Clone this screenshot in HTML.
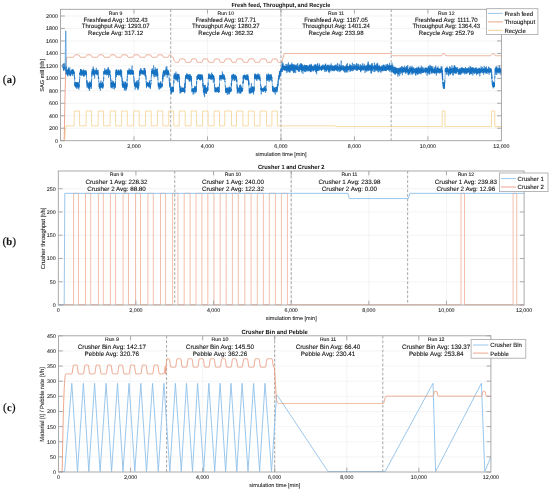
<!DOCTYPE html>
<html><head><meta charset="utf-8"><title>Simulation runs</title>
<style>
html,body{margin:0;padding:0;background:#fff;}
body{width:550px;height:491px;overflow:hidden;}
svg{display:block;filter:blur(0.3px);font-family:"Liberation Sans",Arial,sans-serif;text-rendering:geometricPrecision;}
</style></head>
<body>
<svg width="550" height="491" viewBox="0 0 550 491">
<rect x="0" y="0" width="550" height="491" fill="#ffffff"/>
<line x1="133.98" y1="9.3" x2="133.98" y2="140.7" stroke="#f1f1f1" stroke-width="0.8" />
<line x1="207.47" y1="9.3" x2="207.47" y2="140.7" stroke="#f1f1f1" stroke-width="0.8" />
<line x1="280.95" y1="9.3" x2="280.95" y2="140.7" stroke="#f1f1f1" stroke-width="0.8" />
<line x1="354.43" y1="9.3" x2="354.43" y2="140.7" stroke="#f1f1f1" stroke-width="0.8" />
<line x1="427.92" y1="9.3" x2="427.92" y2="140.7" stroke="#f1f1f1" stroke-width="0.8" />
<line x1="60.5" y1="128.23" x2="501.4" y2="128.23" stroke="#f1f1f1" stroke-width="0.8" />
<line x1="60.5" y1="115.76" x2="501.4" y2="115.76" stroke="#f1f1f1" stroke-width="0.8" />
<line x1="60.5" y1="103.29" x2="501.4" y2="103.29" stroke="#f1f1f1" stroke-width="0.8" />
<line x1="60.5" y1="90.82" x2="501.4" y2="90.82" stroke="#f1f1f1" stroke-width="0.8" />
<line x1="60.5" y1="78.35" x2="501.4" y2="78.35" stroke="#f1f1f1" stroke-width="0.8" />
<line x1="60.5" y1="65.88" x2="501.4" y2="65.88" stroke="#f1f1f1" stroke-width="0.8" />
<line x1="60.5" y1="53.41" x2="501.4" y2="53.41" stroke="#f1f1f1" stroke-width="0.8" />
<line x1="60.5" y1="40.94" x2="501.4" y2="40.94" stroke="#f1f1f1" stroke-width="0.8" />
<line x1="60.5" y1="28.47" x2="501.4" y2="28.47" stroke="#f1f1f1" stroke-width="0.8" />
<line x1="60.5" y1="16" x2="501.4" y2="16" stroke="#f1f1f1" stroke-width="0.8" />
<line x1="170.72" y1="9.3" x2="170.72" y2="140.7" stroke="#8a8a8a" stroke-width="0.75" stroke-dasharray="2.8,1.8"/>
<line x1="280.95" y1="9.3" x2="280.95" y2="140.7" stroke="#8a8a8a" stroke-width="0.75" stroke-dasharray="2.8,1.8"/>
<line x1="391.18" y1="9.3" x2="391.18" y2="140.7" stroke="#8a8a8a" stroke-width="0.75" stroke-dasharray="2.8,1.8"/>
<polyline points="60.5,140.4 64.6,140.4 65.9,125.9 74.2,125.9 74.2,111 79.6,111 79.6,125.9 86.2,125.9 86.2,111 91.6,111 91.6,125.9 98.2,125.9 98.2,111 103.6,111 103.6,125.9 110.2,125.9 110.2,111 115.6,111 115.6,125.9 121.6,125.9 121.6,111 127.3,111 127.3,125.9 133.6,125.9 133.6,111 139.2,111 139.2,125.9 145.6,125.9 145.6,111 151.2,111 151.2,125.9 157.4,125.9 157.4,111 162.8,111 162.8,125.9 168.8,125.9 168.8,111 173.7,111 173.7,125.9 179.2,125.9 179.2,111 185.2,111 185.2,125.9 191.2,125.9 191.2,111 196.6,111 196.6,125.9 202.6,125.9 202.6,111 208.1,111 208.1,125.9 214.1,125.9 214.1,111 219.5,111 219.5,125.9 224.8,125.9 224.8,111 231.5,111 231.5,125.9 236.5,125.9 236.5,111 242.9,111 242.9,125.9 248.3,125.9 248.3,111 254.4,111 254.4,125.9 260.1,125.9 260.1,111 266.5,111 266.5,125.9 271.9,125.9 271.9,111 277.3,111 277.3,125.9 336,125.9 336,126.6 442.2,126.6 442.2,111 445,111 445,126.6 491.5,126.6 491.5,111 494.8,111 494.8,126.6 501.4,126.6" fill="none" stroke="#f4cf8a" stroke-width="0.75" stroke-linejoin="round" />
<polyline points="60.5,140.5 60.75,140.5 61,140.5 61.25,140.5 61.5,140.5 61.75,140.5 62,140.5 62.25,140.5 62.5,140.5 62.75,140.5 63,140.5 63.25,140.5 63.5,140.5 63.75,140.5 64,140.5 64.25,137.27 64.5,122.14 64.75,108.73 65,96.99 65.25,86.88 65.5,78.38 65.75,71.41 66,65.94 66.25,61.89 66.5,59.18 66.75,57.71 67,57.3 67.25,57.3 67.5,57.3 67.75,57.3 68,57.3 68.25,57.3 68.5,57.3 68.75,57.3 69,57.3 69.25,57.3 69.5,57.3 69.75,57.3 70,57.3 70.25,57.3 70.5,57.3 70.75,57.3 71,57.3 71.25,57.3 71.5,57.3 71.75,57.3 72,57.3 72.25,57.3 72.5,57.3 72.75,57.3 73,57.3 73.25,57.3 73.5,57.22 73.75,56.93 74,56.48 74.25,55.94 74.5,55.42 74.75,55.03 75,54.82 75.25,54.8 75.5,54.8 75.75,54.8 76,54.8 76.25,54.8 76.5,54.8 76.75,54.8 77,54.8 77.25,54.8 77.5,54.8 77.75,54.8 78,54.8 78.25,54.8 78.5,54.8 78.75,54.8 79,54.97 79.25,55.33 79.5,55.83 79.75,56.37 80,56.85 80.25,57.18 80.5,57.3 80.75,57.3 81,57.3 81.25,57.3 81.5,57.3 81.75,57.3 82,57.3 82.25,57.3 82.5,57.3 82.75,57.3 83,57.3 83.25,57.3 83.5,57.3 83.75,57.3 84,57.3 84.25,57.3 84.5,57.3 84.75,57.3 85,57.3 85.25,57.3 85.5,57.22 85.75,56.93 86,56.48 86.25,55.94 86.5,55.42 86.75,55.03 87,54.82 87.25,54.8 87.5,54.8 87.75,54.8 88,54.8 88.25,54.8 88.5,54.8 88.75,54.8 89,54.8 89.25,54.8 89.5,54.8 89.75,54.8 90,54.8 90.25,54.8 90.5,54.8 90.75,54.8 91,54.97 91.25,55.33 91.5,55.83 91.75,56.37 92,56.85 92.25,57.18 92.5,57.3 92.75,57.3 93,57.3 93.25,57.3 93.5,57.3 93.75,57.3 94,57.3 94.25,57.3 94.5,57.3 94.75,57.3 95,57.3 95.25,57.3 95.5,57.3 95.75,57.3 96,57.3 96.25,57.3 96.5,57.3 96.75,57.3 97,57.3 97.25,57.3 97.5,57.22 97.75,56.93 98,56.48 98.25,55.94 98.5,55.42 98.75,55.03 99,54.82 99.25,54.8 99.5,54.8 99.75,54.8 100,54.8 100.25,54.8 100.5,54.8 100.75,54.8 101,54.8 101.25,54.8 101.5,54.8 101.75,54.8 102,54.8 102.25,54.8 102.5,54.8 102.75,54.8 103,54.97 103.25,55.33 103.5,55.83 103.75,56.37 104,56.85 104.25,57.18 104.5,57.3 104.75,57.3 105,57.3 105.25,57.3 105.5,57.3 105.75,57.3 106,57.3 106.25,57.3 106.5,57.3 106.75,57.3 107,57.3 107.25,57.3 107.5,57.3 107.75,57.3 108,57.3 108.25,57.3 108.5,57.3 108.75,57.3 109,57.3 109.25,57.3 109.5,57.22 109.75,56.93 110,56.48 110.25,55.94 110.5,55.42 110.75,55.03 111,54.82 111.25,54.8 111.5,54.8 111.75,54.8 112,54.8 112.25,54.8 112.5,54.8 112.75,54.8 113,54.8 113.25,54.8 113.5,54.8 113.75,54.8 114,54.8 114.25,54.8 114.5,54.8 114.75,54.8 115,54.97 115.25,55.33 115.5,55.83 115.75,56.37 116,56.85 116.25,57.18 116.5,57.3 116.75,57.3 117,57.3 117.25,57.3 117.5,57.3 117.75,57.3 118,57.3 118.25,57.3 118.5,57.3 118.75,57.3 119,57.3 119.25,57.3 119.5,57.3 119.75,57.3 120,57.3 120.25,57.3 120.5,57.3 120.75,57.3 121,57.13 121.25,56.77 121.5,56.27 121.75,55.73 122,55.25 122.25,54.92 122.5,54.8 122.75,54.8 123,54.8 123.25,54.8 123.5,54.8 123.75,54.8 124,54.8 124.25,54.8 124.5,54.8 124.75,54.8 125,54.8 125.25,54.8 125.5,54.8 125.75,54.8 126,54.8 126.25,54.8 126.5,54.82 126.75,55.03 127,55.43 127.25,55.94 127.5,56.48 127.75,56.93 128,57.22 128.25,57.3 128.5,57.3 128.75,57.3 129,57.3 129.25,57.3 129.5,57.3 129.75,57.3 130,57.3 130.25,57.3 130.5,57.3 130.75,57.3 131,57.3 131.25,57.3 131.5,57.3 131.75,57.3 132,57.3 132.25,57.3 132.5,57.3 132.75,57.3 133,57.13 133.25,56.77 133.5,56.27 133.75,55.73 134,55.25 134.25,54.92 134.5,54.8 134.75,54.8 135,54.8 135.25,54.8 135.5,54.8 135.75,54.8 136,54.8 136.25,54.8 136.5,54.8 136.75,54.8 137,54.8 137.25,54.8 137.5,54.8 137.75,54.8 138,54.8 138.25,54.8 138.5,54.88 138.75,55.17 139,55.62 139.25,56.16 139.5,56.68 139.75,57.07 140,57.28 140.25,57.3 140.5,57.3 140.75,57.3 141,57.3 141.25,57.3 141.5,57.3 141.75,57.3 142,57.3 142.25,57.3 142.5,57.3 142.75,57.3 143,57.3 143.25,57.3 143.5,57.3 143.75,57.3 144,57.3 144.25,57.3 144.5,57.3 144.75,57.3 145,57.13 145.25,56.77 145.5,56.27 145.75,55.73 146,55.25 146.25,54.92 146.5,54.8 146.75,54.8 147,54.8 147.25,54.8 147.5,54.8 147.75,54.8 148,54.8 148.25,54.8 148.5,54.8 148.75,54.8 149,54.8 149.25,54.8 149.5,54.8 149.75,54.8 150,54.8 150.25,54.8 150.5,54.88 150.75,55.17 151,55.62 151.25,56.16 151.5,56.68 151.75,57.07 152,57.28 152.25,57.3 152.5,57.3 152.75,57.3 153,57.3 153.25,57.3 153.5,57.3 153.75,57.3 154,57.3 154.25,57.3 154.5,57.3 154.75,57.3 155,57.3 155.25,57.3 155.5,57.3 155.75,57.3 156,57.3 156.25,57.3 156.5,57.3 156.75,57.18 157,56.85 157.25,56.37 157.5,55.83 157.75,55.33 158,54.97 158.25,54.8 158.5,54.8 158.75,54.8 159,54.8 159.25,54.8 159.5,54.8 159.75,54.8 160,54.8 160.25,54.8 160.5,54.8 160.75,54.8 161,54.8 161.25,54.8 161.5,54.8 161.75,54.8 162,54.82 162.25,55.03 162.5,55.42 162.75,55.94 163,56.48 163.25,56.93 163.5,57.22 163.75,57.3 164,57.3 164.25,57.3 164.5,57.3 164.75,57.3 165,57.3 165.25,57.3 165.5,57.3 165.75,57.3 166,57.3 166.25,57.3 166.5,57.3 166.75,57.3 167,57.3 167.25,57.3 167.5,57.3 167.75,57.3 168,57.28 168.25,57.07 168.5,56.68 168.75,56.16 169,55.62 169.25,55.17 169.5,54.88 169.75,54.8 170,54.8 170.25,54.8 170.5,55.09 170.75,55.32 171,55.55 171.25,55.77 171.5,56 171.75,56.23 172,56.46 172.25,56.68 172.5,56.91 172.75,57.14 173,57.44 173.25,57.93 173.5,58.58 173.75,59.3 174,60 174.25,60.6 174.5,61.02 174.75,61.26 175,61.49 175.25,61.72 175.5,61.94 175.75,62.17 176,62.4 176.25,62.4 176.5,62.4 176.75,62.4 177,62.4 177.25,62.4 177.5,62.4 177.75,62.4 178,62.4 178.25,62.4 178.5,62.29 178.75,61.89 179,61.25 179.25,60.5 179.5,59.77 179.75,59.22 180,58.93 180.25,58.9 180.5,58.9 180.75,58.9 181,58.9 181.25,58.9 181.5,58.9 181.75,58.9 182,58.9 182.25,58.9 182.5,58.9 182.75,58.9 183,58.9 183.25,58.9 183.5,58.9 183.75,58.9 184,58.9 184.25,58.9 184.5,59.01 184.75,59.41 185,60.05 185.25,60.8 185.5,61.53 185.75,62.08 186,62.37 186.25,62.4 186.5,62.4 186.75,62.4 187,62.4 187.25,62.4 187.5,62.4 187.75,62.4 188,62.4 188.25,62.4 188.5,62.4 188.75,62.4 189,62.4 189.25,62.4 189.5,62.4 189.75,62.4 190,62.4 190.25,62.4 190.5,62.29 190.75,61.89 191,61.25 191.25,60.5 191.5,59.77 191.75,59.22 192,58.93 192.25,58.9 192.5,58.9 192.75,58.9 193,58.9 193.25,58.9 193.5,58.9 193.75,58.9 194,58.9 194.25,58.9 194.5,58.9 194.75,58.9 195,58.9 195.25,58.9 195.5,58.9 195.75,58.91 196,59.13 196.25,59.65 196.5,60.35 196.75,61.1 197,61.77 197.25,62.24 197.5,62.4 197.75,62.4 198,62.4 198.25,62.4 198.5,62.4 198.75,62.4 199,62.4 199.25,62.4 199.5,62.4 199.75,62.4 200,62.4 200.25,62.4 200.5,62.4 200.75,62.4 201,62.4 201.25,62.4 201.5,62.4 201.75,62.39 202,62.17 202.25,61.65 202.5,60.95 202.75,60.2 203,59.53 203.25,59.06 203.5,58.9 203.75,58.9 204,58.9 204.25,58.9 204.5,58.9 204.75,58.9 205,58.9 205.25,58.9 205.5,58.9 205.75,58.9 206,58.9 206.25,58.9 206.5,58.9 206.75,58.9 207,58.9 207.25,58.91 207.5,59.13 207.75,59.65 208,60.35 208.25,61.1 208.5,61.77 208.75,62.24 209,62.4 209.25,62.4 209.5,62.4 209.75,62.4 210,62.4 210.25,62.4 210.5,62.4 210.75,62.4 211,62.4 211.25,62.4 211.5,62.4 211.75,62.4 212,62.4 212.25,62.4 212.5,62.4 212.75,62.4 213,62.4 213.25,62.39 213.5,62.17 213.75,61.65 214,60.95 214.25,60.2 214.5,59.53 214.75,59.06 215,58.9 215.25,58.9 215.5,58.9 215.75,58.9 216,58.9 216.25,58.9 216.5,58.9 216.75,58.9 217,58.9 217.25,58.9 217.5,58.9 217.75,58.9 218,58.9 218.25,58.9 218.5,58.9 218.75,58.96 219,59.31 219.25,59.91 219.5,60.65 219.75,61.39 220,61.99 220.25,62.34 220.5,62.4 220.75,62.4 221,62.4 221.25,62.4 221.5,62.4 221.75,62.4 222,62.4 222.25,62.4 222.5,62.4 222.75,62.4 223,62.4 223.25,62.4 223.5,62.4 223.75,62.4 224,62.37 224.25,62.08 224.5,61.53 224.75,60.8 225,60.05 225.25,59.41 225.5,59.01 225.75,58.9 226,58.9 226.25,58.9 226.5,58.9 226.75,58.9 227,58.9 227.25,58.9 227.5,58.9 227.75,58.9 228,58.9 228.25,58.9 228.5,58.9 228.75,58.9 229,58.9 229.25,58.9 229.5,58.9 229.75,58.9 230,58.9 230.25,58.9 230.5,58.9 230.75,58.96 231,59.31 231.25,59.91 231.5,60.65 231.75,61.39 232,61.99 232.25,62.34 232.5,62.4 232.75,62.4 233,62.4 233.25,62.4 233.5,62.4 233.75,62.4 234,62.4 234.25,62.4 234.5,62.4 234.75,62.4 235,62.4 235.25,62.4 235.5,62.4 235.75,62.34 236,61.99 236.25,61.39 236.5,60.65 236.75,59.91 237,59.31 237.25,58.96 237.5,58.9 237.75,58.9 238,58.9 238.25,58.9 238.5,58.9 238.75,58.9 239,58.9 239.25,58.9 239.5,58.9 239.75,58.9 240,58.9 240.25,58.9 240.5,58.9 240.75,58.9 241,58.9 241.25,58.9 241.5,58.9 241.75,58.9 242,58.9 242.25,59.06 242.5,59.53 242.75,60.2 243,60.95 243.25,61.65 243.5,62.17 243.75,62.39 244,62.4 244.25,62.4 244.5,62.4 244.75,62.4 245,62.4 245.25,62.4 245.5,62.4 245.75,62.4 246,62.4 246.25,62.4 246.5,62.4 246.75,62.4 247,62.4 247.25,62.4 247.5,62.37 247.75,62.08 248,61.53 248.25,60.8 248.5,60.05 248.75,59.41 249,59.01 249.25,58.9 249.5,58.9 249.75,58.9 250,58.9 250.25,58.9 250.5,58.9 250.75,58.9 251,58.9 251.25,58.9 251.5,58.9 251.75,58.9 252,58.9 252.25,58.9 252.5,58.9 252.75,58.9 253,58.9 253.25,58.9 253.5,58.9 253.75,59.06 254,59.53 254.25,60.2 254.5,60.95 254.75,61.65 255,62.17 255.25,62.39 255.5,62.4 255.75,62.4 256,62.4 256.25,62.4 256.5,62.4 256.75,62.4 257,62.4 257.25,62.4 257.5,62.4 257.75,62.4 258,62.4 258.25,62.4 258.5,62.4 258.75,62.4 259,62.4 259.25,62.39 259.5,62.17 259.75,61.65 260,60.95 260.25,60.2 260.5,59.53 260.75,59.06 261,58.9 261.25,58.9 261.5,58.9 261.75,58.9 262,58.9 262.25,58.9 262.5,58.9 262.75,58.9 263,58.9 263.25,58.9 263.5,58.9 263.75,58.9 264,58.9 264.25,58.9 264.5,58.9 264.75,58.9 265,58.9 265.25,58.9 265.5,58.9 265.75,58.96 266,59.31 266.25,59.91 266.5,60.65 266.75,61.39 267,61.99 267.25,62.34 267.5,62.4 267.75,62.4 268,62.4 268.25,62.4 268.5,62.4 268.75,62.4 269,62.4 269.25,62.4 269.5,62.4 269.75,62.4 270,62.4 270.25,62.4 270.5,62.4 270.75,62.4 271,62.4 271.25,62.24 271.5,61.77 271.75,61.1 272,60.35 272.25,59.65 272.5,59.13 272.75,58.91 273,58.9 273.25,58.9 273.5,58.9 273.75,58.9 274,58.9 274.25,58.9 274.5,58.9 274.75,58.9 275,58.9 275.25,58.9 275.5,58.9 275.75,58.9 276,58.9 276.25,58.9 276.5,58.93 276.75,59.22 277,59.78 277.25,60.5 277.5,61.25 277.75,61.89 278,62.29 278.25,62.4 278.5,62.4 278.75,62.43 279,62.48 279.25,62.53 279.5,62.59 279.75,62.64 280,62.69 280.25,62.74 280.5,62.79 280.75,62.84 281,62.9 281.25,62.95 281.5,63 281.75,62.13 282,61.26 282.25,60.39 282.5,59.52 282.75,58.65 283,57.77 283.25,56.9 283.5,56.03 283.75,55.16 284,54.29 284.25,53.5 284.5,53.5 284.75,53.5 285,53.5 285.25,53.5 285.5,53.5 285.75,53.5 286,53.5 286.25,53.5 286.5,53.5 286.75,53.5 287,53.5 287.25,53.5 287.5,53.5 287.75,53.5 288,53.5 288.25,53.5 288.5,53.5 288.75,53.5 289,53.5 289.25,53.5 289.5,53.5 289.75,53.5 290,53.5 290.25,53.5 290.5,53.5 290.75,53.5 291,53.5 291.25,53.5 291.5,53.5 291.75,53.5 292,53.5 292.25,53.5 292.5,53.5 292.75,53.5 293,53.5 293.25,53.5 293.5,53.5 293.75,53.5 294,53.5 294.25,53.5 294.5,53.5 294.75,53.5 295,53.5 295.25,53.5 295.5,53.5 295.75,53.5 296,53.5 296.25,53.5 296.5,53.5 296.75,53.5 297,53.5 297.25,53.5 297.5,53.5 297.75,53.5 298,53.5 298.25,53.5 298.5,53.5 298.75,53.5 299,53.5 299.25,53.5 299.5,53.5 299.75,53.5 300,53.5 300.25,53.5 300.5,53.5 300.75,53.5 301,53.5 301.25,53.5 301.5,53.5 301.75,53.5 302,53.5 302.25,53.5 302.5,53.5 302.75,53.5 303,53.5 303.25,53.5 303.5,53.5 303.75,53.5 304,53.5 304.25,53.5 304.5,53.5 304.75,53.5 305,53.5 305.25,53.5 305.5,53.5 305.75,53.5 306,53.5 306.25,53.5 306.5,53.5 306.75,53.5 307,53.5 307.25,53.5 307.5,53.5 307.75,53.5 308,53.5 308.25,53.5 308.5,53.5 308.75,53.5 309,53.5 309.25,53.5 309.5,53.5 309.75,53.5 310,53.5 310.25,53.5 310.5,53.5 310.75,53.5 311,53.5 311.25,53.5 311.5,53.5 311.75,53.5 312,53.5 312.25,53.5 312.5,53.5 312.75,53.5 313,53.5 313.25,53.5 313.5,53.5 313.75,53.5 314,53.5 314.25,53.5 314.5,53.5 314.75,53.5 315,53.5 315.25,53.5 315.5,53.5 315.75,53.5 316,53.5 316.25,53.5 316.5,53.5 316.75,53.5 317,53.5 317.25,53.5 317.5,53.5 317.75,53.5 318,53.5 318.25,53.5 318.5,53.5 318.75,53.5 319,53.5 319.25,53.5 319.5,53.5 319.75,53.5 320,53.5 320.25,53.5 320.5,53.5 320.75,53.5 321,53.5 321.25,53.5 321.5,53.5 321.75,53.5 322,53.5 322.25,53.5 322.5,53.5 322.75,53.5 323,53.5 323.25,53.5 323.5,53.5 323.75,53.5 324,53.5 324.25,53.5 324.5,53.5 324.75,53.5 325,53.5 325.25,53.5 325.5,53.5 325.75,53.5 326,53.5 326.25,53.5 326.5,53.5 326.75,53.5 327,53.5 327.25,53.5 327.5,53.5 327.75,53.5 328,53.5 328.25,53.5 328.5,53.5 328.75,53.5 329,53.5 329.25,53.5 329.5,53.5 329.75,53.5 330,53.5 330.25,53.5 330.5,53.5 330.75,53.5 331,53.5 331.25,53.5 331.5,53.5 331.75,53.5 332,53.5 332.25,53.5 332.5,53.5 332.75,53.5 333,53.5 333.25,53.5 333.5,53.5 333.75,53.5 334,53.5 334.25,53.5 334.5,53.5 334.75,53.5 335,53.5 335.25,53.5 335.5,53.5 335.75,53.5 336,53.5 336.25,53.5 336.5,53.5 336.75,53.5 337,53.5 337.25,53.5 337.5,53.5 337.75,53.5 338,53.5 338.25,53.5 338.5,53.5 338.75,53.5 339,53.5 339.25,53.5 339.5,53.5 339.75,53.5 340,53.5 340.25,53.5 340.5,53.5 340.75,53.5 341,53.5 341.25,53.5 341.5,53.5 341.75,53.5 342,53.5 342.25,53.5 342.5,53.5 342.75,53.5 343,53.5 343.25,53.5 343.5,53.5 343.75,53.5 344,53.5 344.25,53.5 344.5,53.5 344.75,53.5 345,53.5 345.25,53.5 345.5,53.5 345.75,53.5 346,53.5 346.25,53.5 346.5,53.5 346.75,53.5 347,53.5 347.25,53.5 347.5,53.5 347.75,53.5 348,53.5 348.25,53.5 348.5,53.5 348.75,53.5 349,53.5 349.25,53.5 349.5,53.5 349.75,53.5 350,53.5 350.25,53.5 350.5,53.5 350.75,53.5 351,53.5 351.25,53.5 351.5,53.5 351.75,53.5 352,53.5 352.25,53.5 352.5,53.5 352.75,53.5 353,53.5 353.25,53.5 353.5,53.5 353.75,53.5 354,53.5 354.25,53.5 354.5,53.5 354.75,53.5 355,53.5 355.25,53.5 355.5,53.5 355.75,53.5 356,53.5 356.25,53.5 356.5,53.5 356.75,53.5 357,53.5 357.25,53.5 357.5,53.5 357.75,53.5 358,53.5 358.25,53.5 358.5,53.5 358.75,53.5 359,53.5 359.25,53.5 359.5,53.5 359.75,53.5 360,53.5 360.25,53.5 360.5,53.5 360.75,53.5 361,53.5 361.25,53.5 361.5,53.5 361.75,53.5 362,53.5 362.25,53.5 362.5,53.5 362.75,53.5 363,53.5 363.25,53.5 363.5,53.5 363.75,53.5 364,53.5 364.25,53.5 364.5,53.5 364.75,53.5 365,53.5 365.25,53.5 365.5,53.5 365.75,53.5 366,53.5 366.25,53.5 366.5,53.5 366.75,53.5 367,53.5 367.25,53.5 367.5,53.5 367.75,53.5 368,53.5 368.25,53.5 368.5,53.5 368.75,53.5 369,53.5 369.25,53.5 369.5,53.5 369.75,53.5 370,53.5 370.25,53.5 370.5,53.5 370.75,53.5 371,53.5 371.25,53.5 371.5,53.5 371.75,53.5 372,53.5 372.25,53.5 372.5,53.5 372.75,53.5 373,53.5 373.25,53.5 373.5,53.5 373.75,53.5 374,53.5 374.25,53.5 374.5,53.5 374.75,53.5 375,53.5 375.25,53.5 375.5,53.5 375.75,53.5 376,53.5 376.25,53.5 376.5,53.5 376.75,53.5 377,53.5 377.25,53.5 377.5,53.5 377.75,53.5 378,53.5 378.25,53.5 378.5,53.5 378.75,53.5 379,53.5 379.25,53.5 379.5,53.5 379.75,53.5 380,53.5 380.25,53.5 380.5,53.5 380.75,53.5 381,53.5 381.25,53.5 381.5,53.5 381.75,53.5 382,53.5 382.25,53.5 382.5,53.5 382.75,53.5 383,53.5 383.25,53.5 383.5,53.5 383.75,53.5 384,53.5 384.25,53.5 384.5,53.5 384.75,53.5 385,53.5 385.25,53.5 385.5,53.5 385.75,53.5 386,53.5 386.25,53.5 386.5,53.5 386.75,53.5 387,53.5 387.25,53.5 387.5,53.5 387.75,53.5 388,53.5 388.25,53.5 388.5,53.5 388.75,53.5 389,53.5 389.25,53.5 389.5,53.5 389.75,53.5 390,53.5 390.25,53.5 390.5,53.58 390.75,53.8 391,54.01 391.25,54.22 391.5,54.43 391.75,54.64 392,54.85 392.25,55.07 392.5,55.28 392.75,55.49 393,55.7 393.25,55.7 393.5,55.7 393.75,55.7 394,55.7 394.25,55.7 394.5,55.7 394.75,55.7 395,55.7 395.25,55.7 395.5,55.7 395.75,55.7 396,55.7 396.25,55.7 396.5,55.7 396.75,55.7 397,55.7 397.25,55.7 397.5,55.7 397.75,55.7 398,55.7 398.25,55.7 398.5,55.7 398.75,55.7 399,55.7 399.25,55.7 399.5,55.7 399.75,55.7 400,55.7 400.25,55.7 400.5,55.7 400.75,55.7 401,55.7 401.25,55.7 401.5,55.7 401.75,55.7 402,55.7 402.25,55.7 402.5,55.7 402.75,55.7 403,55.7 403.25,55.7 403.5,55.7 403.75,55.7 404,55.7 404.25,55.7 404.5,55.7 404.75,55.7 405,55.7 405.25,55.7 405.5,55.7 405.75,55.7 406,55.7 406.25,55.7 406.5,55.7 406.75,55.7 407,55.7 407.25,55.7 407.5,55.7 407.75,55.7 408,55.7 408.25,55.7 408.5,55.7 408.75,55.7 409,55.7 409.25,55.7 409.5,55.7 409.75,55.7 410,55.7 410.25,55.7 410.5,55.7 410.75,55.7 411,55.7 411.25,55.7 411.5,55.7 411.75,55.7 412,55.7 412.25,55.7 412.5,55.7 412.75,55.7 413,55.7 413.25,55.7 413.5,55.7 413.75,55.7 414,55.7 414.25,55.7 414.5,55.7 414.75,55.7 415,55.7 415.25,55.7 415.5,55.7 415.75,55.7 416,55.7 416.25,55.7 416.5,55.7 416.75,55.7 417,55.7 417.25,55.7 417.5,55.7 417.75,55.7 418,55.7 418.25,55.7 418.5,55.7 418.75,55.7 419,55.7 419.25,55.7 419.5,55.7 419.75,55.7 420,55.7 420.25,55.7 420.5,55.7 420.75,55.7 421,55.7 421.25,55.7 421.5,55.7 421.75,55.7 422,55.7 422.25,55.7 422.5,55.7 422.75,55.7 423,55.7 423.25,55.7 423.5,55.7 423.75,55.7 424,55.7 424.25,55.7 424.5,55.7 424.75,55.7 425,55.7 425.25,55.7 425.5,55.7 425.75,55.7 426,55.7 426.25,55.7 426.5,55.7 426.75,55.7 427,55.7 427.25,55.7 427.5,55.7 427.75,55.7 428,55.7 428.25,55.7 428.5,55.7 428.75,55.7 429,55.7 429.25,55.7 429.5,55.7 429.75,55.7 430,55.7 430.25,55.7 430.5,55.7 430.75,55.7 431,55.7 431.25,55.7 431.5,55.7 431.75,55.7 432,55.7 432.25,55.7 432.5,55.7 432.75,55.7 433,55.7 433.25,55.7 433.5,55.7 433.75,55.7 434,55.7 434.25,55.7 434.5,55.7 434.75,55.7 435,55.7 435.25,55.7 435.5,55.7 435.75,55.7 436,55.7 436.25,55.7 436.5,55.7 436.75,55.7 437,55.7 437.25,55.7 437.5,55.7 437.75,55.7 438,55.7 438.25,55.7 438.5,55.7 438.75,55.7 439,55.7 439.25,55.7 439.5,55.7 439.75,55.7 440,55.7 440.25,55.7 440.5,55.7 440.75,55.7 441,55.7 441.25,55.7 441.5,55.64 441.75,55.39 442,55.01 442.25,54.56 442.5,54.13 442.75,53.79 443,53.62 443.25,53.6 443.5,53.6 443.75,53.6 444,53.6 444.25,53.64 444.5,53.85 444.75,54.21 445,54.65 445.25,55.09 445.5,55.45 445.75,55.66 446,55.7 446.25,55.7 446.5,55.7 446.75,55.7 447,55.7 447.25,55.7 447.5,55.7 447.75,55.7 448,55.7 448.25,55.7 448.5,55.7 448.75,55.7 449,55.7 449.25,55.7 449.5,55.7 449.75,55.7 450,55.7 450.25,55.7 450.5,55.7 450.75,55.7 451,55.7 451.25,55.7 451.5,55.7 451.75,55.7 452,55.7 452.25,55.7 452.5,55.7 452.75,55.7 453,55.7 453.25,55.7 453.5,55.7 453.75,55.7 454,55.7 454.25,55.7 454.5,55.7 454.75,55.7 455,55.7 455.25,55.7 455.5,55.7 455.75,55.7 456,55.7 456.25,55.7 456.5,55.7 456.75,55.7 457,55.7 457.25,55.7 457.5,55.7 457.75,55.7 458,55.7 458.25,55.7 458.5,55.7 458.75,55.7 459,55.7 459.25,55.7 459.5,55.7 459.75,55.7 460,55.7 460.25,55.7 460.5,55.7 460.75,55.7 461,55.7 461.25,55.7 461.5,55.7 461.75,55.7 462,55.7 462.25,55.7 462.5,55.7 462.75,55.7 463,55.7 463.25,55.7 463.5,55.7 463.75,55.7 464,55.7 464.25,55.7 464.5,55.7 464.75,55.7 465,55.7 465.25,55.7 465.5,55.7 465.75,55.7 466,55.7 466.25,55.7 466.5,55.7 466.75,55.7 467,55.7 467.25,55.7 467.5,55.7 467.75,55.7 468,55.7 468.25,55.7 468.5,55.7 468.75,55.7 469,55.7 469.25,55.7 469.5,55.7 469.75,55.7 470,55.7 470.25,55.7 470.5,55.7 470.75,55.7 471,55.7 471.25,55.7 471.5,55.7 471.75,55.7 472,55.7 472.25,55.7 472.5,55.7 472.75,55.7 473,55.7 473.25,55.7 473.5,55.7 473.75,55.7 474,55.7 474.25,55.7 474.5,55.7 474.75,55.7 475,55.7 475.25,55.7 475.5,55.7 475.75,55.7 476,55.7 476.25,55.7 476.5,55.7 476.75,55.7 477,55.7 477.25,55.7 477.5,55.7 477.75,55.7 478,55.7 478.25,55.7 478.5,55.7 478.75,55.7 479,55.7 479.25,55.7 479.5,55.7 479.75,55.7 480,55.7 480.25,55.7 480.5,55.7 480.75,55.7 481,55.7 481.25,55.7 481.5,55.7 481.75,55.7 482,55.7 482.25,55.7 482.5,55.7 482.75,55.7 483,55.7 483.25,55.7 483.5,55.7 483.75,55.7 484,55.7 484.25,55.7 484.5,55.7 484.75,55.7 485,55.7 485.25,55.7 485.5,55.7 485.75,55.7 486,55.7 486.25,55.7 486.5,55.7 486.75,55.7 487,55.7 487.25,55.7 487.5,55.7 487.75,55.7 488,55.7 488.25,55.7 488.5,55.7 488.75,55.7 489,55.7 489.25,55.7 489.5,55.7 489.75,55.7 490,55.7 490.25,55.7 490.5,55.7 490.75,55.66 491,55.45 491.25,55.09 491.5,54.65 491.75,54.21 492,53.85 492.25,53.64 492.5,53.6 492.75,53.6 493,53.6 493.25,53.6 493.5,53.6 493.75,53.6 494,53.62 494.25,53.79 494.5,54.13 494.75,54.56 495,55.01 495.25,55.39 495.5,55.64 495.75,55.7 496,55.7 496.25,55.7 496.5,55.7 496.75,55.7 497,55.7 497.25,55.7 497.5,55.7 497.75,55.7 498,55.7 498.25,55.7 498.5,55.7 498.75,55.7 499,55.7 499.25,55.7 499.5,55.7 499.75,55.7 500,55.7 500.25,55.7 500.5,55.7 500.75,55.7 501,55.7 501.25,55.7" fill="none" stroke="#ea9c80" stroke-width="0.9" stroke-linejoin="round" />
<polyline points="62.8,64.24 62.85,65.69 62.9,68.15 62.95,66.95 63,64.28 63.05,64.18 63.1,65.76 63.15,66.53 63.2,66.52 63.25,64.87 63.3,65.21 63.35,66.79 63.4,66.59 63.45,69.65 63.5,67.01 63.55,64.21 63.6,63.32 63.65,66.15 63.7,66.18 63.75,67.79 63.8,71.02 63.85,67.59 63.9,69.23 63.95,67.8 64,67.38 64.05,68.56 64.1,69.7 64.15,66.71 64.2,66.56 64.25,67.14 64.3,66.89 64.35,66.16 64.4,66.98 64.45,67.49 64.5,67.55 64.55,67.33 64.6,64.52 64.65,63.23 64.7,66.35 64.75,67.47 64.8,65.34 64.85,66.65 64.9,64.44 64.95,67.25 65,67.04 65.05,66.95 65.1,67.18 65.15,67 65.2,69.7 65.25,66.88 65.3,66.72 65.35,68.07 65.4,65.75 65.45,68.35 65.5,68.05 65.55,68.29 65.6,68.6 65.65,67.48 65.7,68.92 65.75,68.87 65.8,69.98 65.85,69.29 65.9,70.36 65.95,70.95 66,70.26 66.05,68.87 66.1,74.64 66.15,68.74 66.2,70.6 66.25,65.66 66.3,71.89 66.35,68.6 66.4,70.06 66.45,73.99 66.5,69.29 66.55,67.13 66.6,68.41 66.65,70.55 66.7,69.82 66.75,69 66.8,70.53 66.85,73.38 66.9,69.73 66.95,72.16 67,71.41 67.05,73.09 67.1,73.45 67.15,74.76 67.2,70.84 67.25,70.14 67.3,73.13 67.35,70.58 67.4,73.35 67.45,72.26 67.5,71.04 67.55,70.52 67.6,69.74 67.65,72.21 67.7,75.73 67.75,72.15 67.8,76.52 67.85,73.16 67.9,71.21 67.95,72.37 68,73.58 68.05,72.1 68.1,73.52 68.15,71.43 68.2,71.79 68.25,68.79 68.3,73.56 68.35,73.42 68.4,72.74 68.45,67.38 68.5,72.7 68.55,73.76 68.6,73.65 68.65,69.68 68.7,72.31 68.75,72.55 68.8,74.74 68.85,70.99 68.9,72.74 68.95,71.5 69,72.85 69.05,72.6 69.1,74.56 69.15,71.35 69.2,70.99 69.25,72.86 69.3,68.94 69.35,73.37 69.4,72.97 69.45,73.44 69.5,75.2 69.55,73.42 69.6,72.99 69.65,74.05 69.7,70.92 69.75,67.38 69.8,70.07 69.85,72.5 69.9,74.73 69.95,72.34 70,75.17 70.05,73.63 70.1,75.76 70.15,71.65 70.2,71.96 70.25,71.88 70.3,71.86 70.35,72.8 70.4,71.79 70.45,72.22 70.5,76.31 70.55,74.85 70.6,74.44 70.65,74.4 70.7,73.47 70.75,74.18 70.8,74.73 70.85,71.22 70.9,70.22 70.95,72.16 71,71.64 71.05,72.31 71.1,73.75 71.15,72.97 71.2,74 71.25,74.08 71.3,72.37 71.35,72.37 71.4,70.71 71.45,72.14 71.5,69.95 71.55,72.89 71.6,71.36 71.65,71.28 71.7,70.83 71.75,69.93 71.8,70.52 71.85,71.69 71.9,70.3 71.95,72.92 72,72.56 72.05,74.28 72.1,71.98 72.15,73.44 72.2,69.02 72.25,72.31 72.3,75.98 72.35,75.08 72.4,71.86 72.45,73.17 72.5,71.77 72.55,72.14 72.6,74.13 72.65,71.5 72.7,73.09 72.75,73.07 72.8,73.14 72.85,69.09 72.9,70.96 72.95,73.42 73,70.85 73.05,69.81 73.1,70.52 73.15,71.9 73.2,73.41 73.25,72.28 73.3,69.96 73.35,73.64 73.4,72.37 73.45,73.93 73.5,73.61 73.55,70.43 73.6,72.26 73.65,72.62 73.7,74.01 73.75,72.75 73.8,71.5 73.85,72.92 73.9,72.03 73.95,73.83 74,71.25 74.05,74.01 74.1,73.89 74.15,75.57 74.2,72.39 74.25,74.12 74.3,74.74 74.35,76.86 74.4,75.45 74.45,76.6 74.5,78.43 74.55,79.25 74.6,79.43 74.65,76.84 74.7,81.34 74.75,82.83 74.8,85.25 74.85,82.92 74.9,82.61 74.95,83.81 75,86 75.05,81.95 75.1,85.58 75.15,85.27 75.2,84.52 75.25,86.94 75.3,85.97 75.35,86.14 75.4,84.67 75.45,87.07 75.5,86.21 75.55,85.29 75.6,82.26 75.65,83.64 75.7,81.95 75.75,86.04 75.8,85.3 75.85,86.57 75.9,87.25 75.95,83.87 76,87.89 76.05,87.6 76.1,85.25 76.15,85.79 76.2,85.31 76.25,83.28 76.3,85.31 76.35,86.81 76.4,84.52 76.45,85.42 76.5,85.74 76.55,82.28 76.6,82.06 76.65,88.81 76.7,84.62 76.75,84.72 76.8,86.15 76.85,86.81 76.9,82.85 76.95,84.87 77,84.31 77.05,82.77 77.1,86.25 77.15,84.66 77.2,86.09 77.25,85.89 77.3,84.43 77.35,85.48 77.4,83.94 77.45,84.11 77.5,86.69 77.55,85.12 77.6,86.93 77.65,82.17 77.7,84.02 77.75,88.37 77.8,84.88 77.85,82.94 77.9,84.07 77.95,83.35 78,86.58 78.05,83.59 78.1,86.41 78.15,85.56 78.2,82.08 78.25,85.19 78.3,84.8 78.35,85.88 78.4,84.9 78.45,87.14 78.5,86.33 78.55,83.1 78.6,85.41 78.65,85.94 78.7,83.94 78.75,89.6 78.8,88.46 78.85,85.47 78.9,85.72 78.95,87.82 79,83.59 79.05,83.84 79.1,85.68 79.15,86.88 79.2,85.99 79.25,85.75 79.3,86.11 79.35,81.39 79.4,82.61 79.45,82.91 79.5,79.52 79.55,81.66 79.6,78.86 79.65,79.56 79.7,76.98 79.75,77.69 79.8,72.7 79.85,74.92 79.9,74.86 79.95,73 80,74.87 80.05,73.94 80.1,72.58 80.15,73.08 80.2,74.31 80.25,70.81 80.3,74.27 80.35,73.08 80.4,72.86 80.45,74.18 80.5,74.22 80.55,69.48 80.6,71.42 80.65,69.22 80.7,73.96 80.75,69.16 80.8,72.88 80.85,73.33 80.9,71.91 80.95,70.09 81,73.62 81.05,75.87 81.1,73.83 81.15,73.02 81.2,69.48 81.25,75.29 81.3,70.65 81.35,69.96 81.4,71 81.45,69.78 81.5,71.33 81.55,75.65 81.6,72.97 81.65,71.81 81.7,72.63 81.75,71.12 81.8,73.75 81.85,74.18 81.9,70.09 81.95,72.19 82,73.06 82.05,70.93 82.1,72.96 82.15,73.44 82.2,73.8 82.25,73.44 82.3,73 82.35,74.54 82.4,71.52 82.45,72.23 82.5,74.32 82.55,70.38 82.6,72.1 82.65,71.71 82.7,74.74 82.75,74.24 82.8,71.97 82.85,73.05 82.9,71.77 82.95,71.94 83,74.06 83.05,71.56 83.1,73.99 83.15,72.15 83.2,75.96 83.25,74.3 83.3,71.43 83.35,75.65 83.4,74.45 83.45,72.48 83.5,70.7 83.55,72.78 83.6,69.27 83.65,73.18 83.7,76.33 83.75,75.82 83.8,70.43 83.85,70.73 83.9,76.74 83.95,70.62 84,72.9 84.05,73.61 84.1,74.09 84.15,73.12 84.2,73.13 84.25,71.61 84.3,73.22 84.35,70.68 84.4,72.95 84.45,71.26 84.5,72.99 84.55,76.16 84.6,71.62 84.65,72.37 84.7,72.24 84.75,71.23 84.8,72.56 84.85,73.74 84.9,74.16 84.95,72.75 85,73.31 85.05,73.67 85.1,71.62 85.15,72.03 85.2,74.69 85.25,72.4 85.3,72.48 85.35,70.11 85.4,72.37 85.45,73.31 85.5,73.34 85.55,70.66 85.6,72.64 85.65,71.48 85.7,72.09 85.75,71.68 85.8,71.41 85.85,73.32 85.9,74.52 85.95,71.42 86,74.62 86.05,70.52 86.1,74.94 86.15,73.99 86.2,75.48 86.25,74.33 86.3,75.22 86.35,72.36 86.4,73.82 86.45,77.17 86.5,76.52 86.55,79.48 86.6,81.42 86.65,81.16 86.7,81.47 86.75,82.51 86.8,81.81 86.85,79.97 86.9,83.08 86.95,80.6 87,84.85 87.05,87.75 87.1,84.11 87.15,83.04 87.2,84.88 87.25,82.05 87.3,82.86 87.35,84.39 87.4,84.62 87.45,84.54 87.5,85.84 87.55,85.13 87.6,85.2 87.65,86.54 87.7,86.53 87.75,86.52 87.8,84.03 87.85,82.93 87.9,86.5 87.95,85.76 88,84.48 88.05,85.52 88.1,86.42 88.15,86.11 88.2,85.83 88.25,88.37 88.3,87.19 88.35,86.6 88.4,85.87 88.45,85.68 88.5,88.28 88.55,82.63 88.6,86.92 88.65,84.21 88.7,86.03 88.75,85.98 88.8,83.27 88.85,87.98 88.9,85.48 88.95,87.74 89,88.24 89.05,88.38 89.1,84.3 89.15,87.6 89.2,87.55 89.25,89.26 89.3,84.12 89.35,83.11 89.4,90.88 89.45,83.22 89.5,86.68 89.55,86.31 89.6,81.18 89.65,84.64 89.7,84.7 89.75,83.6 89.8,84.49 89.85,84.38 89.9,86.57 89.95,86.76 90,88.78 90.05,85.23 90.1,84.14 90.15,85.7 90.2,86.84 90.25,86.86 90.3,84.02 90.35,85.01 90.4,82.6 90.45,86.11 90.5,82.29 90.55,85.91 90.6,84.36 90.65,85.68 90.7,85.5 90.75,82.62 90.8,84.99 90.85,84.49 90.9,85.52 90.95,86.49 91,85.58 91.05,86.98 91.1,84.16 91.15,84.97 91.2,85.73 91.25,86.36 91.3,83.63 91.35,88.79 91.4,80.33 91.45,83.24 91.5,85.19 91.55,79.32 91.6,80 91.65,80.6 91.7,76.02 91.75,72.96 91.8,76.91 91.85,72.23 91.9,72.83 91.95,70.82 92,72.04 92.05,72.81 92.1,73.75 92.15,71.71 92.2,71.35 92.25,69.78 92.3,68.84 92.35,70.45 92.4,73.1 92.45,74.36 92.5,72.44 92.55,73.23 92.6,70.54 92.65,71.57 92.7,70.91 92.75,73.02 92.8,72.13 92.85,69.45 92.9,71.37 92.95,74.97 93,72 93.05,72.77 93.1,72.18 93.15,71.84 93.2,66.54 93.25,73.71 93.3,72.67 93.35,73.68 93.4,72.52 93.45,74.35 93.5,68.96 93.55,71.52 93.6,74.46 93.65,73.37 93.7,72.97 93.75,68.69 93.8,71.41 93.85,72.96 93.9,69.75 93.95,71.56 94,72.96 94.05,76.02 94.1,71.85 94.15,69.98 94.2,71.42 94.25,70.99 94.3,70.78 94.35,74.15 94.4,71.72 94.45,75.88 94.5,72.73 94.55,73.01 94.6,74 94.65,70.62 94.7,78.46 94.75,71.82 94.8,73.88 94.85,71.02 94.9,71.76 94.95,74.15 95,71.37 95.05,72.31 95.1,74.04 95.15,70.8 95.2,72.47 95.25,72.68 95.3,71.58 95.35,71.7 95.4,74.05 95.45,71.44 95.5,70.6 95.55,72.49 95.6,72.25 95.65,73.01 95.7,71.58 95.75,72.38 95.8,72.75 95.85,73.75 95.9,70.51 95.95,70.1 96,70.7 96.05,72.68 96.1,70.86 96.15,74.08 96.2,69.77 96.25,72.7 96.3,67.79 96.35,73.91 96.4,73.13 96.45,74.83 96.5,70.14 96.55,74.34 96.6,71.42 96.65,70.54 96.7,70.72 96.75,73.1 96.8,73.65 96.85,71.64 96.9,70.65 96.95,72.44 97,71.39 97.05,70.66 97.1,72.11 97.15,71.32 97.2,74.21 97.25,71.21 97.3,72.55 97.35,73.61 97.4,71.37 97.45,72.44 97.5,72.25 97.55,72.46 97.6,70.59 97.65,74.18 97.7,72.14 97.75,71.79 97.8,74.48 97.85,72.26 97.9,75.73 97.95,69.75 98,70 98.05,70.5 98.1,70.06 98.15,74.07 98.2,73.97 98.25,75.74 98.3,76.08 98.35,78.25 98.4,76.38 98.45,78.44 98.5,78.64 98.55,79.07 98.6,78.85 98.65,77.29 98.7,81.61 98.75,80.8 98.8,81.32 98.85,83.47 98.9,83.36 98.95,85.68 99,85.42 99.05,85.43 99.1,87.09 99.15,86.51 99.2,84.62 99.25,83.48 99.3,85.3 99.35,85.94 99.4,88.8 99.45,84 99.5,88.12 99.55,83.82 99.6,85.09 99.65,83.4 99.7,83.45 99.75,84.81 99.8,84.21 99.85,84.95 99.9,86.81 99.95,84.02 100,85.3 100.05,84.84 100.1,86.33 100.15,85.55 100.2,82.16 100.25,84.26 100.3,83.55 100.35,90.77 100.4,85.88 100.45,85.37 100.5,86.56 100.55,87.92 100.6,84.01 100.65,83.94 100.7,83.84 100.75,86.06 100.8,85.35 100.85,85.42 100.9,86.14 100.95,80.61 101,85.46 101.05,85.46 101.1,85.84 101.15,86.88 101.2,88.08 101.25,83.47 101.3,84.76 101.35,84.61 101.4,83.88 101.45,86.79 101.5,86.16 101.55,85.83 101.6,83.66 101.65,84.59 101.7,85.99 101.75,87.59 101.8,85.48 101.85,87 101.9,83.96 101.95,83.31 102,84.64 102.05,86.49 102.1,83.86 102.15,84.65 102.2,86.36 102.25,81.75 102.3,84 102.35,86.82 102.4,85.54 102.45,87.18 102.5,86.6 102.55,88.52 102.6,82.32 102.65,85.18 102.7,86.59 102.75,83.13 102.8,86.46 102.85,86.28 102.9,86.05 102.95,84.11 103,88.35 103.05,84.29 103.1,86.88 103.15,86.86 103.2,84 103.25,84.23 103.3,83.24 103.35,83.1 103.4,82.81 103.45,80.5 103.5,79.4 103.55,80.18 103.6,80.72 103.65,77.29 103.7,78.77 103.75,75.42 103.8,72 103.85,74.74 103.9,71.08 103.95,71.2 104,73.77 104.05,71.11 104.1,72.07 104.15,71.55 104.2,71.89 104.25,72.7 104.3,72.12 104.35,72.18 104.4,72.66 104.45,72.22 104.5,72.79 104.55,71.5 104.6,72.88 104.65,70.17 104.7,73.98 104.75,68.14 104.8,73.71 104.85,72.58 104.9,72.26 104.95,73.02 105,72.73 105.05,73.11 105.1,73.16 105.15,72.78 105.2,74.96 105.25,73.96 105.3,72.67 105.35,71.92 105.4,71.85 105.45,71.56 105.5,69.89 105.55,71.38 105.6,74.03 105.65,70.96 105.7,71.24 105.75,71.6 105.8,71.44 105.85,70.29 105.9,72.7 105.95,70.99 106,71.25 106.05,72.69 106.1,71.96 106.15,74.58 106.2,74.39 106.25,70.33 106.3,69.49 106.35,74.11 106.4,71.2 106.45,72.46 106.5,73.03 106.55,71.05 106.6,69.97 106.65,73.03 106.7,73.12 106.75,75.3 106.8,72.76 106.85,71.25 106.9,72.05 106.95,72.64 107,71.51 107.05,72.12 107.1,73.74 107.15,70.62 107.2,69.57 107.25,71.58 107.3,71.1 107.35,73.28 107.4,71.2 107.45,71.59 107.5,70.98 107.55,72.3 107.6,71.32 107.65,73.65 107.7,72.8 107.75,74.91 107.8,72.27 107.85,71.14 107.9,74.8 107.95,71.21 108,67.74 108.05,73.03 108.1,72.28 108.15,69.25 108.2,69.51 108.25,73.24 108.3,72.63 108.35,71.46 108.4,67.33 108.45,71.37 108.5,71.7 108.55,77.62 108.6,68.69 108.65,71.15 108.7,72.04 108.75,71.76 108.8,70.51 108.85,70.59 108.9,70.69 108.95,71.63 109,73.37 109.05,72.6 109.1,72.95 109.15,74.82 109.2,72.04 109.25,69.87 109.3,72.01 109.35,72.28 109.4,75.02 109.45,72.04 109.5,72.69 109.55,72.59 109.6,74.52 109.65,70.51 109.7,71.29 109.75,71.85 109.8,72.39 109.85,72.03 109.9,72.84 109.95,71.88 110,70.67 110.05,71.38 110.1,74.62 110.15,76.47 110.2,75.12 110.25,75.19 110.3,75.3 110.35,75.23 110.4,76.35 110.45,77.31 110.5,78.79 110.55,75.36 110.6,74.62 110.65,81.07 110.7,78.9 110.75,80.32 110.8,82.96 110.85,84.6 110.9,83.32 110.95,82.42 111,84.52 111.05,87.05 111.1,82.81 111.15,86.23 111.2,88.26 111.25,85.06 111.3,86.18 111.35,87.61 111.4,83.89 111.45,82.81 111.5,85.7 111.55,86.59 111.6,81.94 111.65,83.05 111.7,85.69 111.75,84.2 111.8,85.8 111.85,82.54 111.9,84.84 111.95,79.81 112,85.65 112.05,86.04 112.1,86.42 112.15,85.94 112.2,85.9 112.25,86.01 112.3,87.81 112.35,81.91 112.4,83.92 112.45,84.08 112.5,86.58 112.55,85.89 112.6,84.79 112.65,86.88 112.7,84.86 112.75,86.74 112.8,84.32 112.85,85.75 112.9,83.3 112.95,83.93 113,85.58 113.05,88.87 113.1,82.89 113.15,81.45 113.2,83.42 113.25,81.39 113.3,82.94 113.35,84.37 113.4,85.02 113.45,85.98 113.5,81.53 113.55,86.27 113.6,84.25 113.65,86.07 113.7,84.2 113.75,86.27 113.8,82.85 113.85,85.15 113.9,84.35 113.95,83.04 114,84.09 114.05,85.26 114.1,83.09 114.15,86.44 114.2,84.66 114.25,85.11 114.3,89.47 114.35,84.67 114.4,87.01 114.45,84.66 114.5,85.95 114.55,83.76 114.6,83.33 114.65,85.05 114.7,86.05 114.75,83.12 114.8,85.03 114.85,83.32 114.9,88.03 114.95,87.96 115,84.77 115.05,87.47 115.1,85.81 115.15,84.78 115.2,84.43 115.25,85.3 115.3,87.39 115.35,84.4 115.4,81.42 115.45,85.56 115.5,79.02 115.55,79.82 115.6,76.6 115.65,74.7 115.7,78.23 115.75,75.35 115.8,72.42 115.85,73.3 115.9,73.84 115.95,70.25 116,72.7 116.05,74.02 116.1,75.54 116.15,69.26 116.2,69.42 116.25,73.46 116.3,71.93 116.35,71.58 116.4,74.53 116.45,72.71 116.5,76.87 116.55,69.7 116.6,73.37 116.65,74.33 116.7,70.18 116.75,74.47 116.8,72.35 116.85,71.42 116.9,72.32 116.95,73.67 117,74.1 117.05,73.84 117.1,71.47 117.15,73.91 117.2,73.86 117.25,72.46 117.3,72.48 117.35,74.08 117.4,72.67 117.45,74.71 117.5,72.74 117.55,72.9 117.6,71.8 117.65,71.49 117.7,74.92 117.75,72.95 117.8,72.36 117.85,73.11 117.9,71.79 117.95,73.15 118,71.27 118.05,71.31 118.1,70.34 118.15,74.45 118.2,74.96 118.25,69.94 118.3,71.26 118.35,70.38 118.4,71.61 118.45,71.11 118.5,74.65 118.55,71.37 118.6,73.87 118.65,75.57 118.7,72.49 118.75,69.82 118.8,70.79 118.85,73.05 118.9,69.66 118.95,71.38 119,72.95 119.05,73.65 119.1,73.97 119.15,72.1 119.2,72.35 119.25,75.18 119.3,72.28 119.35,72.19 119.4,72.06 119.45,72.45 119.5,71.17 119.55,72.32 119.6,71.54 119.65,71.68 119.7,71.79 119.75,73.86 119.8,75.18 119.85,72.59 119.9,71.37 119.95,73.13 120,71.11 120.05,74.61 120.1,72.36 120.15,73.28 120.2,71.54 120.25,72.4 120.3,73.64 120.35,72.86 120.4,70.96 120.45,73.57 120.5,73.96 120.55,73.01 120.6,71.45 120.65,69.32 120.7,76.73 120.75,72.94 120.8,70.98 120.85,69.61 120.9,75.21 120.95,73.6 121,72.11 121.05,70.82 121.1,73.99 121.15,74.12 121.2,72.05 121.25,70.91 121.3,71.36 121.35,70.94 121.4,71.32 121.45,72.15 121.5,72.33 121.55,77.08 121.6,70.44 121.65,71.99 121.7,74.45 121.75,77.76 121.8,78.27 121.85,76.8 121.9,77.27 121.95,77.57 122,78.94 122.05,79.22 122.1,81.52 122.15,78.25 122.2,80.8 122.25,86 122.3,83.8 122.35,82.67 122.4,83.64 122.45,85.09 122.5,85.36 122.55,80.54 122.6,87.73 122.65,86.62 122.7,86.83 122.75,84.22 122.8,84.83 122.85,86.06 122.9,86.83 122.95,82.62 123,84.22 123.05,86.57 123.1,86.59 123.15,86.15 123.2,83.88 123.25,81.16 123.3,83.92 123.35,85.18 123.4,83.23 123.45,87.96 123.5,86.24 123.55,86.9 123.6,83.79 123.65,85.1 123.7,86.87 123.75,85.17 123.8,85.71 123.85,85.71 123.9,85.62 123.95,84.09 124,85.76 124.05,87.67 124.1,85.38 124.15,84.01 124.2,85.29 124.25,86 124.3,86.44 124.35,84.83 124.4,90.28 124.45,85.73 124.5,88.87 124.55,88.4 124.6,87.06 124.65,85.47 124.7,85.87 124.75,85.89 124.8,81.62 124.85,88.32 124.9,85.1 124.95,83.36 125,85 125.05,83.76 125.1,85.09 125.15,85.44 125.2,90.77 125.25,82.55 125.3,84.41 125.35,85.95 125.4,85.01 125.45,83.93 125.5,86.33 125.55,81.67 125.6,85.55 125.65,87.52 125.7,86.72 125.75,82.53 125.8,85.79 125.85,84.6 125.9,85.17 125.95,86.19 126,88.9 126.05,84.75 126.1,87.78 126.15,83.98 126.2,86.24 126.25,90.35 126.3,88.13 126.35,84.92 126.4,86.55 126.45,86.85 126.5,84.43 126.55,87.71 126.6,86.54 126.65,88.85 126.7,84.34 126.75,87.23 126.8,84.9 126.85,86.17 126.9,82.98 126.95,86.96 127,83.37 127.05,83.61 127.1,85.1 127.15,78.65 127.2,80.87 127.25,78.72 127.3,75.93 127.35,77.76 127.4,74.22 127.45,74.4 127.5,75.36 127.55,71.98 127.6,72.59 127.65,73.22 127.7,72.6 127.75,70.14 127.8,73.89 127.85,73.41 127.9,71.47 127.95,73.23 128,73.31 128.05,73.76 128.1,71.92 128.15,70.18 128.2,72.92 128.25,73.98 128.3,70.18 128.35,72.52 128.4,71.31 128.45,70.75 128.5,71.56 128.55,72.53 128.6,71.36 128.65,73.02 128.7,70.35 128.75,74.91 128.8,72.81 128.85,71.86 128.9,73.78 128.95,73.25 129,72.6 129.05,72.4 129.1,71.17 129.15,68.21 129.2,72.48 129.25,74.07 129.3,73.4 129.35,73.15 129.4,73.88 129.45,71.78 129.5,73.1 129.55,71.23 129.6,70.23 129.65,70.36 129.7,73.95 129.75,70.21 129.8,71.91 129.85,69.98 129.9,72.77 129.95,72.19 130,73.78 130.05,72.64 130.1,74.92 130.15,73.57 130.2,69.08 130.25,72.55 130.3,72.24 130.35,70.08 130.4,72.89 130.45,71.09 130.5,71.45 130.55,74.56 130.6,73.11 130.65,72.72 130.7,73.23 130.75,72.51 130.8,73.83 130.85,71.69 130.9,72.31 130.95,72.56 131,72.24 131.05,72.17 131.1,71.41 131.15,73.07 131.2,73.96 131.25,71.72 131.3,73.36 131.35,71.29 131.4,74.47 131.45,72.52 131.5,71.44 131.55,69.9 131.6,71.26 131.65,72.73 131.7,70.52 131.75,69.77 131.8,73.87 131.85,70.38 131.9,74.16 131.95,70.26 132,72.88 132.05,65.56 132.1,73.49 132.15,71.01 132.2,71.58 132.25,71.95 132.3,70.96 132.35,72.51 132.4,74.86 132.45,70.21 132.5,73.87 132.55,72.51 132.6,71.58 132.65,70.41 132.7,74.22 132.75,71.65 132.8,73.07 132.85,70.41 132.9,72.7 132.95,70.35 133,70.8 133.05,74.91 133.1,74.53 133.15,73.33 133.2,72.74 133.25,71.2 133.3,72.53 133.35,73.36 133.4,71.92 133.45,71.07 133.5,71.71 133.55,73.89 133.6,72.93 133.65,76.76 133.7,76.01 133.75,78.04 133.8,78.5 133.85,77.4 133.9,77.83 133.95,77.71 134,81.87 134.05,79.67 134.1,79.1 134.15,81.26 134.2,83.59 134.25,82.38 134.3,81.64 134.35,82.36 134.4,84.34 134.45,86.07 134.5,84.1 134.55,84.27 134.6,83.72 134.65,84.96 134.7,85.87 134.75,86.57 134.8,83.37 134.85,82.96 134.9,85.7 134.95,83.41 135,86.07 135.05,85.24 135.1,83.53 135.15,89.72 135.2,87.47 135.25,85.42 135.3,85.02 135.35,85.7 135.4,83.88 135.45,86.37 135.5,84.58 135.55,85.17 135.6,84.31 135.65,86.47 135.7,87.4 135.75,82.67 135.8,85.34 135.85,82.25 135.9,81.75 135.95,85.74 136,83.83 136.05,86.63 136.1,86.11 136.15,86.4 136.2,87.88 136.25,86.61 136.3,84.01 136.35,85.38 136.4,81.76 136.45,83.16 136.5,80.81 136.55,84.75 136.6,85.75 136.65,85.58 136.7,83.26 136.75,86.88 136.8,85.33 136.85,86.55 136.9,86.38 136.95,83.68 137,84.72 137.05,85.98 137.1,83.91 137.15,84.47 137.2,84.96 137.25,84.89 137.3,87.74 137.35,83.95 137.4,82.97 137.45,89.52 137.5,84.36 137.55,84.67 137.6,84.78 137.65,85.64 137.7,85.21 137.75,82.63 137.8,85.91 137.85,87.82 137.9,85.65 137.95,80.11 138,85.3 138.05,85.69 138.1,80.01 138.15,88.15 138.2,85.49 138.25,86.24 138.3,87.24 138.35,89.66 138.4,84.66 138.45,85.26 138.5,85.07 138.55,85.86 138.6,86.17 138.65,88.13 138.7,85.17 138.75,86.1 138.8,81.9 138.85,84.92 138.9,85.46 138.95,83.7 139,82.94 139.05,82.8 139.1,82.84 139.15,78.52 139.2,79.63 139.25,78.65 139.3,76.67 139.35,76.58 139.4,73.8 139.45,74.05 139.5,70.68 139.55,76.09 139.6,71.91 139.65,71.15 139.7,73.54 139.75,70.9 139.8,72.56 139.85,73.18 139.9,71.13 139.95,71.89 140,75.75 140.05,71.06 140.1,72.51 140.15,70.83 140.2,73.89 140.25,73.28 140.3,69.15 140.35,70.74 140.4,73.9 140.45,73.28 140.5,69.8 140.55,70.7 140.6,73.57 140.65,73.27 140.7,72.96 140.75,70.93 140.8,74.43 140.85,72.94 140.9,73 140.95,67.93 141,72.16 141.05,71.12 141.1,70.18 141.15,70.63 141.2,70.99 141.25,72.5 141.3,72.32 141.35,72.57 141.4,72.61 141.45,71.06 141.5,69.76 141.55,73.19 141.6,71.81 141.65,73.68 141.7,73.15 141.75,70.99 141.8,74.12 141.85,73.22 141.9,73.45 141.95,73.28 142,72.94 142.05,70.61 142.1,70.79 142.15,73.25 142.2,72.15 142.25,74.46 142.3,70.9 142.35,70.34 142.4,71.73 142.45,72.19 142.5,70.77 142.55,71.23 142.6,72.53 142.65,73.94 142.7,72.89 142.75,71.37 142.8,73.37 142.85,71.01 142.9,72.64 142.95,72.21 143,73.04 143.05,71.36 143.1,71.67 143.15,72.63 143.2,73.15 143.25,70.65 143.3,71.71 143.35,71.01 143.4,74.84 143.45,70.78 143.5,71.8 143.55,73.36 143.6,72.41 143.65,72.98 143.7,73.05 143.75,72.25 143.8,71.86 143.85,70.94 143.9,72.8 143.95,68.04 144,74.03 144.05,74.33 144.1,71.56 144.15,72.75 144.2,72.13 144.25,72.27 144.3,73.61 144.35,73.38 144.4,72.89 144.45,71.7 144.5,67.94 144.55,71.77 144.6,72.68 144.65,74.37 144.7,73.3 144.75,70.95 144.8,75.94 144.85,72.46 144.9,68.39 144.95,71.9 145,73.77 145.05,71.18 145.1,70.2 145.15,73.54 145.2,73.16 145.25,70.27 145.3,72.18 145.35,72.38 145.4,76.48 145.45,75.9 145.5,72.42 145.55,71.46 145.6,71.15 145.65,74.86 145.7,76.51 145.75,75.76 145.8,75.07 145.85,75.43 145.9,75.46 145.95,78.79 146,76.53 146.05,80.12 146.1,79.33 146.15,79.72 146.2,82.39 146.25,82.64 146.3,81.13 146.35,85.05 146.4,83.45 146.45,88.13 146.5,87.17 146.55,83.74 146.6,84.98 146.65,85.35 146.7,84.54 146.75,83.47 146.8,86.15 146.85,83.71 146.9,86.15 146.95,83.51 147,84.71 147.05,82.7 147.1,84.72 147.15,85.6 147.2,82.54 147.25,84.68 147.3,86.27 147.35,85.28 147.4,83.92 147.45,85.51 147.5,81.97 147.55,85.85 147.6,84.21 147.65,84.9 147.7,86.06 147.75,84.97 147.8,83.82 147.85,84.64 147.9,84.16 147.95,83.5 148,86.09 148.05,85.58 148.1,86.05 148.15,84.58 148.2,83.1 148.25,86.6 148.3,82.46 148.35,83.63 148.4,84.42 148.45,85.59 148.5,86.46 148.55,86.7 148.6,86.31 148.65,84.87 148.7,84.35 148.75,86 148.8,84.92 148.85,86.42 148.9,82.87 148.95,86.09 149,84.42 149.05,86.72 149.1,85.25 149.15,87.89 149.2,86.39 149.25,84.19 149.3,84.33 149.35,85.63 149.4,80.87 149.45,85.98 149.5,82.3 149.55,83.39 149.6,86.39 149.65,85.14 149.7,84.83 149.75,86.86 149.8,85.95 149.85,85.92 149.9,80.25 149.95,85.53 150,86.1 150.05,86.33 150.1,84.14 150.15,84.44 150.2,86.19 150.25,83.46 150.3,88.96 150.35,84.56 150.4,84.04 150.45,88.25 150.5,85.85 150.55,86.18 150.6,85.32 150.65,85.07 150.7,85.04 150.75,84.22 150.8,83.8 150.85,83.52 150.9,83.32 150.95,84.15 151,83.49 151.05,84.13 151.1,82.53 151.15,79.97 151.2,81.07 151.25,76.33 151.3,77.23 151.35,76.03 151.4,74.39 151.45,74.57 151.5,74.21 151.55,72.15 151.6,72.11 151.65,70.86 151.7,74.52 151.75,75.94 151.8,73.32 151.85,72.89 151.9,73.64 151.95,71.09 152,73.82 152.05,69.38 152.1,69.02 152.15,72.07 152.2,70.07 152.25,68.28 152.3,73.17 152.35,70.81 152.4,73.72 152.45,72.97 152.5,71.21 152.55,73.01 152.6,70.38 152.65,70.82 152.7,73.16 152.75,73.68 152.8,72.67 152.85,70.64 152.9,72.01 152.95,71.28 153,71.93 153.05,71.4 153.1,73.02 153.15,73.38 153.2,73.22 153.25,71.67 153.3,70.34 153.35,71.82 153.4,74.24 153.45,72.17 153.5,71.49 153.55,73.31 153.6,68.67 153.65,65.31 153.7,72.91 153.75,70.1 153.8,71.57 153.85,75.89 153.9,70.53 153.95,72.12 154,72.67 154.05,72.99 154.1,71.51 154.15,77.4 154.2,71.86 154.25,74.3 154.3,72.87 154.35,74.53 154.4,72.32 154.45,72.87 154.5,71.79 154.55,72.02 154.6,72.35 154.65,72.72 154.7,71.45 154.75,73.26 154.8,72.96 154.85,74.74 154.9,70.76 154.95,71.13 155,71.11 155.05,69.86 155.1,72.89 155.15,77.05 155.2,67.31 155.25,73.66 155.3,69.16 155.35,71.31 155.4,73.71 155.45,73.2 155.5,72 155.55,71.73 155.6,72.63 155.65,70.14 155.7,72.76 155.75,71.28 155.8,72.8 155.85,74.62 155.9,71.53 155.95,69.35 156,75.74 156.05,72.06 156.1,74.93 156.15,71.73 156.2,71.16 156.25,76.54 156.3,71.63 156.35,72.6 156.4,72.49 156.45,72.17 156.5,69.26 156.55,73.99 156.6,73.52 156.65,75.65 156.7,71.14 156.75,73.23 156.8,74.03 156.85,69.84 156.9,70.65 156.95,69.21 157,73.6 157.05,72.08 157.1,72.54 157.15,71.32 157.2,72.12 157.25,74.73 157.3,68.37 157.35,72.62 157.4,72.93 157.45,76.27 157.5,73.24 157.55,75.27 157.6,74.65 157.65,73.76 157.7,77.72 157.75,72.59 157.8,78.07 157.85,79.7 157.9,78.44 157.95,78.99 158,81.03 158.05,81.07 158.1,84.52 158.15,84.22 158.2,84.82 158.25,85.8 158.3,82.6 158.35,84.1 158.4,87.39 158.45,85.94 158.5,84.77 158.55,86.3 158.6,85.01 158.65,82.98 158.7,85.14 158.75,83.69 158.8,86.09 158.85,85.97 158.9,84.84 158.95,82.59 159,86.68 159.05,83.85 159.1,89.81 159.15,84.26 159.2,84.81 159.25,88.75 159.3,83.84 159.35,86.74 159.4,86.48 159.45,85.45 159.5,86.32 159.55,86.45 159.6,84.75 159.65,83.46 159.7,84.63 159.75,83.26 159.8,84.3 159.85,83.83 159.9,83.69 159.95,85.89 160,84.33 160.05,85.97 160.1,85.22 160.15,86.2 160.2,85.77 160.25,87.53 160.3,84.07 160.35,84.72 160.4,84.58 160.45,87.91 160.5,82.72 160.55,87.88 160.6,81.77 160.65,85.35 160.7,88.66 160.75,81.33 160.8,83.81 160.85,83.45 160.9,84.55 160.95,84.17 161,84.5 161.05,86.78 161.1,85.78 161.15,86.66 161.2,84.89 161.25,87.51 161.3,85.63 161.35,83.95 161.4,84.8 161.45,85.69 161.5,86.27 161.55,84.33 161.6,84.82 161.65,83.49 161.7,83.53 161.75,83.07 161.8,85.59 161.85,84.2 161.9,84.73 161.95,84.25 162,87.35 162.05,86.28 162.1,85.93 162.15,84.52 162.2,84.83 162.25,85.52 162.3,84.53 162.35,86.4 162.4,85.61 162.45,84.46 162.5,84.98 162.55,82.39 162.6,82.28 162.65,82.13 162.7,75.28 162.75,81.56 162.8,76.75 162.85,79.48 162.9,74.34 162.95,76.65 163,75.21 163.05,74.49 163.1,77.32 163.15,71.7 163.2,72.38 163.25,74.63 163.3,75.09 163.35,72.96 163.4,72.25 163.45,72.17 163.5,73.11 163.55,72.95 163.6,70.39 163.65,73.78 163.7,70.93 163.75,71.43 163.8,70.66 163.85,71 163.9,71.6 163.95,72.85 164,71.53 164.05,72.38 164.1,70.96 164.15,74.05 164.2,74.3 164.25,72.39 164.3,73.28 164.35,73.33 164.4,70.56 164.45,72.63 164.5,75.54 164.55,71.05 164.6,72.31 164.65,73.07 164.7,72.83 164.75,72.36 164.8,76.72 164.85,72.35 164.9,73.63 164.95,72.64 165,71.66 165.05,73.87 165.1,74.38 165.15,71.09 165.2,74.9 165.25,70.79 165.3,71.88 165.35,72.35 165.4,71.9 165.45,73.27 165.5,71.62 165.55,70.46 165.6,72.28 165.65,71.59 165.7,71.93 165.75,71.85 165.8,69.88 165.85,72.46 165.9,72 165.95,73.73 166,69.25 166.05,71.85 166.1,66.74 166.15,74.85 166.2,71.78 166.25,72.19 166.3,72.88 166.35,73.62 166.4,72.42 166.45,72.84 166.5,71.35 166.55,72.92 166.6,69.98 166.65,73.6 166.7,69.39 166.75,70.86 166.8,71.63 166.85,66.29 166.9,74.22 166.95,72.83 167,73.68 167.05,69.41 167.1,72.47 167.15,77.73 167.2,71.95 167.25,71.28 167.3,74.97 167.35,73.35 167.4,72.34 167.45,75.03 167.5,71.42 167.55,71.81 167.6,73.04 167.65,72.51 167.7,71.25 167.75,74.84 167.8,71.25 167.85,70.73 167.9,75.47 167.95,73.52 168,74.5 168.05,71.97 168.1,72.68 168.15,70.76 168.2,73.17 168.25,72.87 168.3,75.08 168.35,71.67 168.4,70.65 168.45,72.57 168.5,73.38 168.55,70.44 168.6,71.88 168.65,75.06 168.7,73.05 168.75,71.9 168.8,72.81 168.85,73.62 168.9,73.25 168.95,74.85 169,74.97 169.05,74.33 169.1,76.39 169.15,78.18 169.2,78.1 169.25,77.75 169.3,81.17 169.35,78.44 169.4,82.68 169.45,81.77 169.5,83.93 169.55,81.74 169.6,86.31 169.65,84.46 169.7,84.76 169.75,85.48 169.8,86.23 169.85,86.63 169.9,86.47 169.95,83.86 170,85.08 170.05,86.09 170.1,87.88 170.15,85.58 170.2,83.4 170.25,82.53 170.3,86.35 170.35,87.23 170.4,88.63 170.45,89.12 170.5,89.26 170.55,88.63 170.6,87.93 170.65,90.1 170.7,91.25 170.75,88.51 170.8,89.58 170.85,90.5 170.9,86.91 170.95,88.23 171,91.05 171.05,89.08 171.1,90.71 171.15,90.48 171.2,94.25 171.25,89.97 171.3,93.74 171.35,90.93 171.4,90.3 171.45,89.5 171.5,91.48 171.55,91.6 171.6,89.9 171.65,87.51 171.7,91.63 171.75,91.35 171.8,86.68 171.85,89.35 171.9,91.07 171.95,88.63 172,89.83 172.05,89.12 172.1,89.34 172.15,86.8 172.2,89.46 172.25,89.36 172.3,92.18 172.35,92.35 172.4,90 172.45,91.85 172.5,90.97 172.55,86.68 172.6,87.61 172.65,90.17 172.7,89.47 172.75,88.62 172.8,92.03 172.85,88.03 172.9,90.71 172.95,91.34 173,89.79 173.05,87.29 173.1,88.77 173.15,87.68 173.2,90.06 173.25,90.81 173.3,87.93 173.35,87.47 173.4,89.23 173.45,91.79 173.5,92.18 173.55,87.26 173.6,84.85 173.65,80.98 173.7,81.11 173.75,80.37 173.8,83.7 173.85,82.57 173.9,78.4 173.95,78.38 174,74.99 174.05,76.61 174.1,78.78 174.15,78.44 174.2,76.94 174.25,78.3 174.3,74.34 174.35,73.31 174.4,77.84 174.45,76.23 174.5,75.49 174.55,79.26 174.6,78.92 174.65,77.38 174.7,77.91 174.75,76.61 174.8,77.87 174.85,76.19 174.9,78.12 174.95,73.41 175,74.57 175.05,75.74 175.1,75.07 175.15,75.64 175.2,76.23 175.25,74.16 175.3,76.87 175.35,77.05 175.4,74.58 175.45,77.18 175.5,77.04 175.55,75.22 175.6,79.65 175.65,76.36 175.7,75.44 175.75,77.73 175.8,76.97 175.85,75.46 175.9,79.15 175.95,71.64 176,78.72 176.05,75.33 176.1,75.77 176.15,77.33 176.2,80.77 176.25,78.71 176.3,76.39 176.35,77.49 176.4,76.09 176.45,76.68 176.5,76.32 176.55,76.74 176.6,76.85 176.65,76.15 176.7,76.48 176.75,79.95 176.8,76.52 176.85,78.1 176.9,75.1 176.95,78.73 177,74.25 177.05,74.36 177.1,74.25 177.15,73.41 177.2,79.52 177.25,74.01 177.3,74.69 177.35,75.94 177.4,79.08 177.45,75.31 177.5,75.97 177.55,77.58 177.6,77.87 177.65,82.06 177.7,74.35 177.75,76.92 177.8,75.78 177.85,78.9 177.9,74.37 177.95,80.29 178,78.72 178.05,76.56 178.1,77.73 178.15,77.63 178.2,73.91 178.25,78.31 178.3,76.24 178.35,77.19 178.4,74.48 178.45,75.78 178.5,76.66 178.55,76.71 178.6,77.26 178.65,76.02 178.7,76.56 178.75,75.73 178.8,78.76 178.85,76.63 178.9,77.41 178.95,76.45 179,74.13 179.05,77.96 179.1,76.55 179.15,78.31 179.2,79.31 179.25,81.58 179.3,77.62 179.35,84.13 179.4,81.04 179.45,81.31 179.5,84.02 179.55,87.54 179.6,83.7 179.65,85.67 179.7,85.35 179.75,85.63 179.8,86.92 179.85,87.25 179.9,87.18 179.95,87.91 180,89.61 180.05,93.7 180.1,88.23 180.15,87.64 180.2,90.61 180.25,88.74 180.3,86.18 180.35,88.71 180.4,89.88 180.45,92.29 180.5,91.2 180.55,87.98 180.6,90.67 180.65,90.08 180.7,89.65 180.75,89.64 180.8,90.27 180.85,91.82 180.9,92.96 180.95,92.94 181,88.64 181.05,91.76 181.1,89.32 181.15,91.58 181.2,90.57 181.25,88.24 181.3,89.16 181.35,88.83 181.4,92.13 181.45,92.08 181.5,90.51 181.55,88.96 181.6,89.67 181.65,91.46 181.7,88.83 181.75,88.52 181.8,90.24 181.85,90.96 181.9,86.7 181.95,90.36 182,91.42 182.05,89.42 182.1,89.78 182.15,90.32 182.2,88.13 182.25,90.3 182.3,90.54 182.35,91.77 182.4,91.41 182.45,88.38 182.5,91.32 182.55,90.75 182.6,89.34 182.65,89.1 182.7,89.22 182.75,90.67 182.8,91.78 182.85,88.9 182.9,88.53 182.95,90.48 183,89.27 183.05,88.69 183.1,89.72 183.15,87.86 183.2,90.49 183.25,91.68 183.3,90.36 183.35,87.72 183.4,88.61 183.45,91.16 183.5,89.83 183.55,91.38 183.6,88.35 183.65,88.53 183.7,91.65 183.75,90.46 183.8,87.79 183.85,88.66 183.9,90.62 183.95,89.11 184,90.3 184.05,89.19 184.1,91.34 184.15,90.06 184.2,90.6 184.25,88.56 184.3,90.65 184.35,88.89 184.4,90.58 184.45,90.36 184.5,90.88 184.55,83.62 184.6,89.38 184.65,93.32 184.7,89.07 184.75,92.23 184.8,90.39 184.85,90.69 184.9,91.48 184.95,87.25 185,88.21 185.05,86.71 185.1,83.66 185.15,83.19 185.2,88 185.25,80.14 185.3,84.37 185.35,81.3 185.4,77.72 185.45,79.66 185.5,78.7 185.55,79.69 185.6,77.16 185.65,77.54 185.7,75.46 185.75,78.37 185.8,75.02 185.85,75.47 185.9,76.45 185.95,75.88 186,76.12 186.05,76.09 186.1,77.2 186.15,75.33 186.2,76.99 186.25,77.49 186.3,77.3 186.35,76.97 186.4,77.41 186.45,78.62 186.5,76.37 186.55,75.03 186.6,74.65 186.65,75.8 186.7,78.4 186.75,73.36 186.8,77.97 186.85,75.93 186.9,75.53 186.95,77.03 187,73.88 187.05,77.15 187.1,75.88 187.15,77.21 187.2,74.18 187.25,76.29 187.3,76.93 187.35,78.89 187.4,75.13 187.45,78.82 187.5,76.49 187.55,76.82 187.6,76.3 187.65,77.63 187.7,76.46 187.75,75.75 187.8,78.98 187.85,76.99 187.9,76.56 187.95,76.96 188,75.52 188.05,78.55 188.1,79.84 188.15,77.52 188.2,75.06 188.25,78.14 188.3,76.63 188.35,78.49 188.4,74.93 188.45,77.32 188.5,78.9 188.55,78.24 188.6,77.02 188.65,75.42 188.7,76.63 188.75,77.21 188.8,74 188.85,78.94 188.9,75.3 188.95,76.08 189,77.5 189.05,77.62 189.1,81.07 189.15,76.09 189.2,79.62 189.25,78.27 189.3,79.49 189.35,79.53 189.4,77.55 189.45,81.67 189.5,76.85 189.55,77.42 189.6,77.07 189.65,77.78 189.7,78.1 189.75,76.39 189.8,74.32 189.85,77.4 189.9,76.51 189.95,74.33 190,78.43 190.05,75.45 190.1,79.99 190.15,78.99 190.2,77.97 190.25,77.73 190.3,76.37 190.35,78.62 190.4,78 190.45,76.9 190.5,75.52 190.55,77.23 190.6,79.42 190.65,76.26 190.7,75.84 190.75,77.01 190.8,78.44 190.85,76.29 190.9,77.42 190.95,76.93 191,75.78 191.05,82.18 191.1,76.39 191.15,79.36 191.2,77.49 191.25,81.4 191.3,79.24 191.35,81.14 191.4,79.18 191.45,81.5 191.5,82.56 191.55,84.98 191.6,82.54 191.65,85.54 191.7,86 191.75,86.39 191.8,85.38 191.85,86.66 191.9,89.97 191.95,92.33 192,88.56 192.05,91.45 192.1,90.91 192.15,90.71 192.2,90.73 192.25,89.44 192.3,90.16 192.35,90.73 192.4,90.32 192.45,88.61 192.5,90.61 192.55,90.51 192.6,90.61 192.65,89.14 192.7,90.7 192.75,90.52 192.8,91.38 192.85,90.32 192.9,91.59 192.95,88.3 193,88.55 193.05,91.19 193.1,92.27 193.15,94.84 193.2,90.35 193.25,91.95 193.3,91.24 193.35,89 193.4,91.12 193.45,88.85 193.5,89.99 193.55,91.67 193.6,93.19 193.65,88.34 193.7,91.22 193.75,91.87 193.8,88.66 193.85,91.05 193.9,88.91 193.95,90.65 194,90.32 194.05,89.88 194.1,88.31 194.15,89.04 194.2,90.82 194.25,90.65 194.3,87.74 194.35,89.42 194.4,88.96 194.45,90.18 194.5,90.48 194.55,88.32 194.6,86 194.65,89.4 194.7,91.76 194.75,91.93 194.8,89.05 194.85,90.93 194.9,90.97 194.95,89.92 195,93.65 195.05,89.81 195.1,91.25 195.15,90.68 195.2,87.67 195.25,89.97 195.3,90.75 195.35,86.4 195.4,88.49 195.45,91.98 195.5,90.4 195.55,88.58 195.6,86.89 195.65,88.8 195.7,87.91 195.75,91.02 195.8,89.5 195.85,91.86 195.9,89.3 195.95,88.73 196,90.03 196.05,89.99 196.1,90.1 196.15,88.4 196.2,90.27 196.25,92.38 196.3,90.26 196.35,85.54 196.4,87.01 196.45,89.39 196.5,82.5 196.55,81.18 196.6,84.24 196.65,84.53 196.7,84.08 196.75,81.99 196.8,78.82 196.85,79.52 196.9,78.9 196.95,76.61 197,77.63 197.05,78.17 197.1,76.13 197.15,77.17 197.2,76.83 197.25,75.83 197.3,77.17 197.35,79.09 197.4,79.45 197.45,78.66 197.5,77.4 197.55,79.86 197.6,77.04 197.65,74.93 197.7,78.85 197.75,76.14 197.8,78.76 197.85,75.81 197.9,76.88 197.95,78.36 198,78.5 198.05,78.11 198.1,78.41 198.15,74.5 198.2,77.06 198.25,78.79 198.3,76.22 198.35,77.3 198.4,74.93 198.45,78.02 198.5,76.56 198.55,75.99 198.6,74.74 198.65,76.04 198.7,76.94 198.75,78.69 198.8,75.85 198.85,75.66 198.9,79.01 198.95,74.59 199,75.59 199.05,78.01 199.1,79.14 199.15,76.75 199.2,74.37 199.25,78.85 199.3,77.53 199.35,75.04 199.4,75.74 199.45,77.78 199.5,79.81 199.55,78.77 199.6,78.78 199.65,77.66 199.7,79.6 199.75,75.84 199.8,78.09 199.85,78.02 199.9,78.12 199.95,77.46 200,76.56 200.05,73.99 200.1,78.72 200.15,75.56 200.2,80.38 200.25,75.25 200.3,74.83 200.35,80.12 200.4,75.33 200.45,76.86 200.5,75.41 200.55,76.37 200.6,77.85 200.65,76.72 200.7,79.85 200.75,75.25 200.8,77.03 200.85,75.63 200.9,74.64 200.95,76.33 201,79.68 201.05,77.58 201.1,76.12 201.15,78.46 201.2,78.29 201.25,76.42 201.3,74.99 201.35,76.08 201.4,77.15 201.45,75.67 201.5,76.67 201.55,76.53 201.6,76.85 201.65,77.88 201.7,74.36 201.75,78.14 201.8,77.7 201.85,78.72 201.9,77.52 201.95,79.48 202,78.27 202.05,77.25 202.1,76.55 202.15,79.48 202.2,79.14 202.25,78.04 202.3,78.62 202.35,76.75 202.4,76.7 202.45,76.41 202.5,79.2 202.55,74.8 202.6,78.57 202.65,82.28 202.7,78.2 202.75,78.18 202.8,82.06 202.85,84.29 202.9,85.88 202.95,82.78 203,87.6 203.05,84.19 203.1,83.53 203.15,83.71 203.2,86.82 203.25,88.09 203.3,89.2 203.35,90.52 203.4,92.99 203.45,90.57 203.5,89.58 203.55,88.5 203.6,89.63 203.65,89.06 203.7,92.14 203.75,88.99 203.8,91.45 203.85,90.59 203.9,90.37 203.95,90.9 204,85.86 204.05,89.69 204.1,95.42 204.15,89.52 204.2,89.3 204.25,84.86 204.3,86.88 204.35,87.25 204.4,88.75 204.45,90.16 204.5,89.73 204.55,85.29 204.6,97.15 204.65,89.98 204.7,91.54 204.75,92.72 204.8,88.82 204.85,88.24 204.9,88.81 204.95,90.08 205,90.61 205.05,89.15 205.1,90.54 205.15,90.25 205.2,88.03 205.25,91.2 205.3,87.39 205.35,92.33 205.4,92.86 205.45,85.02 205.5,89.91 205.55,89.88 205.6,93.27 205.65,89.63 205.7,88.82 205.75,89.16 205.8,91.28 205.85,89.19 205.9,90.37 205.95,89.83 206,89.73 206.05,93.72 206.1,88.89 206.15,90.1 206.2,90.09 206.25,87.41 206.3,90.37 206.35,90.36 206.4,93.99 206.45,90.1 206.5,91.59 206.55,88.24 206.6,89.77 206.65,89.62 206.7,88.27 206.75,89.58 206.8,90.92 206.85,91.76 206.9,88.61 206.95,90.16 207,89.22 207.05,90.76 207.1,90.76 207.15,90.9 207.2,89.57 207.25,90.65 207.3,87.2 207.35,91.61 207.4,89.47 207.45,88.23 207.5,85.93 207.55,87.51 207.6,90.34 207.65,90.19 207.7,90.1 207.75,90.28 207.8,91.08 207.85,87.8 207.9,86.96 207.95,90.08 208,85.07 208.05,85.06 208.1,82.64 208.15,85.46 208.2,85.75 208.25,79.9 208.3,77.86 208.35,78.48 208.4,77.32 208.45,77.7 208.5,77.59 208.55,73.78 208.6,77.73 208.65,78.58 208.7,78.85 208.75,77.7 208.8,76.07 208.85,76.57 208.9,77.89 208.95,78.24 209,76.76 209.05,77.67 209.1,75.99 209.15,74.51 209.2,78.42 209.25,73.63 209.3,77.63 209.35,76.58 209.4,76.43 209.45,77.65 209.5,76.6 209.55,76.31 209.6,78.16 209.65,77.78 209.7,77.69 209.75,77.4 209.8,77.54 209.85,76.17 209.9,74.86 209.95,75.68 210,79.13 210.05,76.5 210.1,78.53 210.15,77.95 210.2,77.09 210.25,76.03 210.3,75.75 210.35,78.25 210.4,78.4 210.45,76.07 210.5,76.36 210.55,75.8 210.6,75.94 210.65,74.36 210.7,79.36 210.75,78.7 210.8,76.41 210.85,78.49 210.9,75.37 210.95,77.63 211,76.43 211.05,79.5 211.1,75.49 211.15,76.57 211.2,78.72 211.25,77.97 211.3,77.71 211.35,77.49 211.4,78.14 211.45,76.68 211.5,77.96 211.55,77.38 211.6,76.87 211.65,77.23 211.7,72.56 211.75,75.7 211.8,77.15 211.85,80.09 211.9,77.05 211.95,76.16 212,74.71 212.05,77.73 212.1,78.22 212.15,75.38 212.2,76.82 212.25,74.1 212.3,76.32 212.35,78.56 212.4,76.73 212.45,75.87 212.5,73.99 212.55,76.27 212.6,78.44 212.65,77.74 212.7,77.52 212.75,75.87 212.8,76.71 212.85,78.71 212.9,76.4 212.95,75.96 213,78.31 213.05,75.48 213.1,75.67 213.15,79.47 213.2,77.01 213.25,79.14 213.3,82.79 213.35,77.49 213.4,75.6 213.45,76.4 213.5,78.28 213.55,78.57 213.6,75.39 213.65,79.03 213.7,77.04 213.75,77.43 213.8,77.89 213.85,75.68 213.9,76.16 213.95,77.81 214,77.92 214.05,78.79 214.1,79.28 214.15,78.16 214.2,79.69 214.25,80.66 214.3,81.36 214.35,79.21 214.4,82.91 214.45,82.92 214.5,87.34 214.55,85.81 214.6,83.96 214.65,86.06 214.7,88.15 214.75,87.14 214.8,87.48 214.85,87.05 214.9,91.07 214.95,91.34 215,90.84 215.05,90.88 215.1,87.8 215.15,92.41 215.2,87.84 215.25,91.23 215.3,90.94 215.35,90.59 215.4,90.5 215.45,91.96 215.5,90.9 215.55,88.97 215.6,89.79 215.65,89.73 215.7,88.49 215.75,91.14 215.8,91.34 215.85,90.32 215.9,87.87 215.95,91.84 216,87.39 216.05,88.51 216.1,89.94 216.15,88.7 216.2,89.52 216.25,89.97 216.3,88.19 216.35,92.18 216.4,89.93 216.45,90.44 216.5,91.12 216.55,90.55 216.6,88.68 216.65,89.33 216.7,89.85 216.75,88.85 216.8,89.91 216.85,89.14 216.9,90.24 216.95,92.15 217,90.77 217.05,90.99 217.1,91.48 217.15,89.03 217.2,90.03 217.25,90.07 217.3,88.65 217.35,87.17 217.4,91.99 217.45,89.03 217.5,89.11 217.55,90.05 217.6,89.44 217.65,90.76 217.7,90.46 217.75,86.86 217.8,88.15 217.85,89.98 217.9,89.7 217.95,88.69 218,90.92 218.05,89.04 218.1,87.27 218.15,89.13 218.2,86.86 218.25,88.35 218.3,90.23 218.35,92.86 218.4,90.39 218.45,90.27 218.5,89.53 218.55,92.62 218.6,90.84 218.65,92.02 218.7,88.55 218.75,89.28 218.8,86.75 218.85,88.42 218.9,92.25 218.95,90.49 219,90.45 219.05,87.77 219.1,92.07 219.15,90.57 219.2,91.42 219.25,87.2 219.3,87.52 219.35,86.65 219.4,85.86 219.45,86.15 219.5,83.74 219.55,86.21 219.6,79.93 219.65,77.94 219.7,80.15 219.75,79.45 219.8,77.94 219.85,75.01 219.9,76.55 219.95,79.35 220,76.28 220.05,76.86 220.1,77.72 220.15,75.52 220.2,74.84 220.25,76.5 220.3,77.3 220.35,77.15 220.4,77.3 220.45,75.82 220.5,77.39 220.55,77.87 220.6,77.32 220.65,76.92 220.7,78.02 220.75,78.19 220.8,77.06 220.85,75.57 220.9,77.31 220.95,78.12 221,76.44 221.05,80.68 221.1,76.43 221.15,78.72 221.2,75.34 221.25,76.61 221.3,75.99 221.35,77.57 221.4,78.91 221.45,79.09 221.5,75.61 221.55,76.01 221.6,76.46 221.65,76.24 221.7,76.12 221.75,75.02 221.8,77.13 221.85,75.86 221.9,76.1 221.95,78.13 222,77.3 222.05,76.43 222.1,78.17 222.15,76.19 222.2,77.61 222.25,77.63 222.3,77.21 222.35,71.52 222.4,75.68 222.45,79.26 222.5,79.25 222.55,78.24 222.6,78.01 222.65,76.8 222.7,75.9 222.75,79.25 222.8,76.01 222.85,73.58 222.9,77.91 222.95,78.4 223,77.73 223.05,76.23 223.1,74.31 223.15,77.97 223.2,75.95 223.25,76.28 223.3,78.06 223.35,76.62 223.4,78.7 223.45,77.87 223.5,76.95 223.55,77.39 223.6,77.26 223.65,79.63 223.7,78.34 223.75,77.27 223.8,76 223.85,76.82 223.9,78.73 223.95,74.43 224,76.42 224.05,77.08 224.1,76.83 224.15,76.63 224.2,77.47 224.25,76.16 224.3,77.84 224.35,77.22 224.4,75.83 224.45,76.53 224.5,76.56 224.55,78.49 224.6,75.72 224.65,80.42 224.7,78.21 224.75,79.17 224.8,79.86 224.85,77.99 224.9,80.48 224.95,82.03 225,81.42 225.05,81.23 225.1,81.05 225.15,83.55 225.2,84.91 225.25,86.07 225.3,86.14 225.35,86.73 225.4,85.55 225.45,88.48 225.5,87.53 225.55,92.68 225.6,88.91 225.65,89.2 225.7,88.47 225.75,89.53 225.8,90.7 225.85,89.15 225.9,88.93 225.95,89.53 226,89.8 226.05,89.65 226.1,91.03 226.15,92.38 226.2,88.1 226.25,90.51 226.3,90.35 226.35,92.87 226.4,90.74 226.45,89.1 226.5,89.92 226.55,90.68 226.6,90.38 226.65,90.53 226.7,87.68 226.75,89.03 226.8,88.45 226.85,88.94 226.9,89.2 226.95,91.89 227,88.23 227.05,87.58 227.1,88.28 227.15,93.32 227.2,89.81 227.25,88.78 227.3,94.95 227.35,88.48 227.4,90.56 227.45,88.68 227.5,91.57 227.55,88.41 227.6,89 227.65,90.64 227.7,91.44 227.75,92.23 227.8,89.69 227.85,89.83 227.9,89.75 227.95,90.11 228,87.61 228.05,90.14 228.1,90.45 228.15,91.26 228.2,89.77 228.25,91.88 228.3,88.91 228.35,89.44 228.4,90.77 228.45,91.28 228.5,89.18 228.55,93.23 228.6,89.47 228.65,90.37 228.7,92.5 228.75,91.86 228.8,90.73 228.85,90.79 228.9,88.52 228.95,94.54 229,88.63 229.05,87.64 229.1,91.39 229.15,86.4 229.2,90.25 229.25,93.88 229.3,89.69 229.35,90.1 229.4,89.06 229.45,90.01 229.5,91.6 229.55,93.14 229.6,89.98 229.65,87.18 229.7,88.82 229.75,87.69 229.8,90.25 229.85,89.37 229.9,89.05 229.95,88.61 230,91.25 230.05,89.57 230.1,92.29 230.15,88.63 230.2,88.88 230.25,87.85 230.3,90.02 230.35,91.01 230.4,90.72 230.45,90.78 230.5,89.27 230.55,88.63 230.6,90.12 230.65,88.38 230.7,92 230.75,87.13 230.8,91.79 230.85,91.22 230.9,90.77 230.95,88.89 231,91.04 231.05,90.34 231.1,91 231.15,89.3 231.2,89.99 231.25,87.41 231.3,82.76 231.35,85.43 231.4,83.67 231.45,86.45 231.5,82.99 231.55,84.05 231.6,80.63 231.65,82.64 231.7,76.79 231.75,76.95 231.8,76.28 231.85,74.67 231.9,78.92 231.95,78.21 232,77.8 232.05,76.24 232.1,76.77 232.15,77.66 232.2,75.14 232.25,80.7 232.3,79.35 232.35,76.86 232.4,75.7 232.45,76.85 232.5,79.57 232.55,79.3 232.6,78.36 232.65,78.76 232.7,78.58 232.75,77.19 232.8,78.01 232.85,75.86 232.9,75.32 232.95,77.59 233,76.38 233.05,77.42 233.1,75.93 233.15,73.84 233.2,77.36 233.25,76.47 233.3,75.01 233.35,74.41 233.4,77.73 233.45,74.21 233.5,77.19 233.55,77.54 233.6,77.85 233.65,79.47 233.7,74.01 233.75,76.95 233.8,75.47 233.85,74.86 233.9,75.67 233.95,75.91 234,76.43 234.05,77.85 234.1,78.43 234.15,80.86 234.2,77.91 234.25,78.53 234.3,76.54 234.35,76.11 234.4,77.38 234.45,77.98 234.5,78.13 234.55,80.59 234.6,77.4 234.65,77.04 234.7,76.14 234.75,75.43 234.8,76.21 234.85,74.82 234.9,78.64 234.95,78.42 235,80.39 235.05,78.43 235.1,75.66 235.15,78.21 235.2,76.36 235.25,78.43 235.3,78.81 235.35,76.64 235.4,77.23 235.45,77.47 235.5,78.04 235.55,78.1 235.6,77.68 235.65,76.92 235.7,74.81 235.75,77.94 235.8,76.41 235.85,78.25 235.9,78.54 235.95,77.53 236,77.41 236.05,79.29 236.1,80.09 236.15,76.05 236.2,77.96 236.25,76.63 236.3,76.82 236.35,77.67 236.4,81.85 236.45,78.37 236.5,80.16 236.55,79.38 236.6,79.89 236.65,78.85 236.7,78.27 236.75,82.02 236.8,82.06 236.85,79.81 236.9,80.82 236.95,85.95 237,84.31 237.05,88.53 237.1,86.54 237.15,88.99 237.2,89.66 237.25,89.95 237.3,93.51 237.35,88.47 237.4,85.74 237.45,89.37 237.5,91.05 237.55,91.53 237.6,87.93 237.65,89.4 237.7,89.18 237.75,90.53 237.8,88.58 237.85,88.38 237.9,88.7 237.95,88.3 238,89.87 238.05,93.24 238.1,91.98 238.15,89.69 238.2,89.4 238.25,89.16 238.3,90.22 238.35,88.13 238.4,91.46 238.45,89.37 238.5,89.99 238.55,88.03 238.6,88.87 238.65,88.73 238.7,89.57 238.75,89.21 238.8,89.88 238.85,91.54 238.9,88.17 238.95,90.56 239,89.3 239.05,87.12 239.1,89.31 239.15,89.43 239.2,89.55 239.25,88.27 239.3,91.09 239.35,89.23 239.4,93.52 239.45,90.23 239.5,89.67 239.55,89.27 239.6,90.41 239.65,91.24 239.7,85.66 239.75,86.31 239.8,87.64 239.85,88.54 239.9,89.88 239.95,89.27 240,84.97 240.05,87.67 240.1,92.62 240.15,91.31 240.2,88.74 240.25,92.65 240.3,87.64 240.35,84.42 240.4,89.66 240.45,93.41 240.5,90.86 240.55,92.49 240.6,89.37 240.65,91.78 240.7,88.29 240.75,89.03 240.8,88.82 240.85,93.55 240.9,92.43 240.95,89.8 241,90.23 241.05,88.33 241.1,87.61 241.15,85.74 241.2,88.86 241.25,91.96 241.3,91.91 241.35,90.81 241.4,91.84 241.45,87.34 241.5,89.82 241.55,89.36 241.6,91.34 241.65,89.65 241.7,87.76 241.75,88.04 241.8,90.84 241.85,89.76 241.9,90.07 241.95,89.69 242,89.14 242.05,90.77 242.1,88.59 242.15,89.76 242.2,87.98 242.25,90.19 242.3,91.38 242.35,90.48 242.4,90.37 242.45,89.15 242.5,91.45 242.55,91.35 242.6,88.23 242.65,87.9 242.7,89.39 242.75,87.53 242.8,86.21 242.85,86.1 242.9,82.64 242.95,83.75 243,81.26 243.05,83.11 243.1,80.22 243.15,76.14 243.2,77.28 243.25,78.79 243.3,78.32 243.35,75.53 243.4,78.99 243.45,82.84 243.5,75.49 243.55,75.18 243.6,76.89 243.65,76.24 243.7,79.48 243.75,75.99 243.8,77.85 243.85,77.37 243.9,76.06 243.95,75.27 244,76.54 244.05,76.76 244.1,77.65 244.15,77.09 244.2,75.54 244.25,75.63 244.3,77.2 244.35,76.57 244.4,76.29 244.45,76.63 244.5,74.71 244.55,75.3 244.6,76.75 244.65,77.07 244.7,75.5 244.75,77.15 244.8,77.87 244.85,78.1 244.9,74.82 244.95,77.18 245,78.46 245.05,77.16 245.1,77.2 245.15,78.36 245.2,76.39 245.25,79.75 245.3,77.81 245.35,78.83 245.4,79.06 245.45,77.33 245.5,75.6 245.55,75.47 245.6,76.98 245.65,79.42 245.7,77.29 245.75,75.88 245.8,76.76 245.85,77.91 245.9,75.59 245.95,77.56 246,78.54 246.05,77.28 246.1,76.33 246.15,77.84 246.2,78.28 246.25,80.13 246.3,76.32 246.35,78.59 246.4,76.57 246.45,79.4 246.5,74.55 246.55,77.88 246.6,77.75 246.65,77.49 246.7,77.13 246.75,78.39 246.8,77.7 246.85,75.76 246.9,75.73 246.95,77.93 247,76.69 247.05,79.74 247.1,76.69 247.15,79.26 247.2,80.29 247.25,77.08 247.3,77.25 247.35,77.94 247.4,77.84 247.45,75 247.5,76.41 247.55,78.79 247.6,77.82 247.65,80.25 247.7,78.41 247.75,74.06 247.8,75.56 247.85,78.59 247.9,76.79 247.95,78.74 248,79.05 248.05,75.76 248.1,77.08 248.15,77.66 248.2,77.45 248.25,78.52 248.3,80.51 248.35,81 248.4,79.75 248.45,80.41 248.5,78.94 248.55,83.47 248.6,82.6 248.65,80.45 248.7,85.14 248.75,84.18 248.8,80.52 248.85,85.19 248.9,83.34 248.95,87.34 249,87.67 249.05,89.06 249.1,88.57 249.15,88.89 249.2,91.9 249.25,91.94 249.3,89.57 249.35,93.79 249.4,92.28 249.45,91.9 249.5,88.5 249.55,89.03 249.6,89.94 249.65,91.89 249.7,90.38 249.75,90.88 249.8,90.18 249.85,89.53 249.9,90.79 249.95,93.25 250,90.45 250.05,92.82 250.1,91.38 250.15,89.74 250.2,90.05 250.25,92.39 250.3,90.09 250.35,89.88 250.4,90.97 250.45,90.06 250.5,91.42 250.55,88.43 250.6,87.76 250.65,91.21 250.7,93.61 250.75,88.96 250.8,92.66 250.85,91.35 250.9,88.88 250.95,90.65 251,88.43 251.05,90.99 251.1,91.14 251.15,86.49 251.2,89.04 251.25,90.3 251.3,88.42 251.35,88.25 251.4,83.02 251.45,89.63 251.5,90.65 251.55,88.08 251.6,91.4 251.65,87.92 251.7,93.09 251.75,88.99 251.8,92.2 251.85,89.66 251.9,89.41 251.95,91.01 252,89.22 252.05,90.13 252.1,90.89 252.15,91.39 252.2,89.34 252.25,87.89 252.3,90.01 252.35,92.69 252.4,89.53 252.45,89.19 252.5,87.07 252.55,89.54 252.6,89.77 252.65,86.37 252.7,89.71 252.75,88.79 252.8,90.5 252.85,88.14 252.9,89.76 252.95,89.77 253,88.93 253.05,86.79 253.1,91.15 253.15,87.09 253.2,88.18 253.25,92.46 253.3,88.95 253.35,90.13 253.4,91.45 253.45,88.68 253.5,90.19 253.55,94.5 253.6,88.98 253.65,90.01 253.7,92.16 253.75,88.06 253.8,88.55 253.85,89.91 253.9,90.71 253.95,91.01 254,86.6 254.05,91.26 254.1,90.96 254.15,86.9 254.2,89.48 254.25,87.7 254.3,85.6 254.35,82.13 254.4,81.59 254.45,80.75 254.5,78.9 254.55,73.98 254.6,76.44 254.65,76.16 254.7,78.47 254.75,76.52 254.8,77.8 254.85,76.9 254.9,78.01 254.95,78.1 255,74.33 255.05,77.62 255.1,79.37 255.15,77.19 255.2,73.48 255.25,77.45 255.3,76.6 255.35,76.69 255.4,77.53 255.45,78.39 255.5,78.68 255.55,76.43 255.6,77.62 255.65,77.73 255.7,74.17 255.75,76.1 255.8,76.45 255.85,77.41 255.9,78.82 255.95,78.7 256,77.45 256.05,75.19 256.1,76.24 256.15,77.32 256.2,79.17 256.25,75.89 256.3,74.29 256.35,78.18 256.4,76.93 256.45,79.85 256.5,75.68 256.55,75.84 256.6,75.04 256.65,78.05 256.7,78.21 256.75,77.25 256.8,78.32 256.85,81.04 256.9,75.87 256.95,75.36 257,77.09 257.05,76.14 257.1,77.37 257.15,75.02 257.2,76.39 257.25,75.53 257.3,78.63 257.35,75.28 257.4,76.28 257.45,76.76 257.5,74.73 257.55,79.15 257.6,75.66 257.65,78.03 257.7,76.83 257.75,78.5 257.8,76.85 257.85,76.6 257.9,77.1 257.95,76.99 258,73.28 258.05,76.18 258.1,78.33 258.15,74.46 258.2,77.13 258.25,78.17 258.3,79.02 258.35,77.7 258.4,79.33 258.45,74.43 258.5,77.58 258.55,74.99 258.6,75.69 258.65,77.64 258.7,76.24 258.75,75.99 258.8,77.4 258.85,78.11 258.9,77.62 258.95,78.28 259,76.27 259.05,76.72 259.1,75.8 259.15,75.74 259.2,77.19 259.25,76.31 259.3,79.92 259.35,76.2 259.4,76.42 259.45,78.62 259.5,79.17 259.55,76.04 259.6,77.02 259.65,79.01 259.7,74.65 259.75,74.19 259.8,79.02 259.85,78.8 259.9,78.84 259.95,77.25 260,77.27 260.05,78.65 260.1,80.02 260.15,81.07 260.2,78.96 260.25,80.61 260.3,80.45 260.35,81.34 260.4,83.38 260.45,83.43 260.5,86.1 260.55,85.32 260.6,85.24 260.65,84.84 260.7,84.09 260.75,87.12 260.8,90.02 260.85,87.76 260.9,89.63 260.95,88.6 261,88.4 261.05,88.4 261.1,87.83 261.15,90.23 261.2,90.59 261.25,94.37 261.3,86.17 261.35,89.48 261.4,91.05 261.45,90.01 261.5,88.51 261.55,90.45 261.6,89.54 261.65,87.98 261.7,90.13 261.75,89.09 261.8,90.74 261.85,91.53 261.9,89.55 261.95,90.32 262,90.82 262.05,89.93 262.1,88.47 262.15,91.1 262.2,90.1 262.25,88.55 262.3,88.8 262.35,88.69 262.4,88.71 262.45,89.73 262.5,89.98 262.55,89.78 262.6,89.68 262.65,90.78 262.7,91.38 262.75,89.19 262.8,89.12 262.85,91.02 262.9,88.89 262.95,89.83 263,88.58 263.05,90.67 263.1,90.31 263.15,89.92 263.2,91.01 263.25,91.14 263.3,87.96 263.35,91.65 263.4,90.12 263.45,87.55 263.5,89.66 263.55,91.65 263.6,91.56 263.65,89.18 263.7,89.77 263.75,88.74 263.8,88.71 263.85,91.06 263.9,89.89 263.95,91.31 264,89.41 264.05,89.48 264.1,87.99 264.15,89.18 264.2,88.84 264.25,88.49 264.3,87.72 264.35,90.31 264.4,90.18 264.45,89.62 264.5,87.15 264.55,89.14 264.6,88.68 264.65,90.63 264.7,89.2 264.75,90.34 264.8,91.1 264.85,90.04 264.9,89.65 264.95,85.83 265,88.78 265.05,88.87 265.1,88.07 265.15,89.07 265.2,90.34 265.25,89.49 265.3,90.37 265.35,85.75 265.4,90.32 265.45,89 265.5,90.42 265.55,89.96 265.6,92.86 265.65,90.5 265.7,89.09 265.75,90.82 265.8,89.14 265.85,89.12 265.9,88.82 265.95,90.38 266,88.53 266.05,89.67 266.1,91.14 266.15,90.5 266.2,89.02 266.25,88.99 266.3,88.27 266.35,86.74 266.4,84.44 266.45,84.2 266.5,81.53 266.55,81.46 266.6,81.34 266.65,80.32 266.7,73.93 266.75,79.62 266.8,80.63 266.85,78.09 266.9,76.93 266.95,77.45 267,78.12 267.05,76.57 267.1,78.65 267.15,80.22 267.2,75.1 267.25,76.74 267.3,77.56 267.35,75.09 267.4,77.39 267.45,77.21 267.5,78.7 267.55,75.59 267.6,76.26 267.65,80.12 267.7,77.38 267.75,76.12 267.8,77.64 267.85,78.12 267.9,78.02 267.95,81.02 268,76.84 268.05,77.54 268.1,80.01 268.15,78.59 268.2,73.3 268.25,76.11 268.3,75.16 268.35,76.72 268.4,75.62 268.45,74.65 268.5,76.93 268.55,78.59 268.6,76.71 268.65,78.12 268.7,74.58 268.75,77.51 268.8,74.84 268.85,77.39 268.9,77.12 268.95,78.02 269,75.13 269.05,77.77 269.1,79.04 269.15,82.04 269.2,75.97 269.25,75.48 269.3,77.28 269.35,80.36 269.4,76.68 269.45,78.55 269.5,74.74 269.55,76.14 269.6,79.25 269.65,79.79 269.7,77.28 269.75,79.29 269.8,76.28 269.85,78.26 269.9,76.58 269.95,78.33 270,76.62 270.05,76.08 270.1,79.25 270.15,78.17 270.2,74.03 270.25,76.3 270.3,76.54 270.35,78.59 270.4,75.75 270.45,76.89 270.5,76.73 270.55,75.74 270.6,76.57 270.65,77.79 270.7,78.92 270.75,80.42 270.8,78.4 270.85,79.02 270.9,80.51 270.95,77.67 271,75.6 271.05,74.45 271.1,79.71 271.15,78.56 271.2,78.22 271.25,76.96 271.3,74.56 271.35,76.92 271.4,78.33 271.45,77.97 271.5,76.84 271.55,76.91 271.6,76.16 271.65,77.65 271.7,77.01 271.75,78.78 271.8,78.66 271.85,78.28 271.9,76.94 271.95,81.42 272,79.56 272.05,80.35 272.1,80.49 272.15,80.63 272.2,83.45 272.25,84.45 272.3,84.21 272.35,84.91 272.4,88.19 272.45,86.15 272.5,87.64 272.55,86.46 272.6,86.34 272.65,90.11 272.7,89.11 272.75,87.76 272.8,91.77 272.85,88.91 272.9,86.54 272.95,91.28 273,90.61 273.05,89.98 273.1,86.12 273.15,87.8 273.2,90.08 273.25,90.03 273.3,90.82 273.35,88.77 273.4,89.74 273.45,90.69 273.5,90.1 273.55,90 273.6,92.02 273.65,90.99 273.7,89.22 273.75,90.18 273.8,88.49 273.85,89.76 273.9,89.76 273.95,88.78 274,88.53 274.05,92.68 274.1,89.54 274.15,87.92 274.2,89.6 274.25,89.91 274.3,89.3 274.35,89 274.4,88.84 274.45,91.56 274.5,91.8 274.55,88.22 274.6,87.55 274.65,89.63 274.7,91.61 274.75,90.64 274.8,90.28 274.85,87.5 274.9,90.25 274.95,89.29 275,90.52 275.05,89.18 275.1,89.9 275.15,91.68 275.2,94.68 275.25,90.25 275.3,90.68 275.35,89.23 275.4,91.62 275.45,89.58 275.5,91.02 275.55,89.3 275.6,89.47 275.65,91.2 275.7,91.01 275.75,91.74 275.8,90.6 275.85,91.36 275.9,90.37 275.95,89.13 276,86.87 276.05,90.62 276.1,87.92 276.15,86.96 276.2,88.2 276.25,89.83 276.3,87.65 276.35,90.12 276.4,88.48 276.45,91.1 276.5,87.79 276.55,87.4 276.6,89.54 276.65,87.58 276.7,91.27 276.75,92.56 276.8,90.2 276.85,90.68 276.9,87.66 276.95,91.85 277,88.71 277.05,89.16 277.1,88.59 277.15,90.54 277.2,85.92 277.25,89.31 277.3,87.27 277.35,88.25 277.4,84.01 277.45,84.23 277.5,85.05 277.55,85.19 277.6,86.31 277.65,84.62 277.7,86.58 277.75,86.2 277.8,85.7 277.85,85.79 277.9,85.51 277.95,85.5 278,81.81 278.05,80.76 278.1,85.57 278.15,82.75 278.2,82.22 278.25,82.54 278.3,79.12 278.35,80.63 278.4,80.53 278.45,79.76 278.5,80.22 278.55,80.32 278.6,76.51 278.65,78.17 278.7,79.28 278.75,80.04 278.8,75.28 278.85,77.03 278.9,79.1 278.95,78.44 279,78.26 279.05,78.1 279.1,78.85 279.15,76.24 279.2,76.89 279.25,75.63 279.3,77.23 279.35,73.81 279.4,74.53 279.45,71.31 279.5,77.15 279.55,73.21 279.6,76.54 279.65,73.31 279.7,75.83 279.75,77.53 279.8,70.79 279.85,74.2 279.9,73.62 279.95,76.08 280,74.24 280.05,74.28 280.1,74.18 280.15,72.16 280.2,73.98 280.25,75.73 280.3,73.15 280.35,72.83 280.4,71.1 280.45,71.51 280.5,71.89 280.55,69.89 280.6,70.68 280.65,71.22 280.7,71.81 280.75,71.09 280.8,71.06 280.85,68.93 280.9,70.53 280.95,74.15 281,71.07 281.05,71.39 281.1,68.14 281.15,71.16 281.2,70.49 281.25,68.76 281.3,68.62 281.35,68.59 281.4,69.63 281.45,70.89 281.5,71.09 281.55,69.18 281.6,68.84 281.65,69.31 281.7,68.91 281.75,67.82 281.8,69.65 281.85,66.91 281.9,67.7 281.95,69.01 282,71.75 282.05,70.32 282.1,72.04 282.15,61.56 282.2,67.66 282.25,67.12 282.3,64.41 282.35,68.04 282.4,67.21 282.45,66.94 282.5,67.29 282.55,68.45 282.6,70.81 282.65,70.2 282.7,68.89 282.75,70.02 282.8,68.34 282.85,65.38 282.9,64.58 282.95,67.96 283,66.41 283.05,67.14 283.1,63.06 283.15,63.89 283.2,64.21 283.25,67.54 283.3,69.63 283.35,66.84 283.4,67.38 283.45,67.85 283.5,66.68 283.55,70.03 283.6,66.95 283.65,68.99 283.7,69.6 283.75,67.57 283.8,68.58 283.85,69.02 283.9,66.24 283.95,66.98 284,68.07 284.05,66.13 284.1,67.6 284.15,65.42 284.2,68.14 284.25,69.77 284.3,69.03 284.35,66.16 284.4,66.25 284.45,68.63 284.5,67.43 284.55,66.29 284.6,70.5 284.65,67.37 284.7,66.21 284.75,68.43 284.8,69.94 284.85,67.21 284.9,67.91 284.95,67.86 285,68.67 285.05,67.97 285.1,67.38 285.15,70.57 285.2,66.74 285.25,67.59 285.3,70.6 285.35,67.78 285.4,66 285.45,67.93 285.5,69.69 285.55,67.37 285.6,70.13 285.65,67.27 285.7,68.86 285.75,67.72 285.8,66.95 285.85,68.1 285.9,66.2 285.95,64.01 286,68.13 286.05,70.12 286.1,66.89 286.15,68 286.2,67.56 286.25,68.43 286.3,68.31 286.35,67.49 286.4,65.93 286.45,67.6 286.5,66.84 286.55,70.63 286.6,67.63 286.65,67.22 286.7,68.77 286.75,67.42 286.8,73.04 286.85,67 286.9,68.98 286.95,64.86 287,66.17 287.05,68.33 287.1,71.56 287.15,63.85 287.2,67.07 287.25,68.56 287.3,69.13 287.35,67.29 287.4,69 287.45,67.07 287.5,68.42 287.55,68.81 287.6,68.61 287.65,68.33 287.7,70.59 287.75,67.47 287.8,69.13 287.85,68.94 287.9,66.21 287.95,66.85 288,65.11 288.05,68.33 288.1,66.52 288.15,72.11 288.2,67.11 288.25,66.89 288.3,67.77 288.35,70.17 288.4,69.76 288.45,62.31 288.5,67.66 288.55,67.99 288.6,69.15 288.65,71.2 288.7,66.38 288.75,65.05 288.8,65.79 288.85,68.12 288.9,69.92 288.95,67.08 289,67.4 289.05,71.35 289.1,66.97 289.15,68.61 289.2,67.68 289.25,64.43 289.3,65.73 289.35,67.51 289.4,66.58 289.45,70.86 289.5,68.04 289.55,67.74 289.6,71.52 289.65,69.84 289.7,67.66 289.75,65.92 289.8,72.7 289.85,65.93 289.9,67.06 289.95,65.63 290,66.75 290.05,72.39 290.1,65.28 290.15,68.45 290.2,69.38 290.25,68.03 290.3,70.1 290.35,66.72 290.4,68 290.45,67.77 290.5,64.44 290.55,67.23 290.6,68.43 290.65,67.56 290.7,68.49 290.75,68.87 290.8,68.49 290.85,67.59 290.9,65.54 290.95,71.09 291,66.76 291.05,69.73 291.1,68.69 291.15,69.24 291.2,66.96 291.25,67.77 291.3,68.23 291.35,64.69 291.4,66.92 291.45,66.37 291.5,68.87 291.55,68.54 291.6,67.13 291.65,69.95 291.7,66.74 291.75,69.08 291.8,62.64 291.85,66.31 291.9,70.69 291.95,69.81 292,64.67 292.05,67.61 292.1,68.33 292.15,67.38 292.2,66.19 292.25,66.37 292.3,68.47 292.35,64.06 292.4,71.24 292.45,67.57 292.5,68.63 292.55,67.44 292.6,67.08 292.65,68.42 292.7,67.29 292.75,66.93 292.8,64.62 292.85,70.41 292.9,69.37 292.95,67.63 293,67.8 293.05,64.42 293.1,66.91 293.15,66.84 293.2,67.78 293.25,68.23 293.3,67.95 293.35,69.68 293.4,65.33 293.45,72.49 293.5,70.55 293.55,64.78 293.6,70.46 293.65,70.88 293.7,67.36 293.75,73.08 293.8,67.3 293.85,66.3 293.9,68.1 293.95,66.65 294,68.9 294.05,65.68 294.1,71.3 294.15,67.12 294.2,64.41 294.25,66.1 294.3,68.48 294.35,71.65 294.4,67.57 294.45,67.59 294.5,68.65 294.55,68.42 294.6,68.2 294.65,65.71 294.7,72.62 294.75,68.85 294.8,67.66 294.85,66.24 294.9,67.55 294.95,68.73 295,67.6 295.05,64.68 295.1,67.88 295.15,67.16 295.2,68.08 295.25,67.77 295.3,67.81 295.35,66.73 295.4,67.06 295.45,67.97 295.5,67.59 295.55,69.15 295.6,65.05 295.65,73.05 295.7,67.65 295.75,68.46 295.8,66.29 295.85,69.64 295.9,66.6 295.95,68.48 296,67.94 296.05,69.51 296.1,66.4 296.15,67.76 296.2,67.41 296.25,66.41 296.3,67.76 296.35,67.14 296.4,68.45 296.45,64.56 296.5,68.29 296.55,68.92 296.6,68.4 296.65,68.93 296.7,70.16 296.75,68.5 296.8,69.42 296.85,70 296.9,67.36 296.95,67.72 297,69.75 297.05,69.7 297.1,66.57 297.15,68.01 297.2,68.76 297.25,70.01 297.3,67.35 297.35,69.78 297.4,66.53 297.45,64.58 297.5,67.33 297.55,67.63 297.6,66.78 297.65,69.44 297.7,66.98 297.75,63.15 297.8,67.68 297.85,67.88 297.9,66.97 297.95,68.67 298,68.4 298.05,67.64 298.1,69.06 298.15,69.77 298.2,71.56 298.25,68.4 298.3,68.12 298.35,68.73 298.4,67.12 298.45,67.53 298.5,69.64 298.55,71.6 298.6,68.08 298.65,66.76 298.7,66.46 298.75,65.7 298.8,65.75 298.85,66.08 298.9,66.93 298.95,69.68 299,70.52 299.05,68.3 299.1,67.97 299.15,68.55 299.2,69.25 299.25,66.84 299.3,70.59 299.35,68.16 299.4,65.85 299.45,66.54 299.5,64.69 299.55,66.66 299.6,68.05 299.65,71.91 299.7,69.68 299.75,69.73 299.8,68.23 299.85,66.22 299.9,66.62 299.95,68.55 300,68.45 300.05,68.81 300.1,67.56 300.15,68.48 300.2,64.32 300.25,65.93 300.3,69.29 300.35,68.93 300.4,68.66 300.45,68.96 300.5,69.85 300.55,66 300.6,64.62 300.65,66.49 300.7,67.8 300.75,63.01 300.8,69.42 300.85,67.27 300.9,69.38 300.95,68.37 301,64.92 301.05,70.25 301.1,69.67 301.15,68.15 301.2,68.9 301.25,68.01 301.3,67.68 301.35,65.79 301.4,66 301.45,68.8 301.5,66.25 301.55,72.46 301.6,64.49 301.65,66.73 301.7,63.59 301.75,69.56 301.8,64.3 301.85,68.29 301.9,69.95 301.95,68.4 302,68.46 302.05,68 302.1,66.95 302.15,70.99 302.2,68.4 302.25,66.44 302.3,68.13 302.35,68.08 302.4,68.55 302.45,70.91 302.5,64.87 302.55,66.8 302.6,70.09 302.65,69.8 302.7,64.89 302.75,65.1 302.8,70.39 302.85,69.51 302.9,68.96 302.95,73.87 303,67.66 303.05,68.22 303.1,68.11 303.15,67.06 303.2,66.14 303.25,68.07 303.3,67.97 303.35,68.89 303.4,70.39 303.45,67.35 303.5,68.45 303.55,66.75 303.6,69.21 303.65,69.47 303.7,68.86 303.75,70.84 303.8,67.68 303.85,66.03 303.9,68.23 303.95,66.73 304,65.42 304.05,69.08 304.1,69.5 304.15,66.7 304.2,66.2 304.25,67.67 304.3,65.48 304.35,72.13 304.4,69.2 304.45,69.12 304.5,65.94 304.55,67.68 304.6,64.78 304.65,65.51 304.7,71.09 304.75,65.81 304.8,69.37 304.85,67.88 304.9,68.55 304.95,69.12 305,68.98 305.05,66.63 305.1,66.43 305.15,68.99 305.2,65.75 305.25,66.87 305.3,69.53 305.35,68.74 305.4,66.77 305.45,67.55 305.5,68.75 305.55,70.91 305.6,72.07 305.65,65.04 305.7,71.43 305.75,67.97 305.8,66.25 305.85,68.5 305.9,69.52 305.95,68.39 306,69.89 306.05,67.95 306.1,69.18 306.15,69.64 306.2,69.22 306.25,65.24 306.3,66.87 306.35,66.75 306.4,70.94 306.45,68.15 306.5,65.02 306.55,66.19 306.6,69.94 306.65,67.76 306.7,66.75 306.75,70.69 306.8,67.56 306.85,69.39 306.9,67.51 306.95,66.02 307,65.31 307.05,67.46 307.1,67.71 307.15,71.54 307.2,70.64 307.25,70.82 307.3,68.6 307.35,67.98 307.4,68.72 307.45,69.57 307.5,68.06 307.55,65.59 307.6,69.3 307.65,68.93 307.7,67.62 307.75,69.25 307.8,65.87 307.85,65.74 307.9,69.29 307.95,67.29 308,67.66 308.05,67.63 308.1,67.95 308.15,68.33 308.2,70.1 308.25,68.11 308.3,70.88 308.35,67.28 308.4,68.99 308.45,67.05 308.5,66.17 308.55,69.3 308.6,69.38 308.65,69.36 308.7,68.03 308.75,69.32 308.8,68.54 308.85,71.45 308.9,67.68 308.95,67.77 309,65.68 309.05,70.7 309.1,68.63 309.15,68.71 309.2,69.96 309.25,68.76 309.3,69.94 309.35,65.75 309.4,66.7 309.45,66.41 309.5,70.56 309.55,68.7 309.6,70.74 309.65,66.36 309.7,64.29 309.75,68.23 309.8,68 309.85,68.53 309.9,68.04 309.95,67.15 310,64.94 310.05,70.14 310.1,66.7 310.15,69.49 310.2,70.41 310.25,65.63 310.3,69.25 310.35,71.55 310.4,68.17 310.45,67.82 310.5,72.24 310.55,66.11 310.6,71.44 310.65,64.7 310.7,66.24 310.75,68.94 310.8,65.59 310.85,71.47 310.9,66.27 310.95,67.49 311,67.69 311.05,70.25 311.1,68.17 311.15,68.91 311.2,68.37 311.25,67.74 311.3,67.41 311.35,69.73 311.4,63.87 311.45,67.8 311.5,65.28 311.55,68.19 311.6,67.02 311.65,67.86 311.7,71.78 311.75,69.11 311.8,70.62 311.85,67.87 311.9,66.76 311.95,67.16 312,68.7 312.05,69.48 312.1,68.76 312.15,67.84 312.2,66.91 312.25,67.16 312.3,67.39 312.35,66.86 312.4,67.44 312.45,66.6 312.5,70.36 312.55,65.81 312.6,68.37 312.65,67.77 312.7,67.85 312.75,70.27 312.8,68.19 312.85,66.77 312.9,66.56 312.95,67.65 313,66.69 313.05,69.66 313.1,66.87 313.15,67.51 313.2,67.69 313.25,69.67 313.3,70.98 313.35,69.94 313.4,68.07 313.45,71.41 313.5,68.45 313.55,68.94 313.6,68.05 313.65,68.19 313.7,69.73 313.75,68.66 313.8,66.68 313.85,69.95 313.9,68.67 313.95,68.97 314,69.43 314.05,64.74 314.1,69.44 314.15,66.95 314.2,67.84 314.25,66.84 314.3,65.84 314.35,70.5 314.4,66.77 314.45,66.04 314.5,69.78 314.55,68.71 314.6,65.52 314.65,69.03 314.7,70.03 314.75,69.95 314.8,67.16 314.85,68.33 314.9,66.88 314.95,64.63 315,65.84 315.05,68.13 315.1,66.56 315.15,67.4 315.2,64.73 315.25,67.62 315.3,66.77 315.35,68.5 315.4,68.99 315.45,71.6 315.5,68.16 315.55,66.17 315.6,68.6 315.65,69.07 315.7,64.14 315.75,66.86 315.8,69.81 315.85,67.73 315.9,68.82 315.95,69.65 316,72.01 316.05,66.73 316.1,68 316.15,68.1 316.2,72.61 316.25,67.56 316.3,67.61 316.35,71.27 316.4,71.52 316.45,68.03 316.5,68.54 316.55,68.39 316.6,65.73 316.65,74.28 316.7,69.32 316.75,67.71 316.8,68.6 316.85,65.91 316.9,69.22 316.95,70.31 317,67.21 317.05,68.38 317.1,64.29 317.15,66.32 317.2,67.39 317.25,65.2 317.3,68.68 317.35,66.21 317.4,69.21 317.45,68.41 317.5,70.82 317.55,63.22 317.6,69.27 317.65,65.94 317.7,67.23 317.75,70.85 317.8,66.63 317.85,66.16 317.9,67.32 317.95,67.14 318,67.14 318.05,69.45 318.1,69.61 318.15,68.31 318.2,69.94 318.25,70.33 318.3,67.86 318.35,68.19 318.4,68.38 318.45,68.8 318.5,67.24 318.55,69.78 318.6,67.2 318.65,70.44 318.7,66.73 318.75,65.68 318.8,70.99 318.85,66.51 318.9,66.46 318.95,66.75 319,70.34 319.05,69.01 319.1,65.93 319.15,66.79 319.2,63.45 319.25,68.28 319.3,68.85 319.35,68.75 319.4,69.19 319.45,68.89 319.5,65.62 319.55,67.05 319.6,69.17 319.65,65.48 319.7,64.79 319.75,68.88 319.8,67.66 319.85,68.09 319.9,67.89 319.95,68.65 320,66.34 320.05,66.73 320.1,66.86 320.15,69.52 320.2,69.94 320.25,67.66 320.3,67.67 320.35,66.99 320.4,69.15 320.45,69.29 320.5,68.01 320.55,67.11 320.6,67.37 320.65,68.94 320.7,68.24 320.75,69.65 320.8,69.64 320.85,67.63 320.9,67.96 320.95,69.26 321,68.83 321.05,69.35 321.1,66.77 321.15,68.48 321.2,67.47 321.25,66.01 321.3,67.21 321.35,67.82 321.4,70.89 321.45,69.29 321.5,70.53 321.55,65.96 321.6,70.23 321.65,68.28 321.7,66.28 321.75,68.02 321.8,69.64 321.85,66.91 321.9,68.53 321.95,65.46 322,66.17 322.05,66.83 322.1,68.03 322.15,68.96 322.2,69.28 322.25,69.06 322.3,69.51 322.35,68.76 322.4,69.8 322.45,66.38 322.5,66.98 322.55,68.05 322.6,68.94 322.65,66.32 322.7,68.02 322.75,68.48 322.8,66.19 322.85,68.21 322.9,64.61 322.95,68.98 323,68.41 323.05,64.81 323.1,68.47 323.15,67.82 323.2,65.63 323.25,68.19 323.3,67.08 323.35,68.55 323.4,65.85 323.45,68.18 323.5,65.84 323.55,66.2 323.6,68.05 323.65,66.91 323.7,66.73 323.75,69.01 323.8,66.76 323.85,69.36 323.9,69.82 323.95,68.26 324,68.42 324.05,66.2 324.1,68.34 324.15,67.6 324.2,66.68 324.25,69.58 324.3,70.29 324.35,67.03 324.4,65.2 324.45,67.7 324.5,67.91 324.55,67.24 324.6,67.14 324.65,69.98 324.7,70.01 324.75,69.8 324.8,71.19 324.85,72.11 324.9,67.5 324.95,67.5 325,70.11 325.05,67.15 325.1,65.33 325.15,68.56 325.2,69.1 325.25,68.11 325.3,67.66 325.35,63.78 325.4,68.62 325.45,66.93 325.5,63.96 325.55,69.69 325.6,67.22 325.65,65.68 325.7,63.78 325.75,65.45 325.8,71.59 325.85,66.05 325.9,65.14 325.95,67.42 326,67.58 326.05,65.94 326.1,66.71 326.15,68.3 326.2,67.66 326.25,66.73 326.3,67.94 326.35,67.42 326.4,69.42 326.45,68.92 326.5,67.54 326.55,71.46 326.6,67.14 326.65,70.9 326.7,68.74 326.75,66.7 326.8,68.72 326.85,69.71 326.9,65.8 326.95,69.49 327,67.98 327.05,66.19 327.1,66.86 327.15,68.64 327.2,67.65 327.25,67.03 327.3,69.56 327.35,67.92 327.4,65.47 327.45,66.03 327.5,68.66 327.55,69.76 327.6,68.53 327.65,65.22 327.7,68.7 327.75,68.04 327.8,66.47 327.85,69.17 327.9,65.86 327.95,64.58 328,67.32 328.05,66.03 328.1,67.74 328.15,65.94 328.2,66.16 328.25,71.22 328.3,65.28 328.35,65.55 328.4,68.98 328.45,71.38 328.5,68.75 328.55,67.25 328.6,69.28 328.65,72.36 328.7,70.86 328.75,68.64 328.8,68.73 328.85,66.54 328.9,68.44 328.95,70.65 329,65.26 329.05,66.97 329.1,67.53 329.15,68.37 329.2,67.36 329.25,66.15 329.3,68.11 329.35,66.98 329.4,67.34 329.45,68.36 329.5,71.21 329.55,72.64 329.6,67.46 329.65,66.63 329.7,71.19 329.75,70.49 329.8,67.64 329.85,68.4 329.9,68.44 329.95,64.65 330,66.71 330.05,70.22 330.1,68.21 330.15,70.15 330.2,68.48 330.25,69.01 330.3,66.78 330.35,67.68 330.4,68.81 330.45,66.02 330.5,68.04 330.55,68.23 330.6,65.04 330.65,68.93 330.7,68.4 330.75,68.27 330.8,68.98 330.85,68.51 330.9,71.42 330.95,67.82 331,68.05 331.05,66.93 331.1,68.24 331.15,67.07 331.2,63.43 331.25,69.25 331.3,69.2 331.35,66.49 331.4,66.63 331.45,68.25 331.5,68.71 331.55,67.92 331.6,67.19 331.65,68.55 331.7,69.09 331.75,69.86 331.8,65.66 331.85,68.23 331.9,66.44 331.95,70.24 332,66.87 332.05,69.44 332.1,70.14 332.15,70.57 332.2,69.94 332.25,67.67 332.3,70.45 332.35,65.89 332.4,67.4 332.45,69.59 332.5,66.68 332.55,68.94 332.6,67.34 332.65,65.41 332.7,67.57 332.75,68.7 332.8,69.87 332.85,66.31 332.9,69.01 332.95,67.38 333,70.85 333.05,67.31 333.1,67.34 333.15,65.73 333.2,69.56 333.25,69.17 333.3,68.61 333.35,70.84 333.4,68.67 333.45,69.16 333.5,69.01 333.55,68.38 333.6,68.62 333.65,70.07 333.7,66.54 333.75,69.37 333.8,66.43 333.85,70.99 333.9,67.61 333.95,68.07 334,67.25 334.05,67.71 334.1,67.28 334.15,68.17 334.2,71.34 334.25,65.65 334.3,68.77 334.35,66.26 334.4,67.48 334.45,67.8 334.5,66.92 334.55,68.87 334.6,67.38 334.65,69.82 334.7,68.9 334.75,66.4 334.8,70.36 334.85,64.96 334.9,67.84 334.95,65.95 335,67.26 335.05,67.69 335.1,67.84 335.15,69.09 335.2,66.35 335.25,69.08 335.3,67.08 335.35,66.63 335.4,67.55 335.45,69.69 335.5,68.02 335.55,69.39 335.6,65.58 335.65,67.28 335.7,67.77 335.75,69.48 335.8,66.25 335.85,68.4 335.9,64.69 335.95,67.05 336,67.63 336.05,68.39 336.1,70.07 336.15,64.58 336.2,70.41 336.25,69.39 336.3,70.34 336.35,68.12 336.4,69.62 336.45,68.63 336.5,68.71 336.55,67.09 336.6,66.28 336.65,66.88 336.7,68.75 336.75,69.08 336.8,66.61 336.85,70.82 336.9,66.54 336.95,68 337,67.09 337.05,68.08 337.1,69.08 337.15,66.53 337.2,66 337.25,66.19 337.3,67.53 337.35,66.9 337.4,66.65 337.45,67.82 337.5,66.65 337.55,62.98 337.6,68.67 337.65,71.23 337.7,69 337.75,68.08 337.8,68.04 337.85,68.14 337.9,68.3 337.95,70.45 338,71.66 338.05,68.65 338.1,69.81 338.15,68.4 338.2,69.08 338.25,67.3 338.3,68.76 338.35,68.79 338.4,67.62 338.45,67.6 338.5,67 338.55,67.01 338.6,68.25 338.65,69.84 338.7,68.42 338.75,67.44 338.8,66.82 338.85,69.36 338.9,70.38 338.95,69.34 339,67.59 339.05,68.33 339.1,67.62 339.15,63.8 339.2,69.1 339.25,65.07 339.3,68.85 339.35,66.89 339.4,68.14 339.45,67.86 339.5,69.87 339.55,67.26 339.6,70.13 339.65,68.84 339.7,71.14 339.75,72.17 339.8,67.66 339.85,68.2 339.9,66.48 339.95,68.14 340,68.81 340.05,64.99 340.1,68.53 340.15,68.37 340.2,71.26 340.25,68.29 340.3,69.52 340.35,69.32 340.4,66.88 340.45,66.73 340.5,70.81 340.55,68.31 340.6,66.85 340.65,69.49 340.7,66.71 340.75,66.85 340.8,70.6 340.85,65.99 340.9,69.13 340.95,68.89 341,68.65 341.05,68.7 341.1,67.71 341.15,67.7 341.2,60.49 341.25,67.71 341.3,67.85 341.35,67.43 341.4,66.91 341.45,69.44 341.5,66.82 341.55,70.38 341.6,67.98 341.65,68.1 341.7,66.99 341.75,66.04 341.8,68.98 341.85,68.24 341.9,67.92 341.95,69.64 342,67.56 342.05,69.89 342.1,68.7 342.15,68.42 342.2,65.19 342.25,65.86 342.3,67.73 342.35,70.18 342.4,67.75 342.45,68.29 342.5,66.88 342.55,69.32 342.6,67.88 342.65,67.69 342.7,67.51 342.75,66.9 342.8,67.06 342.85,68.49 342.9,67.37 342.95,67.77 343,69.07 343.05,67.02 343.1,69.13 343.15,70.21 343.2,67.64 343.25,66.65 343.3,65.07 343.35,68.85 343.4,66.11 343.45,69.3 343.5,70.61 343.55,69.96 343.6,68.2 343.65,71.38 343.7,70.56 343.75,68.14 343.8,68.79 343.85,66.84 343.9,68.28 343.95,70.19 344,70.67 344.05,69.47 344.1,68.34 344.15,69.93 344.2,68.64 344.25,68.8 344.3,66.42 344.35,66.52 344.4,67.42 344.45,67.8 344.5,72.42 344.55,67.44 344.6,66.47 344.65,68.34 344.7,66.97 344.75,68.07 344.8,68.08 344.85,68.01 344.9,70.54 344.95,69.59 345,68.57 345.05,66.89 345.1,68.2 345.15,69.15 345.2,67.69 345.25,67.14 345.3,68.28 345.35,72.45 345.4,68.01 345.45,67.19 345.5,69.51 345.55,65.84 345.6,69.56 345.65,69.64 345.7,69.69 345.75,68.74 345.8,68.36 345.85,67.07 345.9,68.62 345.95,68.41 346,71.89 346.05,67.29 346.1,66.86 346.15,67.79 346.2,68.94 346.25,68.93 346.3,67.07 346.35,70.55 346.4,65.03 346.45,72.6 346.5,67.61 346.55,65.57 346.6,64.29 346.65,67.18 346.7,67.07 346.75,67.44 346.8,69.76 346.85,66.57 346.9,70.01 346.95,68.68 347,69.53 347.05,66.05 347.1,69.71 347.15,66.93 347.2,68.51 347.25,69.31 347.3,65.73 347.35,63.11 347.4,70.54 347.45,68.61 347.5,66.94 347.55,67.48 347.6,66.75 347.65,70.11 347.7,69.31 347.75,68.71 347.8,70.62 347.85,72.36 347.9,65.97 347.95,67.6 348,68.39 348.05,70.61 348.1,67.76 348.15,68.99 348.2,68.71 348.25,68.83 348.3,66.86 348.35,70.05 348.4,69.26 348.45,67.03 348.5,68.66 348.55,65.97 348.6,68.29 348.65,68.68 348.7,68.94 348.75,67.75 348.8,67.55 348.85,67.03 348.9,69.32 348.95,68.91 349,67.4 349.05,67.23 349.1,68.08 349.15,69.06 349.2,69.21 349.25,69.5 349.3,69.76 349.35,67.11 349.4,67.62 349.45,68.95 349.5,69.26 349.55,65.49 349.6,67.17 349.65,68.42 349.7,65.73 349.75,66.19 349.8,67.66 349.85,63.82 349.9,65.84 349.95,68.58 350,71.22 350.05,71.75 350.1,67.64 350.15,68.96 350.2,68.62 350.25,65.69 350.3,65.71 350.35,66.04 350.4,71.33 350.45,70.07 350.5,66.57 350.55,64.95 350.6,68.34 350.65,69.08 350.7,67.71 350.75,67.75 350.8,69.99 350.85,68.74 350.9,66.37 350.95,67.95 351,67.38 351.05,65.66 351.1,68.15 351.15,70.41 351.2,65.51 351.25,67.41 351.3,66.44 351.35,67.14 351.4,70.73 351.45,69.71 351.5,68.04 351.55,67.71 351.6,65.86 351.65,66.1 351.7,67.75 351.75,66.45 351.8,65.85 351.85,67.88 351.9,67.61 351.95,68.22 352,68.07 352.05,67.57 352.1,70.47 352.15,69.66 352.2,68.09 352.25,67.83 352.3,71.23 352.35,62.63 352.4,66.68 352.45,68.37 352.5,66.7 352.55,68.63 352.6,68.99 352.65,68.99 352.7,68.3 352.75,67.08 352.8,68.07 352.85,68.09 352.9,69.24 352.95,68.79 353,66.31 353.05,68.86 353.1,66.91 353.15,66.47 353.2,69.23 353.25,68.8 353.3,69.27 353.35,70.65 353.4,64.13 353.45,67.81 353.5,70.06 353.55,67.58 353.6,68.04 353.65,68.42 353.7,69.95 353.75,67.96 353.8,69.54 353.85,68.76 353.9,67.57 353.95,68.54 354,68.71 354.05,68.47 354.1,69.68 354.15,68.82 354.2,69.12 354.25,67.48 354.3,66.43 354.35,66.75 354.4,67.12 354.45,64.25 354.5,69.17 354.55,66.61 354.6,68.3 354.65,68.65 354.7,67.05 354.75,67.92 354.8,68.57 354.85,66.72 354.9,65.24 354.95,68.33 355,66.49 355.05,68.31 355.1,67.44 355.15,67.6 355.2,66.61 355.25,67.38 355.3,67.66 355.35,69.55 355.4,66.01 355.45,68.35 355.5,67.09 355.55,65.77 355.6,65.78 355.65,66.56 355.7,67.91 355.75,67.03 355.8,67.87 355.85,66.5 355.9,70.18 355.95,66.28 356,68.14 356.05,64.3 356.1,66 356.15,66.03 356.2,67.79 356.25,66.74 356.3,68.95 356.35,70.85 356.4,68.31 356.45,63.04 356.5,68.05 356.55,65.71 356.6,67.09 356.65,67.68 356.7,66.93 356.75,68.12 356.8,66.41 356.85,69.46 356.9,65.99 356.95,66.95 357,67.88 357.05,69.56 357.1,68.93 357.15,66.2 357.2,69.9 357.25,66.83 357.3,63.88 357.35,68.99 357.4,70.96 357.45,69.07 357.5,66.85 357.55,66.96 357.6,67.23 357.65,66.36 357.7,67.76 357.75,66.88 357.8,67.55 357.85,70.02 357.9,68.12 357.95,67.77 358,68.23 358.05,69.04 358.1,68.02 358.15,68.56 358.2,67.3 358.25,68.6 358.3,68.58 358.35,66.58 358.4,67.33 358.45,68.45 358.5,63.73 358.55,69.13 358.6,69.74 358.65,67.32 358.7,68.28 358.75,68.81 358.8,67.52 358.85,67.81 358.9,69.19 358.95,67.69 359,65.83 359.05,64.92 359.1,68.24 359.15,67.13 359.2,66.52 359.25,68.8 359.3,67.79 359.35,68.27 359.4,70.02 359.45,67.43 359.5,69.49 359.55,67.65 359.6,68.72 359.65,68.35 359.7,67.57 359.75,67.47 359.8,68.88 359.85,67.72 359.9,66.97 359.95,68.86 360,69.89 360.05,68.51 360.1,67.92 360.15,67.92 360.2,67.76 360.25,68.26 360.3,69.42 360.35,64.14 360.4,67.26 360.45,71.55 360.5,66.88 360.55,65.76 360.6,70.41 360.65,65.95 360.7,72.18 360.75,67.54 360.8,67.8 360.85,69.03 360.9,66.21 360.95,70.35 361,67.58 361.05,69.07 361.1,67.86 361.15,67.82 361.2,70.37 361.25,66.05 361.3,69.75 361.35,69.91 361.4,65.34 361.45,67.5 361.5,69.02 361.55,69.35 361.6,67.83 361.65,66.41 361.7,69.52 361.75,67.03 361.8,69.2 361.85,67.53 361.9,70.57 361.95,66.29 362,67.77 362.05,68.57 362.1,68.16 362.15,69.41 362.2,67.35 362.25,68.85 362.3,66.66 362.35,66.39 362.4,63.34 362.45,67.04 362.5,67.24 362.55,68.34 362.6,66.16 362.65,69.16 362.7,66.61 362.75,69.53 362.8,67.4 362.85,67.46 362.9,68.56 362.95,65.53 363,66.34 363.05,67.8 363.1,70.8 363.15,67.37 363.2,68.28 363.25,66.52 363.3,67.73 363.35,67.77 363.4,67.79 363.45,66.27 363.5,67.98 363.55,69.68 363.6,67.44 363.65,66.98 363.7,69.73 363.75,68.19 363.8,67.98 363.85,65.89 363.9,68.4 363.95,68.16 364,66.54 364.05,63.69 364.1,68.31 364.15,66.67 364.2,67.96 364.25,66.91 364.3,68.8 364.35,67.33 364.4,69.63 364.45,69.96 364.5,68.18 364.55,68.35 364.6,67.95 364.65,66.57 364.7,67.62 364.75,68.05 364.8,68.53 364.85,67.99 364.9,67.11 364.95,64.83 365,72.96 365.05,69.89 365.1,66.29 365.15,66 365.2,70.29 365.25,69.36 365.3,67.47 365.35,67.78 365.4,66.83 365.45,67.48 365.5,67.41 365.55,69.23 365.6,66.77 365.65,66.56 365.7,69.47 365.75,67.13 365.8,70.87 365.85,69.93 365.9,67.02 365.95,68.72 366,69.47 366.05,69.36 366.1,66.5 366.15,67.65 366.2,71.79 366.25,69.27 366.3,70.56 366.35,69.15 366.4,66.85 366.45,66.13 366.5,66.69 366.55,65.22 366.6,68.99 366.65,66.61 366.7,66.63 366.75,68.82 366.8,68.19 366.85,67.77 366.9,68.19 366.95,70.08 367,67.45 367.05,68.94 367.1,68.73 367.15,67.29 367.2,69.89 367.25,66.22 367.3,69.62 367.35,64.52 367.4,67.4 367.45,67.03 367.5,68.98 367.55,67.13 367.6,67.5 367.65,65.72 367.7,65.91 367.75,71.36 367.8,68.69 367.85,69.13 367.9,64.85 367.95,65.99 368,62.69 368.05,67.89 368.1,70.52 368.15,67.97 368.2,67.13 368.25,61.46 368.3,70.7 368.35,64.77 368.4,64.44 368.45,66.31 368.5,65.01 368.55,68.34 368.6,69.16 368.65,65.93 368.7,67.37 368.75,67.49 368.8,66.88 368.85,66.84 368.9,67.99 368.95,64.38 369,70.28 369.05,67.73 369.1,68.65 369.15,66.77 369.2,68.23 369.25,66.73 369.3,66.61 369.35,69.91 369.4,70.72 369.45,69.44 369.5,66.33 369.55,68.62 369.6,69.84 369.65,68.97 369.7,67.84 369.75,66.15 369.8,65.6 369.85,68.73 369.9,65.14 369.95,68.39 370,67.86 370.05,66.92 370.1,69.25 370.15,64.87 370.2,64.69 370.25,65.08 370.3,69.72 370.35,68.68 370.4,66.32 370.45,68.37 370.5,67.3 370.55,65.96 370.6,67.18 370.65,68.29 370.7,67.57 370.75,70.63 370.8,69.48 370.85,65.54 370.9,73.35 370.95,66.55 371,66.56 371.05,68.14 371.1,68.58 371.15,67.63 371.2,67.69 371.25,64.87 371.3,66.46 371.35,67.97 371.4,73.42 371.45,67.42 371.5,67.57 371.55,67.24 371.6,69.81 371.65,63.43 371.7,69.3 371.75,65.48 371.8,70.2 371.85,67.7 371.9,69.98 371.95,71 372,68.76 372.05,67.6 372.1,70.51 372.15,66.47 372.2,71.36 372.25,67.13 372.3,66.9 372.35,63.19 372.4,69.19 372.45,68.79 372.5,66.54 372.55,66.75 372.6,66.81 372.65,68.06 372.7,67.67 372.75,67.17 372.8,67.85 372.85,69.01 372.9,68.83 372.95,65.96 373,66.23 373.05,66.37 373.1,67.17 373.15,67.72 373.2,65.88 373.25,67.24 373.3,68.2 373.35,69.23 373.4,66.93 373.45,68.47 373.5,68.52 373.55,67.47 373.6,66.81 373.65,67.35 373.7,67.91 373.75,68.9 373.8,68.2 373.85,67.7 373.9,72.11 373.95,69.55 374,66.64 374.05,69.47 374.1,66.76 374.15,68.58 374.2,68.91 374.25,65.24 374.3,69.08 374.35,65.83 374.4,62.5 374.45,68.09 374.5,68.34 374.55,67.03 374.6,65.69 374.65,69.41 374.7,71.4 374.75,70.1 374.8,67.66 374.85,65.9 374.9,67.29 374.95,68.45 375,71.71 375.05,68.61 375.1,65.63 375.15,65.39 375.2,68.11 375.25,70.07 375.3,65.59 375.35,64.9 375.4,68.15 375.45,68.86 375.5,66.99 375.55,66.36 375.6,68.84 375.65,66.67 375.7,68.01 375.75,67.88 375.8,68.73 375.85,67.57 375.9,69.35 375.95,69.23 376,69.61 376.05,66.6 376.1,67.21 376.15,66.22 376.2,70.67 376.25,66.71 376.3,69.03 376.35,63.5 376.4,68.48 376.45,66.1 376.5,67.09 376.55,69.18 376.6,67.89 376.65,66.91 376.7,70.45 376.75,66.77 376.8,69.11 376.85,67.73 376.9,67.71 376.95,67.52 377,68.27 377.05,68.46 377.1,66.9 377.15,70.16 377.2,67.37 377.25,63.94 377.3,67.42 377.35,64.99 377.4,64.46 377.45,70.81 377.5,67.57 377.55,65.74 377.6,66.64 377.65,62.82 377.7,65.17 377.75,66.27 377.8,68.49 377.85,65.57 377.9,67.56 377.95,67.33 378,66.36 378.05,69.7 378.1,66.52 378.15,71.93 378.2,70.54 378.25,72.49 378.3,67.64 378.35,67.77 378.4,65.9 378.45,68.4 378.5,68.18 378.55,68.82 378.6,67.94 378.65,68.26 378.7,67.85 378.75,67.56 378.8,69.76 378.85,68.03 378.9,67.68 378.95,70.58 379,67.53 379.05,68.77 379.1,68.61 379.15,66.95 379.2,66.78 379.25,66.18 379.3,67.96 379.35,64.88 379.4,67.8 379.45,67.76 379.5,69.17 379.55,70.49 379.6,66.64 379.65,69.4 379.7,68.17 379.75,67.54 379.8,66.83 379.85,71.74 379.9,70.46 379.95,66.37 380,67.84 380.05,67.79 380.1,68.82 380.15,70.08 380.2,68.12 380.25,67.4 380.3,70.16 380.35,67.52 380.4,69.63 380.45,69.56 380.5,66.72 380.55,68.09 380.6,69.85 380.65,68.7 380.7,68.6 380.75,68.89 380.8,68.26 380.85,67.54 380.9,68.8 380.95,72.75 381,67.18 381.05,67.15 381.1,69.69 381.15,71.4 381.2,67.43 381.25,67.87 381.3,69.54 381.35,68.26 381.4,67.45 381.45,67.57 381.5,66.98 381.55,66.2 381.6,65.55 381.65,66.54 381.7,68.09 381.75,67.41 381.8,69.23 381.85,70.69 381.9,66.98 381.95,68.25 382,70.75 382.05,66.3 382.1,67.94 382.15,67.42 382.2,68.44 382.25,69.61 382.3,68.42 382.35,66.57 382.4,68.97 382.45,66.21 382.5,70.55 382.55,68.34 382.6,68.95 382.65,68.23 382.7,71.33 382.75,69.46 382.8,66.82 382.85,68.01 382.9,69.2 382.95,65.96 383,64.75 383.05,65.45 383.1,65.99 383.15,71 383.2,66.03 383.25,67.14 383.3,68.07 383.35,67.42 383.4,65.02 383.45,67.05 383.5,68.25 383.55,67.5 383.6,67.38 383.65,67.92 383.7,66.87 383.75,68.95 383.8,69.57 383.85,70.75 383.9,64.55 383.95,68.74 384,68.8 384.05,68.33 384.1,68.42 384.15,66.53 384.2,70.51 384.25,67.92 384.3,68.11 384.35,69.21 384.4,69.97 384.45,65.61 384.5,70.65 384.55,68.59 384.6,68.74 384.65,68.17 384.7,66.37 384.75,66.43 384.8,68.64 384.85,68.65 384.9,67.25 384.95,68.73 385,68.12 385.05,67.94 385.1,68.03 385.15,69.14 385.2,70.82 385.25,70.39 385.3,65.77 385.35,68.31 385.4,67.71 385.45,68.49 385.5,70.92 385.55,68.67 385.6,67.75 385.65,68.3 385.7,66.27 385.75,66.89 385.8,69.77 385.85,69.26 385.9,70.65 385.95,64.4 386,68.8 386.05,69.16 386.1,68.39 386.15,68.16 386.2,69.28 386.25,71.17 386.3,67.23 386.35,70.5 386.4,67 386.45,68.97 386.5,68.61 386.55,68.21 386.6,68.34 386.65,66.72 386.7,69.09 386.75,66.61 386.8,67.52 386.85,68.79 386.9,67.42 386.95,64.49 387,68.29 387.05,69.94 387.1,67.68 387.15,68.9 387.2,68.44 387.25,65.79 387.3,67.67 387.35,69.47 387.4,66.12 387.45,63.85 387.5,66.13 387.55,67.79 387.6,69.48 387.65,69.93 387.7,67.95 387.75,67.62 387.8,64.58 387.85,66.4 387.9,67.17 387.95,68.72 388,66.7 388.05,67.14 388.1,68.14 388.15,68.79 388.2,69.6 388.25,65 388.3,66.31 388.35,67.94 388.4,70.34 388.45,66.83 388.5,67.88 388.55,67.94 388.6,66.52 388.65,67.06 388.7,68.87 388.75,66.26 388.8,69.25 388.85,70.25 388.9,66.64 388.95,67.01 389,65.85 389.05,67.44 389.1,70.8 389.15,69.06 389.2,67.73 389.25,67.04 389.3,64.81 389.35,69.3 389.4,67.47 389.45,65.46 389.5,69.18 389.55,69.51 389.6,62.83 389.65,68.97 389.7,66.82 389.75,65.62 389.8,67.45 389.85,68.73 389.9,72.23 389.95,66.4 390,69.1 390.05,68.03 390.1,67.68 390.15,69.81 390.2,65.67 390.25,67.75 390.3,69.27 390.35,68.05 390.4,69.25 390.45,68.01 390.5,69.36 390.55,67.54 390.6,68.41 390.65,66.63 390.7,67.87 390.75,69.53 390.8,65.3 390.85,66.64 390.9,66.7 390.95,66.73 391,66.17 391.05,70.26 391.1,65.53 391.15,66.71 391.2,69.6 391.25,67.83 391.3,70.17 391.35,71.49 391.4,67.01 391.45,67.84 391.5,66.9 391.55,67.12 391.6,67.74 391.65,65.97 391.7,72.74 391.75,69.05 391.8,67.06 391.85,68.89 391.9,68.95 391.95,62.74 392,66.51 392.05,67.06 392.1,66.73 392.15,65.84 392.2,68.19 392.25,67.05 392.3,68.49 392.35,67.03 392.4,68.76 392.45,67.52 392.5,67.46 392.55,69.74 392.6,72.06 392.65,64.65 392.7,67.23 392.75,72.39 392.8,69.01 392.85,69.31 392.9,69.83 392.95,68.68 393,69.38 393.05,67.98 393.1,66.82 393.15,67.77 393.2,68.85 393.25,67.67 393.3,69.89 393.35,69.47 393.4,72.7 393.45,71.12 393.5,67.55 393.55,69.67 393.6,69.16 393.65,69.51 393.7,69.89 393.75,67.72 393.8,70.57 393.85,72.62 393.9,69.12 393.95,73.37 394,70.3 394.05,66.23 394.1,71.92 394.15,70.79 394.2,70.86 394.25,74.41 394.3,71.97 394.35,70.38 394.4,72.68 394.45,69.76 394.5,71.72 394.55,73 394.6,67.43 394.65,70.31 394.7,69.7 394.75,72.19 394.8,68.22 394.85,71.4 394.9,67.62 394.95,73.39 395,69.86 395.05,68.89 395.1,67.9 395.15,70.69 395.2,70.51 395.25,70.08 395.3,73.89 395.35,70.54 395.4,67.41 395.45,74.7 395.5,72.29 395.55,71.82 395.6,70.69 395.65,71.09 395.7,71.22 395.75,68.92 395.8,73.12 395.85,66.97 395.9,69.35 395.95,72.02 396,70.65 396.05,70.12 396.1,73.06 396.15,68.27 396.2,70.78 396.25,70.6 396.3,70.27 396.35,68.81 396.4,72.93 396.45,72.86 396.5,68.51 396.55,70.57 396.6,68.52 396.65,71.23 396.7,70.8 396.75,73.28 396.8,70.09 396.85,69.6 396.9,72.26 396.95,70.61 397,68.73 397.05,71.57 397.1,68.45 397.15,72.79 397.2,73.45 397.25,69.39 397.3,71.15 397.35,72.58 397.4,71.91 397.45,74.29 397.5,69.38 397.55,72.17 397.6,70.07 397.65,68.22 397.7,70.21 397.75,72.28 397.8,69.32 397.85,68.91 397.9,71.95 397.95,76.76 398,68.96 398.05,68.03 398.1,71.22 398.15,71.49 398.2,69.52 398.25,71.21 398.3,69.51 398.35,69.84 398.4,71.01 398.45,70.18 398.5,74.08 398.55,69.91 398.6,71.94 398.65,70.95 398.7,74.4 398.75,71.46 398.8,70.85 398.85,67.86 398.9,69.11 398.95,69.93 399,72.13 399.05,71.93 399.1,71.53 399.15,67.73 399.2,67.88 399.25,72.49 399.3,71.71 399.35,70.38 399.4,69.4 399.45,68.73 399.5,70.38 399.55,69.54 399.6,71.35 399.65,75.94 399.7,72.32 399.75,70.01 399.8,68.42 399.85,70.07 399.9,70.14 399.95,69.83 400,71.44 400.05,69.07 400.1,70.82 400.15,71.49 400.2,71.64 400.25,74.06 400.3,71.19 400.35,67.38 400.4,68.79 400.45,71.53 400.5,71.56 400.55,67.67 400.6,69.94 400.65,71.46 400.7,71.07 400.75,68.69 400.8,70.41 400.85,70.11 400.9,71.14 400.95,68.81 401,71.5 401.05,71.33 401.1,70.15 401.15,69.48 401.2,71.3 401.25,73.11 401.3,69.23 401.35,69.78 401.4,71.37 401.45,68.65 401.5,70.87 401.55,70.78 401.6,66.79 401.65,71.32 401.7,70.97 401.75,72.77 401.8,69.39 401.85,65.99 401.9,70.24 401.95,71 402,70.36 402.05,69.1 402.1,70.12 402.15,69.72 402.2,70.62 402.25,72.42 402.3,72.4 402.35,75.17 402.4,72.29 402.45,72.11 402.5,69.95 402.55,71.15 402.6,69.64 402.65,72.45 402.7,67.01 402.75,70.96 402.8,71.74 402.85,70.01 402.9,69.7 402.95,67.66 403,70.08 403.05,66.92 403.1,71.05 403.15,71.94 403.2,67.71 403.25,71.69 403.3,70.4 403.35,70.3 403.4,70.31 403.45,71.51 403.5,69.1 403.55,68.43 403.6,71.27 403.65,72.09 403.7,69.52 403.75,71.85 403.8,72.49 403.85,68.12 403.9,69.54 403.95,70.76 404,70.85 404.05,70.18 404.1,71.12 404.15,72.34 404.2,69.57 404.25,67.85 404.3,69.56 404.35,68.27 404.4,68.17 404.45,70.83 404.5,70.74 404.55,71.08 404.6,65.74 404.65,70.38 404.7,69.94 404.75,70.58 404.8,72.22 404.85,69.5 404.9,71.53 404.95,70.53 405,70.39 405.05,70.59 405.1,69.13 405.15,67.98 405.2,71.72 405.25,71.23 405.3,70.51 405.35,72.17 405.4,69.92 405.45,69.27 405.5,70.6 405.55,71.13 405.6,70.62 405.65,67.32 405.7,71.81 405.75,73.08 405.8,70.04 405.85,74.07 405.9,71.83 405.95,67.71 406,69.76 406.05,69.57 406.1,70.17 406.15,68.83 406.2,72.06 406.25,67.19 406.3,69.46 406.35,71.11 406.4,71.74 406.45,69.95 406.5,68.89 406.55,71.01 406.6,70.8 406.65,72.24 406.7,65.9 406.75,69.53 406.8,70.76 406.85,66.28 406.9,67.99 406.95,69.26 407,71.18 407.05,70.96 407.1,70.04 407.15,70.41 407.2,71.59 407.25,69.22 407.3,70.46 407.35,68.8 407.4,72.55 407.45,69.62 407.5,70.14 407.55,71.86 407.6,71.18 407.65,67.36 407.7,68.8 407.75,64.97 407.8,71.1 407.85,72.81 407.9,72.66 407.95,71.43 408,68.77 408.05,69.44 408.1,74.4 408.15,68.97 408.2,70.99 408.25,71.57 408.3,69.82 408.35,75.2 408.4,70.94 408.45,70.23 408.5,71.37 408.55,69.46 408.6,71.85 408.65,72.14 408.7,73.81 408.75,70.49 408.8,69.16 408.85,70.13 408.9,72.5 408.95,70.75 409,71.98 409.05,71.07 409.1,70.3 409.15,70.83 409.2,72.31 409.25,70.13 409.3,72.06 409.35,73.78 409.4,68.48 409.45,70.61 409.5,73.1 409.55,70.95 409.6,71.07 409.65,71.65 409.7,67.56 409.75,70.51 409.8,67.41 409.85,71.48 409.9,70.64 409.95,74.76 410,67.96 410.05,68.63 410.1,70.92 410.15,69.73 410.2,66.12 410.25,72.07 410.3,71.21 410.35,69.87 410.4,71.46 410.45,68.93 410.5,70.31 410.55,69.51 410.6,69.17 410.65,69.71 410.7,72.26 410.75,71.55 410.8,71.04 410.85,68.96 410.9,70.71 410.95,68.53 411,71.2 411.05,68.24 411.1,70.37 411.15,70.22 411.2,70.77 411.25,70.79 411.3,70.31 411.35,70.93 411.4,72.67 411.45,71.71 411.5,67.31 411.55,68.77 411.6,70.51 411.65,68.23 411.7,73.23 411.75,67.79 411.8,71.77 411.85,69.16 411.9,67.94 411.95,72.23 412,65.81 412.05,74.99 412.1,71.17 412.15,70.14 412.2,67.4 412.25,71.17 412.3,69.64 412.35,68.42 412.4,70.77 412.45,71.39 412.5,73.91 412.55,69.97 412.6,71.6 412.65,68.98 412.7,71.53 412.75,72.32 412.8,68.08 412.85,70.4 412.9,69.84 412.95,68.39 413,70.28 413.05,69.24 413.1,72.59 413.15,68.05 413.2,73.2 413.25,71.14 413.3,71.34 413.35,70.89 413.4,69.68 413.45,71.08 413.5,70.57 413.55,67.58 413.6,71.02 413.65,69.15 413.7,70.86 413.75,72.61 413.8,73.86 413.85,72.47 413.9,71.37 413.95,67.51 414,71.51 414.05,69.53 414.1,69.09 414.15,68.85 414.2,70.71 414.25,72.73 414.3,71.26 414.35,71.41 414.4,72.07 414.45,71.96 414.5,71.36 414.55,70 414.6,72.43 414.65,72.22 414.7,70.11 414.75,70.26 414.8,71.21 414.85,71.63 414.9,69.01 414.95,69.5 415,71.37 415.05,70.16 415.1,70.15 415.15,71.45 415.2,69.03 415.25,68.67 415.3,70.59 415.35,71.99 415.4,70.4 415.45,74.8 415.5,69.68 415.55,69.43 415.6,69.38 415.65,71.04 415.7,71.38 415.75,68.08 415.8,75.78 415.85,68.4 415.9,72.92 415.95,69.49 416,71.5 416.05,70.42 416.1,69.79 416.15,70.85 416.2,71.72 416.25,68.51 416.3,72.65 416.35,72.02 416.4,70.75 416.45,71.56 416.5,69.03 416.55,67.64 416.6,71.48 416.65,72.04 416.7,68.73 416.75,72.1 416.8,73.89 416.85,71.21 416.9,67.69 416.95,73.32 417,68.41 417.05,72.72 417.1,69.95 417.15,69.87 417.2,71.27 417.25,70.37 417.3,70.26 417.35,74.41 417.4,70.59 417.45,70.61 417.5,69.17 417.55,73.04 417.6,70.64 417.65,69.81 417.7,67.83 417.75,71.26 417.8,74.5 417.85,70.27 417.9,69.05 417.95,71.33 418,73 418.05,69.5 418.1,74.39 418.15,70.14 418.2,71.14 418.25,69.62 418.3,66.48 418.35,72.46 418.4,68.88 418.45,68.94 418.5,72.02 418.55,71.16 418.6,72.24 418.65,72.45 418.7,67.74 418.75,72.68 418.8,68.02 418.85,67.35 418.9,70.86 418.95,71.14 419,71.2 419.05,72.87 419.1,68.36 419.15,68.51 419.2,70.13 419.25,69.92 419.3,69.07 419.35,73.44 419.4,69.48 419.45,69.83 419.5,72.28 419.55,70.22 419.6,68.89 419.65,69.89 419.7,73.37 419.75,71.16 419.8,68.93 419.85,72.82 419.9,72.44 419.95,69.49 420,72.08 420.05,70.13 420.1,73.57 420.15,67.34 420.2,72.22 420.25,69.46 420.3,68.13 420.35,70.85 420.4,70.65 420.45,68.42 420.5,70.79 420.55,69.1 420.6,69 420.65,70.44 420.7,69.28 420.75,68.68 420.8,70.66 420.85,69.33 420.9,73.35 420.95,72.49 421,74.23 421.05,70.35 421.1,70.44 421.15,70.01 421.2,69.14 421.25,70.71 421.3,70.52 421.35,65.72 421.4,72.64 421.45,71.26 421.5,70.81 421.55,69.33 421.6,72.36 421.65,71.22 421.7,68.63 421.75,71.06 421.8,70.44 421.85,71.31 421.9,71.66 421.95,70.85 422,70.17 422.05,68.88 422.1,70.99 422.15,71.64 422.2,71.93 422.25,71.37 422.3,68.31 422.35,72.77 422.4,66.89 422.45,70.51 422.5,70.69 422.55,72.45 422.6,69 422.65,71.46 422.7,71.26 422.75,71.98 422.8,69.21 422.85,72.98 422.9,70.08 422.95,70.43 423,69.36 423.05,72.36 423.1,68.64 423.15,71.21 423.2,67.44 423.25,71.21 423.3,70.96 423.35,69.89 423.4,71.39 423.45,72.54 423.5,72 423.55,70.74 423.6,71.4 423.65,70.49 423.7,70.56 423.75,72.41 423.8,71.39 423.85,71.93 423.9,72.24 423.95,72.36 424,70.67 424.05,71.83 424.1,71.01 424.15,71.28 424.2,70.39 424.25,70.3 424.3,71.11 424.35,69.57 424.4,69.25 424.45,71.19 424.5,70.58 424.55,71.2 424.6,71.43 424.65,71.56 424.7,69.99 424.75,70.71 424.8,67.79 424.85,69.9 424.9,70.79 424.95,70.96 425,70.05 425.05,70.03 425.1,70.03 425.15,68.76 425.2,72.2 425.25,71.19 425.3,69.82 425.35,72.54 425.4,73.4 425.45,67.38 425.5,71.55 425.55,71.31 425.6,70.99 425.65,71.18 425.7,69.49 425.75,71.47 425.8,68.28 425.85,71.98 425.9,68.82 425.95,72.06 426,69.25 426.05,71.71 426.1,68.29 426.15,72.25 426.2,71.84 426.25,69.95 426.3,69.39 426.35,67.99 426.4,71.22 426.45,71.25 426.5,71.01 426.55,70.9 426.6,72.15 426.65,70.95 426.7,69.8 426.75,68.11 426.8,70.77 426.85,70.89 426.9,67.43 426.95,68.42 427,71.05 427.05,75.82 427.1,69.74 427.15,69.79 427.2,70.24 427.25,71.16 427.3,72.87 427.35,72.07 427.4,69.95 427.45,70.28 427.5,68.95 427.55,72.93 427.6,72.97 427.65,72.61 427.7,69.37 427.75,67.83 427.8,70.09 427.85,69.71 427.9,69.8 427.95,72.11 428,71.05 428.05,71.77 428.1,72.95 428.15,67.88 428.2,74.37 428.25,70.77 428.3,69.29 428.35,72.24 428.4,65.86 428.45,71.34 428.5,70.82 428.55,70.47 428.6,70.18 428.65,70.85 428.7,71.44 428.75,66.3 428.8,71.51 428.85,70.49 428.9,68.57 428.95,72.79 429,71.67 429.05,71.68 429.1,71.3 429.15,70.32 429.2,69.73 429.25,71.14 429.3,68.37 429.35,70.64 429.4,68.39 429.45,71.62 429.5,67.33 429.55,74.61 429.6,70.6 429.65,71.52 429.7,68.41 429.75,69.6 429.8,69.43 429.85,64.88 429.9,71.44 429.95,73.87 430,69.71 430.05,69.64 430.1,68.08 430.15,71.27 430.2,71.2 430.25,69.08 430.3,70.05 430.35,70.31 430.4,70 430.45,65.66 430.5,70.84 430.55,68.64 430.6,70.97 430.65,69.15 430.7,69.5 430.75,69.86 430.8,71.09 430.85,71.14 430.9,70.34 430.95,70.53 431,69.36 431.05,68.83 431.1,69.48 431.15,70.34 431.2,71.17 431.25,71.04 431.3,70.5 431.35,73.31 431.4,68.47 431.45,69.12 431.5,71.99 431.55,66.03 431.6,71.18 431.65,71.34 431.7,69.64 431.75,66.03 431.8,72.15 431.85,70.58 431.9,71.01 431.95,73.91 432,69.06 432.05,70.46 432.1,69.18 432.15,70.67 432.2,70.8 432.25,70.94 432.3,70.67 432.35,68.01 432.4,71.81 432.45,70.06 432.5,71.77 432.55,67.82 432.6,69.46 432.65,72.9 432.7,71.47 432.75,68.6 432.8,69.47 432.85,71.15 432.9,70.14 432.95,66.42 433,69.96 433.05,71.1 433.1,70.67 433.15,69.05 433.2,71.48 433.25,71.83 433.3,72.61 433.35,70.46 433.4,70.75 433.45,72.61 433.5,69.14 433.55,68.97 433.6,70.16 433.65,70.53 433.7,71.22 433.75,71.43 433.8,70.35 433.85,69.63 433.9,70.93 433.95,71.25 434,69.03 434.05,72.64 434.1,69.13 434.15,72.58 434.2,71.54 434.25,73.66 434.3,69.81 434.35,71.02 434.4,73.42 434.45,70.8 434.5,68.82 434.55,72.6 434.6,69.45 434.65,67.23 434.7,68.54 434.75,70.34 434.8,69.27 434.85,71.65 434.9,68.86 434.95,70.25 435,70.24 435.05,71.26 435.1,72.83 435.15,71.34 435.2,73.19 435.25,71.79 435.3,73.13 435.35,72.35 435.4,66.97 435.45,69.66 435.5,70.65 435.55,71.65 435.6,70.25 435.65,72.39 435.7,65.64 435.75,69 435.8,69.79 435.85,69.64 435.9,69.81 435.95,69.62 436,71.07 436.05,70.99 436.1,70.37 436.15,70.08 436.2,70.86 436.25,73.51 436.3,69.87 436.35,75.56 436.4,69.49 436.45,71.08 436.5,71.73 436.55,70.95 436.6,70.63 436.65,71.12 436.7,72.05 436.75,70.77 436.8,71.96 436.85,70.05 436.9,67.96 436.95,71.17 437,70.07 437.05,69.08 437.1,67.58 437.15,71.17 437.2,73.38 437.25,69.34 437.3,68.23 437.35,69.47 437.4,69.51 437.45,68.62 437.5,68.01 437.55,71.52 437.6,68.39 437.65,71.59 437.7,69.57 437.75,72.84 437.8,67.88 437.85,71.38 437.9,69.82 437.95,66.44 438,70.11 438.05,70.13 438.1,71.43 438.15,72.09 438.2,70.43 438.25,70.25 438.3,72.55 438.35,72.13 438.4,69.68 438.45,70.32 438.5,69.93 438.55,68.75 438.6,72.52 438.65,71.43 438.7,70.25 438.75,70.88 438.8,68.17 438.85,71.38 438.9,71.15 438.95,69.18 439,69.8 439.05,71.59 439.1,71.22 439.15,69.97 439.2,69.6 439.25,69.1 439.3,73.63 439.35,69.43 439.4,72.1 439.45,69.22 439.5,69.45 439.55,70.59 439.6,72.19 439.65,71.49 439.7,69.84 439.75,71.33 439.8,68.27 439.85,69.82 439.9,69.58 439.95,72.88 440,71.64 440.05,71.48 440.1,69.28 440.15,69.74 440.2,70.78 440.25,70.59 440.3,72.99 440.35,71.98 440.4,71.2 440.45,69.6 440.5,70.68 440.55,70.52 440.6,70.59 440.65,70.77 440.7,70.93 440.75,70.02 440.8,73.17 440.85,68.31 440.9,71.62 440.95,69.44 441,71.51 441.05,68.81 441.1,69.56 441.15,66.16 441.2,71.79 441.25,72.44 441.3,71.42 441.35,70.71 441.4,71.67 441.45,69.16 441.5,67.63 441.55,71.75 441.6,72.18 441.65,70.58 441.7,71.88 441.75,70.72 441.8,71.62 441.85,71.08 441.9,70.36 441.95,70.97 442,66.69 442.05,69.58 442.1,72.12 442.15,69.69 442.2,74.7 442.25,70.62 442.3,77.61 442.35,73.81 442.4,74.46 442.45,79.05 442.5,74.59 442.55,80.27 442.6,72.51 442.65,78.25 442.7,80.11 442.75,79.01 442.8,83.76 442.85,82.5 442.9,82.31 442.95,82.12 443,83.48 443.05,85.08 443.1,85.73 443.15,87.83 443.2,85.13 443.25,82.18 443.3,85.53 443.35,83.35 443.4,82.98 443.45,83.89 443.5,82.69 443.55,85.72 443.6,82.22 443.65,85.46 443.7,82.64 443.75,88.94 443.8,82.81 443.85,84.67 443.9,85.58 443.95,88.87 444,83.23 444.05,85.37 444.1,83.56 444.15,84.33 444.2,83.53 444.25,86.73 444.3,85.51 444.35,83.26 444.4,86.37 444.45,84.9 444.5,84.95 444.55,88.61 444.6,83.15 444.65,80.16 444.7,83.49 444.75,82.27 444.8,82.13 444.85,81.94 444.9,80.96 444.95,78.11 445,77.44 445.05,77.13 445.1,76.08 445.15,75.38 445.2,74.36 445.25,69.55 445.3,71.7 445.35,68.65 445.4,72 445.45,67.99 445.5,69.31 445.55,71.92 445.6,71.44 445.65,68.82 445.7,67.94 445.75,70.59 445.8,72.13 445.85,71.7 445.9,69.78 445.95,71 446,72.11 446.05,69.68 446.1,70.42 446.15,69.97 446.2,69.04 446.25,68.92 446.3,69.38 446.35,70.03 446.4,74.43 446.45,71.29 446.5,67.44 446.55,71.57 446.6,67.9 446.65,69.54 446.7,67.99 446.75,70.89 446.8,68.51 446.85,68.96 446.9,70.17 446.95,69.51 447,70.58 447.05,68.6 447.1,74.64 447.15,74.74 447.2,69.44 447.25,68.04 447.3,66.64 447.35,72.27 447.4,71.73 447.45,71.77 447.5,68.5 447.55,71.06 447.6,71.68 447.65,70.08 447.7,70.41 447.75,71.71 447.8,71.71 447.85,67.99 447.9,71.98 447.95,69.64 448,71 448.05,68.38 448.1,71.05 448.15,72.41 448.2,70.44 448.25,72.34 448.3,70.15 448.35,71.66 448.4,71.65 448.45,71.64 448.5,71.4 448.55,73.56 448.6,71.21 448.65,76.17 448.7,71.19 448.75,70.81 448.8,74.96 448.85,69.8 448.9,70.5 448.95,69.58 449,70.96 449.05,72.47 449.1,71.98 449.15,71.75 449.2,69.31 449.25,70.96 449.3,68.61 449.35,71.72 449.4,69.42 449.45,72.31 449.5,69.79 449.55,72.17 449.6,70.88 449.65,70.97 449.7,66.31 449.75,73.26 449.8,69.68 449.85,70.26 449.9,74.43 449.95,71.44 450,71.26 450.05,71.22 450.1,70.58 450.15,70.21 450.2,70.08 450.25,67.62 450.3,68.24 450.35,67.09 450.4,71.16 450.45,71.69 450.5,71.63 450.55,74.51 450.6,69.32 450.65,70.51 450.7,73.65 450.75,69.01 450.8,72.03 450.85,68.46 450.9,70.68 450.95,71.22 451,70.69 451.05,72.52 451.1,71.29 451.15,71.9 451.2,69.65 451.25,73.32 451.3,68.89 451.35,73.14 451.4,72.1 451.45,73.02 451.5,68.71 451.55,69.92 451.6,70.59 451.65,71.67 451.7,69.67 451.75,69.62 451.8,71.8 451.85,69.51 451.9,69.6 451.95,65.25 452,70.23 452.05,69.18 452.1,68.5 452.15,69.36 452.2,71.42 452.25,70.49 452.3,68.19 452.35,71.74 452.4,69.95 452.45,67.88 452.5,71.73 452.55,68.81 452.6,72.77 452.65,71.58 452.7,69.91 452.75,71.64 452.8,70.06 452.85,69.49 452.9,71.72 452.95,75.26 453,72.44 453.05,70.29 453.1,72.78 453.15,75.52 453.2,69.81 453.25,69.28 453.3,68.14 453.35,72.8 453.4,71.39 453.45,70.33 453.5,68.14 453.55,70.31 453.6,68.57 453.65,70.37 453.7,68 453.75,70.83 453.8,71.1 453.85,69.35 453.9,69.02 453.95,70.87 454,71.35 454.05,67.29 454.1,70.13 454.15,71.19 454.2,65.85 454.25,67.42 454.3,73.34 454.35,65.85 454.4,68.66 454.45,69.36 454.5,68.02 454.55,70.5 454.6,65.14 454.65,71.53 454.7,68.98 454.75,72.2 454.8,69.51 454.85,72.8 454.9,73.57 454.95,70.74 455,70.65 455.05,72.14 455.1,72.09 455.15,71.18 455.2,72.41 455.25,69.41 455.3,70.38 455.35,72.19 455.4,67.2 455.45,70.24 455.5,70.97 455.55,69.57 455.6,66.65 455.65,72.36 455.7,68.4 455.75,73.86 455.8,70.91 455.85,72.43 455.9,73 455.95,68.72 456,71.7 456.05,69.92 456.1,70.21 456.15,72.15 456.2,69.07 456.25,71.1 456.3,67.45 456.35,70.8 456.4,69.7 456.45,71.71 456.5,69.58 456.55,70.16 456.6,68.8 456.65,72.51 456.7,70.54 456.75,73.69 456.8,70.78 456.85,70.46 456.9,67.74 456.95,70.48 457,71.55 457.05,70.76 457.1,69.82 457.15,70.74 457.2,68.11 457.25,70.19 457.3,70.31 457.35,70.81 457.4,71.29 457.45,68.96 457.5,70.75 457.55,71.28 457.6,70.13 457.65,69.46 457.7,67.22 457.75,71.43 457.8,71.76 457.85,70.39 457.9,68.95 457.95,70.07 458,71.55 458.05,71.08 458.1,70.71 458.15,71.12 458.2,70.46 458.25,71.51 458.3,69.9 458.35,72.29 458.4,69.55 458.45,74.61 458.5,69.71 458.55,69.78 458.6,70.58 458.65,70.11 458.7,74.29 458.75,73 458.8,73.58 458.85,69.74 458.9,72.24 458.95,70.36 459,71.25 459.05,71.71 459.1,70 459.15,72.26 459.2,68.98 459.25,68.93 459.3,71.65 459.35,71.18 459.4,72.27 459.45,70.68 459.5,70.6 459.55,70.24 459.6,73.78 459.65,68.08 459.7,68.54 459.75,72.62 459.8,74.51 459.85,68.98 459.9,71.41 459.95,70.46 460,68.89 460.05,73.49 460.1,71.48 460.15,69.96 460.2,70.9 460.25,74.96 460.3,70.43 460.35,70.95 460.4,70.41 460.45,73.87 460.5,71.55 460.55,70.47 460.6,71.13 460.65,72.65 460.7,69.1 460.75,69.55 460.8,71.51 460.85,70.5 460.9,70.93 460.95,72.8 461,67.54 461.05,70.79 461.1,68.78 461.15,69.61 461.2,74.31 461.25,72.38 461.3,71.43 461.35,70.72 461.4,68.29 461.45,72.27 461.5,69.45 461.55,71.44 461.6,69.64 461.65,69.97 461.7,71.95 461.75,68.79 461.8,67.39 461.85,73.25 461.9,71.42 461.95,73.25 462,68.6 462.05,71.76 462.1,69.77 462.15,68.28 462.2,71.49 462.25,72.92 462.3,71.17 462.35,68.97 462.4,69.06 462.45,67.59 462.5,69.57 462.55,70.34 462.6,71.94 462.65,70.23 462.7,68.78 462.75,68.49 462.8,71.4 462.85,70.71 462.9,70.87 462.95,69.92 463,68.41 463.05,69.81 463.1,71.16 463.15,70.22 463.2,68.95 463.25,68.05 463.3,71.42 463.35,70.26 463.4,71.65 463.45,71.81 463.5,69.96 463.55,71.87 463.6,73.37 463.65,68.69 463.7,70.64 463.75,71.21 463.8,70.11 463.85,68.28 463.9,70.15 463.95,72.55 464,70.53 464.05,70.97 464.1,70.15 464.15,68.1 464.2,68.77 464.25,72.33 464.3,71.09 464.35,69.37 464.4,70.96 464.45,70.97 464.5,69.98 464.55,72.78 464.6,71.76 464.65,69.39 464.7,70.96 464.75,74.33 464.8,72.28 464.85,69.56 464.9,69.69 464.95,69.97 465,73.5 465.05,71.76 465.1,69.12 465.15,69.04 465.2,71.43 465.25,70.84 465.3,71.07 465.35,71.78 465.4,66.93 465.45,69.74 465.5,71.47 465.55,69.85 465.6,70.48 465.65,69.6 465.7,68.18 465.75,70.21 465.8,69.3 465.85,72.79 465.9,68.02 465.95,69.66 466,71.2 466.05,71.27 466.1,73 466.15,74.22 466.2,71.14 466.25,70.66 466.3,72.29 466.35,72.5 466.4,71.69 466.45,71.19 466.5,68.87 466.55,71.85 466.6,69.73 466.65,72.85 466.7,68.94 466.75,71.56 466.8,70.55 466.85,73.97 466.9,68.64 466.95,71.49 467,70.32 467.05,70.81 467.1,70.89 467.15,68.33 467.2,69.94 467.25,71.03 467.3,72.12 467.35,69.62 467.4,71.25 467.45,71.18 467.5,71.85 467.55,71.46 467.6,72.97 467.65,69.44 467.7,70.15 467.75,70.92 467.8,70.16 467.85,68.38 467.9,71.35 467.95,69.98 468,70.01 468.05,70.4 468.1,69.04 468.15,72.06 468.2,70.27 468.25,72.66 468.3,69.47 468.35,70.54 468.4,67.19 468.45,70.13 468.5,68.21 468.55,71.83 468.6,70.51 468.65,68.42 468.7,71.03 468.75,68.29 468.8,70.84 468.85,70.41 468.9,71.53 468.95,71.52 469,69.85 469.05,71.49 469.1,69.94 469.15,70.64 469.2,70.83 469.25,72.7 469.3,72.86 469.35,71.34 469.4,71.02 469.45,69.46 469.5,74.76 469.55,71.24 469.6,69.89 469.65,72.44 469.7,74.92 469.75,71.36 469.8,71.85 469.85,72.37 469.9,68.63 469.95,68.06 470,69.23 470.05,66.07 470.1,70.78 470.15,69.54 470.2,70.93 470.25,69.79 470.3,71.24 470.35,69.6 470.4,69.08 470.45,66.74 470.5,73.05 470.55,69.36 470.6,74.07 470.65,70.69 470.7,72.42 470.75,69.56 470.8,70.08 470.85,71.4 470.9,68.92 470.95,71.74 471,70.95 471.05,71.47 471.1,72.24 471.15,74.21 471.2,73.22 471.25,67.36 471.3,69.57 471.35,70.2 471.4,68.35 471.45,72.71 471.5,67.68 471.55,70.03 471.6,68.17 471.65,68.26 471.7,73.6 471.75,70.98 471.8,68.53 471.85,70.21 471.9,69.66 471.95,71.02 472,74.12 472.05,69.07 472.1,71.39 472.15,71.35 472.2,71.46 472.25,70.27 472.3,69.28 472.35,70.44 472.4,72.11 472.45,70.37 472.5,67.58 472.55,70.91 472.6,69.94 472.65,69.83 472.7,68.02 472.75,68.15 472.8,70.39 472.85,70.57 472.9,75.52 472.95,69.48 473,67.08 473.05,70.75 473.1,72.22 473.15,70.66 473.2,70.09 473.25,68.9 473.3,67.92 473.35,69.04 473.4,68.89 473.45,70.77 473.5,70.97 473.55,69.78 473.6,69.33 473.65,72.71 473.7,71.8 473.75,68.21 473.8,68.85 473.85,70.59 473.9,69.58 473.95,70.67 474,71.43 474.05,69.81 474.1,71 474.15,73.39 474.2,68.09 474.25,72.54 474.3,68.7 474.35,69.39 474.4,72.27 474.45,70.57 474.5,71.85 474.55,70.06 474.6,72.15 474.65,70.57 474.7,69.09 474.75,74.02 474.8,70.31 474.85,68.75 474.9,73.47 474.95,70.23 475,72.62 475.05,71.46 475.1,70.99 475.15,71.52 475.2,69.09 475.25,69.74 475.3,71.82 475.35,69.97 475.4,68.67 475.45,69.47 475.5,70.62 475.55,68.04 475.6,69.23 475.65,69.14 475.7,68.5 475.75,67.66 475.8,70.64 475.85,69.83 475.9,71.7 475.95,72.86 476,69.86 476.05,71.51 476.1,71.93 476.15,67.19 476.2,70.29 476.25,72.68 476.3,70.51 476.35,70.94 476.4,72.12 476.45,72.52 476.5,70.57 476.55,69.62 476.6,75.25 476.65,71.28 476.7,70.11 476.75,73.93 476.8,69.11 476.85,71.03 476.9,68.79 476.95,68.27 477,71.61 477.05,69.51 477.1,70.99 477.15,71.44 477.2,73.19 477.25,70.85 477.3,71.86 477.35,69.04 477.4,69.79 477.45,72.15 477.5,71.97 477.55,74.15 477.6,70.54 477.65,70.59 477.7,73.19 477.75,70.6 477.8,72.49 477.85,70.51 477.9,69.42 477.95,69.58 478,70.28 478.05,68.57 478.1,72.09 478.15,70.29 478.2,69.05 478.25,70.44 478.3,69.63 478.35,73.62 478.4,72.5 478.45,70.09 478.5,69.93 478.55,71.84 478.6,69.46 478.65,72.45 478.7,67.88 478.75,71.01 478.8,69.38 478.85,72.98 478.9,70.14 478.95,73.28 479,71.02 479.05,70.87 479.1,70.84 479.15,71.72 479.2,69.87 479.25,72.2 479.3,69.35 479.35,67.8 479.4,69.25 479.45,69.27 479.5,72.95 479.55,68.48 479.6,71.98 479.65,71.16 479.7,71.88 479.75,71.47 479.8,76.35 479.85,73.06 479.9,71.45 479.95,73.7 480,70.83 480.05,71.87 480.1,70.18 480.15,68.39 480.2,72.98 480.25,70.93 480.3,71.48 480.35,71.11 480.4,70.9 480.45,71.91 480.5,70.84 480.55,70.7 480.6,72.69 480.65,69.36 480.7,70.97 480.75,70.19 480.8,70.76 480.85,71.48 480.9,69.02 480.95,70.27 481,71.88 481.05,70.74 481.1,66.33 481.15,69.8 481.2,68.96 481.25,71.38 481.3,71.98 481.35,71.15 481.4,71.31 481.45,70.72 481.5,71.66 481.55,71.47 481.6,71.87 481.65,70.25 481.7,69.73 481.75,67.78 481.8,72.07 481.85,73.06 481.9,70.04 481.95,69.67 482,69.75 482.05,70.22 482.1,69.91 482.15,69.8 482.2,71.73 482.25,67.83 482.3,66.92 482.35,71.58 482.4,70.9 482.45,73.19 482.5,70.82 482.55,69.3 482.6,69.88 482.65,70.32 482.7,69.65 482.75,70.28 482.8,69.53 482.85,72.58 482.9,69.79 482.95,72.35 483,71.61 483.05,69.59 483.1,71.13 483.15,69.83 483.2,68.31 483.25,68.5 483.3,68.71 483.35,70.93 483.4,72.44 483.45,69.65 483.5,71.82 483.55,70.27 483.6,70.6 483.65,69.73 483.7,74.76 483.75,71.74 483.8,70.86 483.85,68.41 483.9,69.31 483.95,69.66 484,70.51 484.05,71.88 484.1,69.86 484.15,71.59 484.2,70.01 484.25,65.89 484.3,70.15 484.35,70.24 484.4,69.4 484.45,70.95 484.5,70.15 484.55,69.97 484.6,70.31 484.65,72.38 484.7,68.74 484.75,70.45 484.8,70.38 484.85,72.78 484.9,69.28 484.95,70.44 485,71.56 485.05,71.25 485.1,69.96 485.15,70.03 485.2,71.26 485.25,67.25 485.3,70.43 485.35,69.17 485.4,72.45 485.45,70.33 485.5,71.16 485.55,67.65 485.6,68.7 485.65,70.59 485.7,72.58 485.75,73.51 485.8,71.06 485.85,70.72 485.9,70.54 485.95,69.14 486,72.23 486.05,69.01 486.1,70.49 486.15,72.86 486.2,73.02 486.25,70.03 486.3,69.73 486.35,70.04 486.4,68.78 486.45,69.92 486.5,66.47 486.55,69.11 486.6,73.35 486.65,69.5 486.7,69.49 486.75,71.51 486.8,70.01 486.85,68.7 486.9,71.81 486.95,71.93 487,68.97 487.05,71.74 487.1,71.45 487.15,69.48 487.2,73.89 487.25,70.06 487.3,71.47 487.35,70.75 487.4,69.01 487.45,71.4 487.5,70.98 487.55,71.84 487.6,70.61 487.65,69.82 487.7,71.23 487.75,68.74 487.8,71.13 487.85,71.55 487.9,68.9 487.95,71.22 488,71.96 488.05,71.66 488.1,70.62 488.15,71.8 488.2,69.88 488.25,72.73 488.3,71.35 488.35,71.27 488.4,72.39 488.45,70.07 488.5,70.37 488.55,71.34 488.6,71.81 488.65,66.67 488.7,72.18 488.75,71.13 488.8,70.98 488.85,72.22 488.9,70.13 488.95,67.07 489,68.11 489.05,73.05 489.1,74.77 489.15,71.45 489.2,72.26 489.25,70.59 489.3,71.15 489.35,71.33 489.4,71.18 489.45,70.73 489.5,68.99 489.55,68.23 489.6,69.18 489.65,69.98 489.7,70.19 489.75,68.93 489.8,69.06 489.85,69.66 489.9,73.04 489.95,69.25 490,71.6 490.05,71.99 490.1,69.07 490.15,72.06 490.2,71.34 490.25,71.8 490.3,70.91 490.35,70.93 490.4,69.53 490.45,71.52 490.5,71.77 490.55,71.61 490.6,68.38 490.65,70.9 490.7,69.5 490.75,71.44 490.8,68.32 490.85,70.89 490.9,68.84 490.95,69.53 491,71.18 491.05,71.66 491.1,72.87 491.15,71.7 491.2,71.1 491.25,70.95 491.3,71.38 491.35,69.43 491.4,72.26 491.45,72.21 491.5,73.65 491.55,74.73 491.6,72.95 491.65,71.7 491.7,71.52 491.75,79.25 491.8,74.44 491.85,75.05 491.9,78 491.95,76.52 492,79.98 492.05,80.29 492.1,80.16 492.15,82.45 492.2,80.43 492.25,82.19 492.3,84.58 492.35,82.73 492.4,85.4 492.45,84.86 492.5,85.08 492.55,86.85 492.6,86.25 492.65,83.87 492.7,84.49 492.75,83.14 492.8,83.85 492.85,84.31 492.9,84.49 492.95,84.39 493,84 493.05,81.44 493.1,85.13 493.15,84.76 493.2,82.66 493.25,88.37 493.3,86.43 493.35,84.51 493.4,84.67 493.45,87.35 493.5,82.07 493.55,86.74 493.6,82.96 493.65,84.93 493.7,83.6 493.75,83.03 493.8,85.1 493.85,85.67 493.9,82.68 493.95,85.48 494,83.98 494.05,84.29 494.1,84.07 494.15,81.94 494.2,83.6 494.25,87.11 494.3,82.98 494.35,84.81 494.4,86.93 494.45,84.09 494.5,86.18 494.55,84.45 494.6,82.11 494.65,81.36 494.7,78.44 494.75,78.68 494.8,76.3 494.85,77.69 494.9,73.57 494.95,74.75 495,74.11 495.05,72.62 495.1,69.68 495.15,69.71 495.2,68.52 495.25,73.02 495.3,70.97 495.35,69.62 495.4,67.91 495.45,71.75 495.5,70.19 495.55,69.57 495.6,68.9 495.65,68.22 495.7,71.38 495.75,71.92 495.8,71.64 495.85,71.16 495.9,70.58 495.95,72.69 496,74.46 496.05,66.5 496.1,70.07 496.15,69.86 496.2,69.19 496.25,68.36 496.3,72.81 496.35,72.18 496.4,66.47 496.45,70.74 496.5,68.56 496.55,68.5 496.6,70.46 496.65,70.29 496.7,71.3 496.75,69.57 496.8,70.44 496.85,71.5 496.9,74.98 496.95,71.83 497,67.28 497.05,70.64 497.1,70.19 497.15,70.17 497.2,72.28 497.25,72.05 497.3,71.19 497.35,72.47 497.4,70.56 497.45,70.18 497.5,70.46 497.55,70.43 497.6,70 497.65,69.18 497.7,70.41 497.75,67.63 497.8,71 497.85,69.76 497.9,70.82 497.95,69.91 498,72.7 498.05,68.89 498.1,69.9 498.15,72.02 498.2,71.39 498.25,70.65 498.3,68.92 498.35,70.53 498.4,71.87 498.45,69.86 498.5,69.82 498.55,71.89 498.6,69.72 498.65,70.11 498.7,72.77 498.75,71.67 498.8,67.82 498.85,71.29 498.9,70.61 498.95,70.81 499,70.29 499.05,69.65 499.1,68 499.15,73.33 499.2,69.31 499.25,72.28 499.3,73.51 499.35,70.09 499.4,65.44 499.45,70.91 499.5,71.11 499.55,70.21 499.6,69.38 499.65,70.67 499.7,67.28 499.75,71.04 499.8,69.03 499.85,71.68 499.9,71.24 499.95,69.06 500,71.39 500.05,70.94 500.1,69.04 500.15,69.6 500.2,71.32 500.25,69.69 500.3,71.92 500.35,71.56 500.4,69.53 500.45,70.98 500.5,68.61 500.55,71.66 500.6,70.8 500.65,70.03 500.7,69.21 500.75,71.1 500.8,71.22 500.85,75.17 500.9,70.85 500.95,68.32 501,72.37 501.05,73.31 501.1,69.88 501.15,69.69" fill="none" stroke="#1570c0" stroke-width="0.55" stroke-linejoin="round" />
<polyline points="65.2,67 65.6,30.8 65.9,31.5 66.1,70" fill="none" stroke="#5aa0dc" stroke-width="0.9" stroke-linejoin="round" />
<rect x="60.5" y="9.3" width="440.9" height="131.4" fill="none" stroke="#a0a0a0" stroke-width="0.9" />
<line x1="133.98" y1="140.7" x2="133.98" y2="136.4" stroke="#a0a0a0" stroke-width="0.9" />
<line x1="133.98" y1="9.3" x2="133.98" y2="13.6" stroke="#a0a0a0" stroke-width="0.9" />
<line x1="207.47" y1="140.7" x2="207.47" y2="136.4" stroke="#a0a0a0" stroke-width="0.9" />
<line x1="207.47" y1="9.3" x2="207.47" y2="13.6" stroke="#a0a0a0" stroke-width="0.9" />
<line x1="280.95" y1="140.7" x2="280.95" y2="136.4" stroke="#a0a0a0" stroke-width="0.9" />
<line x1="280.95" y1="9.3" x2="280.95" y2="13.6" stroke="#a0a0a0" stroke-width="0.9" />
<line x1="354.43" y1="140.7" x2="354.43" y2="136.4" stroke="#a0a0a0" stroke-width="0.9" />
<line x1="354.43" y1="9.3" x2="354.43" y2="13.6" stroke="#a0a0a0" stroke-width="0.9" />
<line x1="427.92" y1="140.7" x2="427.92" y2="136.4" stroke="#a0a0a0" stroke-width="0.9" />
<line x1="427.92" y1="9.3" x2="427.92" y2="13.6" stroke="#a0a0a0" stroke-width="0.9" />
<line x1="60.5" y1="140.7" x2="64.8" y2="140.7" stroke="#a0a0a0" stroke-width="0.9" />
<line x1="501.4" y1="140.7" x2="497.1" y2="140.7" stroke="#a0a0a0" stroke-width="0.9" />
<line x1="60.5" y1="128.23" x2="64.8" y2="128.23" stroke="#a0a0a0" stroke-width="0.9" />
<line x1="501.4" y1="128.23" x2="497.1" y2="128.23" stroke="#a0a0a0" stroke-width="0.9" />
<line x1="60.5" y1="115.76" x2="64.8" y2="115.76" stroke="#a0a0a0" stroke-width="0.9" />
<line x1="501.4" y1="115.76" x2="497.1" y2="115.76" stroke="#a0a0a0" stroke-width="0.9" />
<line x1="60.5" y1="103.29" x2="64.8" y2="103.29" stroke="#a0a0a0" stroke-width="0.9" />
<line x1="501.4" y1="103.29" x2="497.1" y2="103.29" stroke="#a0a0a0" stroke-width="0.9" />
<line x1="60.5" y1="90.82" x2="64.8" y2="90.82" stroke="#a0a0a0" stroke-width="0.9" />
<line x1="501.4" y1="90.82" x2="497.1" y2="90.82" stroke="#a0a0a0" stroke-width="0.9" />
<line x1="60.5" y1="78.35" x2="64.8" y2="78.35" stroke="#a0a0a0" stroke-width="0.9" />
<line x1="501.4" y1="78.35" x2="497.1" y2="78.35" stroke="#a0a0a0" stroke-width="0.9" />
<line x1="60.5" y1="65.88" x2="64.8" y2="65.88" stroke="#a0a0a0" stroke-width="0.9" />
<line x1="501.4" y1="65.88" x2="497.1" y2="65.88" stroke="#a0a0a0" stroke-width="0.9" />
<line x1="60.5" y1="53.41" x2="64.8" y2="53.41" stroke="#a0a0a0" stroke-width="0.9" />
<line x1="501.4" y1="53.41" x2="497.1" y2="53.41" stroke="#a0a0a0" stroke-width="0.9" />
<line x1="60.5" y1="40.94" x2="64.8" y2="40.94" stroke="#a0a0a0" stroke-width="0.9" />
<line x1="501.4" y1="40.94" x2="497.1" y2="40.94" stroke="#a0a0a0" stroke-width="0.9" />
<line x1="60.5" y1="28.47" x2="64.8" y2="28.47" stroke="#a0a0a0" stroke-width="0.9" />
<line x1="501.4" y1="28.47" x2="497.1" y2="28.47" stroke="#a0a0a0" stroke-width="0.9" />
<line x1="60.5" y1="16" x2="64.8" y2="16" stroke="#a0a0a0" stroke-width="0.9" />
<line x1="501.4" y1="16" x2="497.1" y2="16" stroke="#a0a0a0" stroke-width="0.9" />
<text x="57.9" y="142.6" font-size="5.3" text-anchor="end" fill="#222222" stroke="#333" stroke-width="0.08">0</text>
<text x="57.9" y="130.13" font-size="5.3" text-anchor="end" fill="#222222" stroke="#333" stroke-width="0.08">200</text>
<text x="57.9" y="117.66" font-size="5.3" text-anchor="end" fill="#222222" stroke="#333" stroke-width="0.08">400</text>
<text x="57.9" y="105.19" font-size="5.3" text-anchor="end" fill="#222222" stroke="#333" stroke-width="0.08">600</text>
<text x="57.9" y="92.72" font-size="5.3" text-anchor="end" fill="#222222" stroke="#333" stroke-width="0.08">800</text>
<text x="57.9" y="80.25" font-size="5.3" text-anchor="end" fill="#222222" stroke="#333" stroke-width="0.08">1000</text>
<text x="57.9" y="67.78" font-size="5.3" text-anchor="end" fill="#222222" stroke="#333" stroke-width="0.08">1200</text>
<text x="57.9" y="55.31" font-size="5.3" text-anchor="end" fill="#222222" stroke="#333" stroke-width="0.08">1400</text>
<text x="57.9" y="42.84" font-size="5.3" text-anchor="end" fill="#222222" stroke="#333" stroke-width="0.08">1600</text>
<text x="57.9" y="30.37" font-size="5.3" text-anchor="end" fill="#222222" stroke="#333" stroke-width="0.08">1800</text>
<text x="57.9" y="17.9" font-size="5.3" text-anchor="end" fill="#222222" stroke="#333" stroke-width="0.08">2000</text>
<text x="60.5" y="147.7" font-size="5.3" text-anchor="middle" fill="#222222" stroke="#333" stroke-width="0.08">0</text>
<text x="133.98" y="147.7" font-size="5.3" text-anchor="middle" fill="#222222" stroke="#333" stroke-width="0.08">2,000</text>
<text x="207.47" y="147.7" font-size="5.3" text-anchor="middle" fill="#222222" stroke="#333" stroke-width="0.08">4,000</text>
<text x="280.95" y="147.7" font-size="5.3" text-anchor="middle" fill="#222222" stroke="#333" stroke-width="0.08">6,000</text>
<text x="354.43" y="147.7" font-size="5.3" text-anchor="middle" fill="#222222" stroke="#333" stroke-width="0.08">8,000</text>
<text x="427.92" y="147.7" font-size="5.3" text-anchor="middle" fill="#222222" stroke="#333" stroke-width="0.08">10,000</text>
<text x="501.4" y="147.7" font-size="5.3" text-anchor="middle" fill="#222222" stroke="#333" stroke-width="0.08">12,000</text>
<text x="280.95" y="156.2" font-size="5.6" text-anchor="middle" fill="#222222" stroke="#333" stroke-width="0.08">simulation time [min]</text>
<line x1="135.93" y1="171" x2="135.93" y2="305" stroke="#f1f1f1" stroke-width="0.8" />
<line x1="213.57" y1="171" x2="213.57" y2="305" stroke="#f1f1f1" stroke-width="0.8" />
<line x1="291.2" y1="171" x2="291.2" y2="305" stroke="#f1f1f1" stroke-width="0.8" />
<line x1="368.83" y1="171" x2="368.83" y2="305" stroke="#f1f1f1" stroke-width="0.8" />
<line x1="446.47" y1="171" x2="446.47" y2="305" stroke="#f1f1f1" stroke-width="0.8" />
<line x1="58.3" y1="281.74" x2="524.1" y2="281.74" stroke="#f1f1f1" stroke-width="0.8" />
<line x1="58.3" y1="258.47" x2="524.1" y2="258.47" stroke="#f1f1f1" stroke-width="0.8" />
<line x1="58.3" y1="235.21" x2="524.1" y2="235.21" stroke="#f1f1f1" stroke-width="0.8" />
<line x1="58.3" y1="211.94" x2="524.1" y2="211.94" stroke="#f1f1f1" stroke-width="0.8" />
<line x1="58.3" y1="188.68" x2="524.1" y2="188.68" stroke="#f1f1f1" stroke-width="0.8" />
<line x1="174.75" y1="171" x2="174.75" y2="305" stroke="#8a8a8a" stroke-width="0.75" stroke-dasharray="2.8,1.8"/>
<line x1="291.2" y1="171" x2="291.2" y2="305" stroke="#8a8a8a" stroke-width="0.75" stroke-dasharray="2.8,1.8"/>
<line x1="407.65" y1="171" x2="407.65" y2="305" stroke="#8a8a8a" stroke-width="0.75" stroke-dasharray="2.8,1.8"/>
<polyline points="58.3,304.7 73.6,304.7 73.6,193.33 78.5,193.33 78.5,304.7 85.5,304.7 85.5,193.33 90.7,193.33 90.7,304.7 98.4,304.7 98.4,193.33 103.3,193.33 103.3,304.7 110.4,304.7 110.4,193.33 115.6,193.33 115.6,304.7 123.1,304.7 123.1,193.33 128.5,193.33 128.5,304.7 135.5,304.7 135.5,193.33 140.5,193.33 140.5,304.7 147.9,304.7 147.9,193.33 153.3,193.33 153.3,304.7 160.5,304.7 160.5,193.33 165.6,193.33 165.6,304.7 172.6,304.7 172.6,193.33 177.9,193.33 177.9,304.7 184.2,304.7 184.2,193.33 190.1,193.33 190.1,304.7 196,304.7 196,193.33 201.9,193.33 201.9,304.7 207.8,304.7 207.8,193.33 214,193.33 214,304.7 220.2,304.7 220.2,193.33 226.2,193.33 226.2,304.7 232.4,304.7 232.4,193.33 238.3,193.33 238.3,304.7 244.8,304.7 244.8,193.33 251.1,193.33 251.1,304.7 257.3,304.7 257.3,193.33 263.4,193.33 263.4,304.7 269.3,304.7 269.3,193.33 275.4,193.33 275.4,304.7 281.4,304.7 281.4,193.33 287.4,193.33 287.4,304.7 461,304.7 461,193.33 464.5,193.33 464.5,304.7 513.1,304.7 513.1,193.33 516.7,193.33 516.7,304.7 524.1,304.7" fill="none" stroke="#f0ae95" stroke-width="0.8" stroke-linejoin="round" />
<polyline points="58.3,304.7 64.2,304.7 64.8,193.33 348,193.33 349.2,198.59 408.4,198.59 409.8,193.33 524.1,193.33" fill="none" stroke="#8fc1ea" stroke-width="0.9" stroke-linejoin="round" />
<rect x="58.3" y="171" width="465.8" height="134" fill="none" stroke="#a0a0a0" stroke-width="0.9" />
<line x1="135.93" y1="305" x2="135.93" y2="300.7" stroke="#a0a0a0" stroke-width="0.9" />
<line x1="135.93" y1="171" x2="135.93" y2="175.3" stroke="#a0a0a0" stroke-width="0.9" />
<line x1="213.57" y1="305" x2="213.57" y2="300.7" stroke="#a0a0a0" stroke-width="0.9" />
<line x1="213.57" y1="171" x2="213.57" y2="175.3" stroke="#a0a0a0" stroke-width="0.9" />
<line x1="291.2" y1="305" x2="291.2" y2="300.7" stroke="#a0a0a0" stroke-width="0.9" />
<line x1="291.2" y1="171" x2="291.2" y2="175.3" stroke="#a0a0a0" stroke-width="0.9" />
<line x1="368.83" y1="305" x2="368.83" y2="300.7" stroke="#a0a0a0" stroke-width="0.9" />
<line x1="368.83" y1="171" x2="368.83" y2="175.3" stroke="#a0a0a0" stroke-width="0.9" />
<line x1="446.47" y1="305" x2="446.47" y2="300.7" stroke="#a0a0a0" stroke-width="0.9" />
<line x1="446.47" y1="171" x2="446.47" y2="175.3" stroke="#a0a0a0" stroke-width="0.9" />
<line x1="58.3" y1="305" x2="62.6" y2="305" stroke="#a0a0a0" stroke-width="0.9" />
<line x1="524.1" y1="305" x2="519.8" y2="305" stroke="#a0a0a0" stroke-width="0.9" />
<line x1="58.3" y1="281.74" x2="62.6" y2="281.74" stroke="#a0a0a0" stroke-width="0.9" />
<line x1="524.1" y1="281.74" x2="519.8" y2="281.74" stroke="#a0a0a0" stroke-width="0.9" />
<line x1="58.3" y1="258.47" x2="62.6" y2="258.47" stroke="#a0a0a0" stroke-width="0.9" />
<line x1="524.1" y1="258.47" x2="519.8" y2="258.47" stroke="#a0a0a0" stroke-width="0.9" />
<line x1="58.3" y1="235.21" x2="62.6" y2="235.21" stroke="#a0a0a0" stroke-width="0.9" />
<line x1="524.1" y1="235.21" x2="519.8" y2="235.21" stroke="#a0a0a0" stroke-width="0.9" />
<line x1="58.3" y1="211.94" x2="62.6" y2="211.94" stroke="#a0a0a0" stroke-width="0.9" />
<line x1="524.1" y1="211.94" x2="519.8" y2="211.94" stroke="#a0a0a0" stroke-width="0.9" />
<line x1="58.3" y1="188.68" x2="62.6" y2="188.68" stroke="#a0a0a0" stroke-width="0.9" />
<line x1="524.1" y1="188.68" x2="519.8" y2="188.68" stroke="#a0a0a0" stroke-width="0.9" />
<text x="55.7" y="306.9" font-size="5.3" text-anchor="end" fill="#222222" stroke="#333" stroke-width="0.08">0</text>
<text x="55.7" y="283.64" font-size="5.3" text-anchor="end" fill="#222222" stroke="#333" stroke-width="0.08">50</text>
<text x="55.7" y="260.37" font-size="5.3" text-anchor="end" fill="#222222" stroke="#333" stroke-width="0.08">100</text>
<text x="55.7" y="237.11" font-size="5.3" text-anchor="end" fill="#222222" stroke="#333" stroke-width="0.08">150</text>
<text x="55.7" y="213.84" font-size="5.3" text-anchor="end" fill="#222222" stroke="#333" stroke-width="0.08">200</text>
<text x="55.7" y="190.58" font-size="5.3" text-anchor="end" fill="#222222" stroke="#333" stroke-width="0.08">250</text>
<text x="58.3" y="312" font-size="5.3" text-anchor="middle" fill="#222222" stroke="#333" stroke-width="0.08">0</text>
<text x="135.93" y="312" font-size="5.3" text-anchor="middle" fill="#222222" stroke="#333" stroke-width="0.08">2,000</text>
<text x="213.57" y="312" font-size="5.3" text-anchor="middle" fill="#222222" stroke="#333" stroke-width="0.08">4,000</text>
<text x="291.2" y="312" font-size="5.3" text-anchor="middle" fill="#222222" stroke="#333" stroke-width="0.08">6,000</text>
<text x="368.83" y="312" font-size="5.3" text-anchor="middle" fill="#222222" stroke="#333" stroke-width="0.08">8,000</text>
<text x="446.47" y="312" font-size="5.3" text-anchor="middle" fill="#222222" stroke="#333" stroke-width="0.08">10,000</text>
<text x="524.1" y="312" font-size="5.3" text-anchor="middle" fill="#222222" stroke="#333" stroke-width="0.08">12,000</text>
<text x="291.2" y="320" font-size="5.6" text-anchor="middle" fill="#222222" stroke="#333" stroke-width="0.08">simulation time [min]</text>
<line x1="130.57" y1="335.8" x2="130.57" y2="472" stroke="#f1f1f1" stroke-width="0.8" />
<line x1="202.63" y1="335.8" x2="202.63" y2="472" stroke="#f1f1f1" stroke-width="0.8" />
<line x1="274.7" y1="335.8" x2="274.7" y2="472" stroke="#f1f1f1" stroke-width="0.8" />
<line x1="346.77" y1="335.8" x2="346.77" y2="472" stroke="#f1f1f1" stroke-width="0.8" />
<line x1="418.83" y1="335.8" x2="418.83" y2="472" stroke="#f1f1f1" stroke-width="0.8" />
<line x1="58.5" y1="456.87" x2="490.9" y2="456.87" stroke="#f1f1f1" stroke-width="0.8" />
<line x1="58.5" y1="441.73" x2="490.9" y2="441.73" stroke="#f1f1f1" stroke-width="0.8" />
<line x1="58.5" y1="426.6" x2="490.9" y2="426.6" stroke="#f1f1f1" stroke-width="0.8" />
<line x1="58.5" y1="411.47" x2="490.9" y2="411.47" stroke="#f1f1f1" stroke-width="0.8" />
<line x1="58.5" y1="396.33" x2="490.9" y2="396.33" stroke="#f1f1f1" stroke-width="0.8" />
<line x1="58.5" y1="381.2" x2="490.9" y2="381.2" stroke="#f1f1f1" stroke-width="0.8" />
<line x1="58.5" y1="366.07" x2="490.9" y2="366.07" stroke="#f1f1f1" stroke-width="0.8" />
<line x1="58.5" y1="350.93" x2="490.9" y2="350.93" stroke="#f1f1f1" stroke-width="0.8" />
<line x1="166.6" y1="335.8" x2="166.6" y2="472" stroke="#8a8a8a" stroke-width="0.75" stroke-dasharray="2.8,1.8"/>
<line x1="274.7" y1="335.8" x2="274.7" y2="472" stroke="#8a8a8a" stroke-width="0.75" stroke-dasharray="2.8,1.8"/>
<line x1="382.8" y1="335.8" x2="382.8" y2="472" stroke="#8a8a8a" stroke-width="0.75" stroke-dasharray="2.8,1.8"/>
<polyline points="58.5,471.5 64.6,471.5 71.8,383.32 77.5,471.5 83.4,383.32 88.8,471.5 94.6,383.32 100.1,471.5 106.1,383.32 111.6,471.5 117.5,383.32 123,471.5 129,383.32 134.8,471.5 140.8,383.32 146.5,471.5 152.6,383.32 158.3,471.5 163.9,383.32 169.8,471.5 175.4,383.32 181.3,471.5 186.5,383.32 192.5,471.5 197.6,383.32 203.7,471.5 208.8,383.32 214.7,471.5 220.1,383.32 225.6,471.5 231,383.32 236.8,471.5 242.1,383.32 248,471.5 253.6,383.32 259.6,471.5 265,383.32 271.5,471.5 276.6,395.12 277.6,395.73 328,471.5 385.1,471.5 433,383.32 435.6,471.5 481.4,383.32 484.8,471.5 490.9,456.87" fill="none" stroke="#8fc1ea" stroke-width="0.9" stroke-linejoin="round" />
<polyline points="58.5,471.7 58.75,471.7 59,471.7 59.25,471.7 59.5,471.7 59.75,471.7 60,471.7 60.25,471.7 60.5,471.7 60.75,471.7 61,471.7 61.25,471.7 61.5,471.7 61.75,471.7 62,471.7 62.25,468.51 62.5,453.53 62.75,440.06 63,428.06 63.25,417.47 63.5,408.23 63.75,400.28 64,393.55 64.25,387.98 64.5,383.47 64.75,379.97 65,377.37 65.25,375.59 65.5,374.51 65.75,374.01 66,373.9 66.25,373.9 66.5,373.9 66.75,373.9 67,373.9 67.25,373.9 67.5,373.9 67.75,373.9 68,373.9 68.25,373.9 68.5,373.9 68.75,373.9 69,373.9 69.25,373.9 69.5,373.9 69.75,373.9 70,373.9 70.25,373.9 70.5,373.9 70.75,373.9 71,373.9 71.25,373.9 71.5,373.9 71.75,373.9 72,373.63 72.25,372.6 72.5,370.97 72.75,369.06 73,367.22 73.25,365.8 73.5,365.07 73.75,365 74,365 74.25,365 74.5,365 74.75,365 75,365 75.25,365 75.5,365 75.75,365 76,365 76.25,365 76.5,365 76.75,365 77,365.27 77.25,366.3 77.5,367.93 77.75,369.84 78,371.67 78.25,373.1 78.5,373.83 78.75,373.9 79,373.9 79.25,373.9 79.5,373.9 79.75,373.9 80,373.9 80.25,373.9 80.5,373.9 80.75,373.9 81,373.9 81.25,373.9 81.5,373.9 81.75,373.9 82,373.9 82.25,373.9 82.5,373.9 82.75,373.9 83,373.9 83.25,373.9 83.5,373.83 83.75,373.1 84,371.68 84.25,369.84 84.5,367.93 84.75,366.3 85,365.27 85.25,365 85.5,365 85.75,365 86,365 86.25,365 86.5,365 86.75,365 87,365 87.25,365 87.5,365 87.75,365 88,365 88.25,365.15 88.5,366.04 88.75,367.57 89,369.45 89.25,371.33 89.5,372.86 89.75,373.75 90,373.9 90.25,373.9 90.5,373.9 90.75,373.9 91,373.9 91.25,373.9 91.5,373.9 91.75,373.9 92,373.9 92.25,373.9 92.5,373.9 92.75,373.9 93,373.9 93.25,373.9 93.5,373.9 93.75,373.9 94,373.9 94.25,373.9 94.5,373.9 94.75,373.75 95,372.86 95.25,371.33 95.5,369.45 95.75,367.57 96,366.04 96.25,365.15 96.5,365 96.75,365 97,365 97.25,365 97.5,365 97.75,365 98,365 98.25,365 98.5,365 98.75,365 99,365 99.25,365 99.5,365.07 99.75,365.8 100,367.22 100.25,369.06 100.5,370.97 100.75,372.6 101,373.63 101.25,373.9 101.5,373.9 101.75,373.9 102,373.9 102.25,373.9 102.5,373.9 102.75,373.9 103,373.9 103.25,373.9 103.5,373.9 103.75,373.9 104,373.9 104.25,373.9 104.5,373.9 104.75,373.9 105,373.9 105.25,373.9 105.5,373.9 105.75,373.9 106,373.9 106.25,373.75 106.5,372.86 106.75,371.33 107,369.45 107.25,367.57 107.5,366.04 107.75,365.15 108,365 108.25,365 108.5,365 108.75,365 109,365 109.25,365 109.5,365 109.75,365 110,365 110.25,365 110.5,365 110.75,365 111,365.07 111.25,365.8 111.5,367.22 111.75,369.06 112,370.97 112.25,372.6 112.5,373.63 112.75,373.9 113,373.9 113.25,373.9 113.5,373.9 113.75,373.9 114,373.9 114.25,373.9 114.5,373.9 114.75,373.9 115,373.9 115.25,373.9 115.5,373.9 115.75,373.9 116,373.9 116.25,373.9 116.5,373.9 116.75,373.9 117,373.9 117.25,373.9 117.5,373.9 117.75,373.48 118,372.31 118.25,370.6 118.5,368.68 118.75,366.9 119,365.6 119.25,365.02 119.5,365 119.75,365 120,365 120.25,365 120.5,365 120.75,365 121,365 121.25,365 121.5,365 121.75,365 122,365 122.25,365 122.5,365.27 122.75,366.3 123,367.93 123.25,369.84 123.5,371.67 123.75,373.1 124,373.83 124.25,373.9 124.5,373.9 124.75,373.9 125,373.9 125.25,373.9 125.5,373.9 125.75,373.9 126,373.9 126.25,373.9 126.5,373.9 126.75,373.9 127,373.9 127.25,373.9 127.5,373.9 127.75,373.9 128,373.9 128.25,373.9 128.5,373.9 128.75,373.9 129,373.9 129.25,373.48 129.5,372.31 129.75,370.6 130,368.68 130.25,366.9 130.5,365.6 130.75,365.02 131,365 131.25,365 131.5,365 131.75,365 132,365 132.25,365 132.5,365 132.75,365 133,365 133.25,365 133.5,365 133.75,365 134,365 134.25,365.15 134.5,366.04 134.75,367.57 135,369.45 135.25,371.33 135.5,372.86 135.75,373.75 136,373.9 136.25,373.9 136.5,373.9 136.75,373.9 137,373.9 137.25,373.9 137.5,373.9 137.75,373.9 138,373.9 138.25,373.9 138.5,373.9 138.75,373.9 139,373.9 139.25,373.9 139.5,373.9 139.75,373.9 140,373.9 140.25,373.9 140.5,373.9 140.75,373.9 141,373.63 141.25,372.6 141.5,370.97 141.75,369.06 142,367.23 142.25,365.8 142.5,365.07 142.75,365 143,365 143.25,365 143.5,365 143.75,365 144,365 144.25,365 144.5,365 144.75,365 145,365 145.25,365 145.5,365 145.75,365 146,365.27 146.25,366.3 146.5,367.93 146.75,369.84 147,371.68 147.25,373.1 147.5,373.83 147.75,373.9 148,373.9 148.25,373.9 148.5,373.9 148.75,373.9 149,373.9 149.25,373.9 149.5,373.9 149.75,373.9 150,373.9 150.25,373.9 150.5,373.9 150.75,373.9 151,373.9 151.25,373.9 151.5,373.9 151.75,373.9 152,373.9 152.25,373.9 152.5,373.9 152.75,373.75 153,372.86 153.25,371.33 153.5,369.45 153.75,367.57 154,366.04 154.25,365.15 154.5,365 154.75,365 155,365 155.25,365 155.5,365 155.75,365 156,365 156.25,365 156.5,365 156.75,365 157,365 157.25,365 157.5,365 157.75,365.15 158,366.04 158.25,367.57 158.5,369.45 158.75,371.33 159,372.86 159.25,373.75 159.5,373.9 159.75,373.9 160,373.9 160.25,373.9 160.5,373.9 160.75,373.9 161,373.9 161.25,373.9 161.5,373.9 161.75,373.9 162,373.9 162.25,373.9 162.5,373.9 162.75,373.9 163,373.9 163.25,373.9 163.5,373.9 163.75,373.9 164,373.83 164.25,373.1 164.5,371.68 164.75,369.84 165,367.93 165.25,366.3 165.5,373.83 165.75,373.1 166,371.68 166.25,363.32 166.5,361.5 166.75,359.94 167,358.96 167.25,358.7 167.5,358.7 167.75,358.7 168,358.7 168.25,358.7 168.5,358.7 168.75,358.7 169,358.7 169.25,358.84 169.5,359.69 169.75,361.15 170,362.95 170.25,364.75 170.5,366.21 170.75,367.06 171,367.2 171.25,367.2 171.5,367.2 171.75,367.2 172,367.2 172.25,367.2 172.5,367.2 172.75,367.2 173,367.2 173.25,367.2 173.5,367.2 173.75,367.2 174,367.2 174.25,367.2 174.5,367.2 174.75,367.2 175,367.2 175.25,367.2 175.5,367.14 175.75,366.43 176,365.08 176.25,363.32 176.5,361.5 176.75,359.94 177,358.96 177.25,358.7 177.5,358.7 177.75,358.7 178,358.7 178.25,358.7 178.5,358.7 178.75,358.7 179,358.7 179.25,358.7 179.5,358.7 179.75,358.7 180,358.7 180.25,358.7 180.5,358.7 180.75,358.84 181,359.69 181.25,361.15 181.5,362.95 181.75,364.75 182,366.21 182.25,367.06 182.5,367.2 182.75,367.2 183,367.2 183.25,367.2 183.5,367.2 183.75,367.2 184,367.2 184.25,367.2 184.5,367.2 184.75,367.2 185,367.2 185.25,367.2 185.5,367.2 185.75,367.2 186,367.2 186.25,367.2 186.5,367.2 186.75,366.8 187,365.68 187.25,364.05 187.5,362.21 187.75,360.51 188,359.27 188.25,358.72 188.5,358.7 188.75,358.7 189,358.7 189.25,358.7 189.5,358.7 189.75,358.7 190,358.7 190.25,358.7 190.5,358.7 190.75,358.7 191,358.7 191.25,358.7 191.5,358.7 191.75,358.7 192,358.96 192.25,359.94 192.5,361.5 192.75,363.32 193,365.08 193.25,366.43 193.5,367.14 193.75,367.2 194,367.2 194.25,367.2 194.5,367.2 194.75,367.2 195,367.2 195.25,367.2 195.5,367.2 195.75,367.2 196,367.2 196.25,367.2 196.5,367.2 196.75,367.2 197,367.2 197.25,367.2 197.5,367.2 197.75,367.06 198,366.21 198.25,364.75 198.5,362.95 198.75,361.15 199,359.69 199.25,358.84 199.5,358.7 199.75,358.7 200,358.7 200.25,358.7 200.5,358.7 200.75,358.7 201,358.7 201.25,358.7 201.5,358.7 201.75,358.7 202,358.7 202.25,358.7 202.5,358.7 202.75,358.7 203,358.7 203.25,359.1 203.5,360.22 203.75,361.85 204,363.69 204.25,365.39 204.5,366.63 204.75,367.18 205,367.2 205.25,367.2 205.5,367.2 205.75,367.2 206,367.2 206.25,367.2 206.5,367.2 206.75,367.2 207,367.2 207.25,367.2 207.5,367.2 207.75,367.2 208,367.2 208.25,367.2 208.5,367.2 208.75,367.2 209,366.94 209.25,365.96 209.5,364.4 209.75,362.58 210,360.83 210.25,359.47 210.5,358.76 210.75,358.7 211,358.7 211.25,358.7 211.5,358.7 211.75,358.7 212,358.7 212.25,358.7 212.5,358.7 212.75,358.7 213,358.7 213.25,358.7 213.5,358.7 213.75,358.7 214,358.7 214.25,359.1 214.5,360.22 214.75,361.85 215,363.69 215.25,365.39 215.5,366.63 215.75,367.18 216,367.2 216.25,367.2 216.5,367.2 216.75,367.2 217,367.2 217.25,367.2 217.5,367.2 217.75,367.2 218,367.2 218.25,367.2 218.5,367.2 218.75,367.2 219,367.2 219.25,367.2 219.5,367.2 219.75,367.2 220,367.2 220.25,367.06 220.5,366.21 220.75,364.75 221,362.95 221.25,361.15 221.5,359.69 221.75,358.84 222,358.7 222.25,358.7 222.5,358.7 222.75,358.7 223,358.7 223.25,358.7 223.5,358.7 223.75,358.7 224,358.7 224.25,358.7 224.5,358.7 224.75,358.7 225,358.76 225.25,359.47 225.5,360.83 225.75,362.58 226,364.4 226.25,365.96 226.5,366.94 226.75,367.2 227,367.2 227.25,367.2 227.5,367.2 227.75,367.2 228,367.2 228.25,367.2 228.5,367.2 228.75,367.2 229,367.2 229.25,367.2 229.5,367.2 229.75,367.2 230,367.2 230.25,367.2 230.5,367.2 230.75,367.2 231,367.2 231.25,366.8 231.5,365.68 231.75,364.05 232,362.21 232.25,360.51 232.5,359.27 232.75,358.72 233,358.7 233.25,358.7 233.5,358.7 233.75,358.7 234,358.7 234.25,358.7 234.5,358.7 234.75,358.7 235,358.7 235.25,358.7 235.5,358.7 235.75,358.7 236,358.7 236.25,358.84 236.5,359.69 236.75,361.15 237,362.95 237.25,364.75 237.5,366.21 237.75,367.06 238,367.2 238.25,367.2 238.5,367.2 238.75,367.2 239,367.2 239.25,367.2 239.5,367.2 239.75,367.2 240,367.2 240.25,367.2 240.5,367.2 240.75,367.2 241,367.2 241.25,367.2 241.5,367.2 241.75,367.2 242,367.2 242.25,367.06 242.5,366.21 242.75,364.75 243,362.95 243.25,361.15 243.5,359.69 243.75,358.84 244,358.7 244.25,358.7 244.5,358.7 244.75,358.7 245,358.7 245.25,358.7 245.5,358.7 245.75,358.7 246,358.7 246.25,358.7 246.5,358.7 246.75,358.7 247,358.7 247.25,358.7 247.5,358.96 247.75,359.94 248,361.5 248.25,363.32 248.5,365.08 248.75,366.43 249,367.14 249.25,367.2 249.5,367.2 249.75,367.2 250,367.2 250.25,367.2 250.5,367.2 250.75,367.2 251,367.2 251.25,367.2 251.5,367.2 251.75,367.2 252,367.2 252.25,367.2 252.5,367.2 252.75,367.2 253,367.2 253.25,367.2 253.5,367.2 253.75,367.06 254,366.21 254.25,364.75 254.5,362.95 254.75,361.15 255,359.69 255.25,358.84 255.5,358.7 255.75,358.7 256,358.7 256.25,358.7 256.5,358.7 256.75,358.7 257,358.7 257.25,358.7 257.5,358.7 257.75,358.7 258,358.7 258.25,358.7 258.5,358.7 258.75,358.7 259,358.76 259.25,359.47 259.5,360.83 259.75,362.58 260,364.4 260.25,365.96 260.5,366.94 260.75,367.2 261,367.2 261.25,367.2 261.5,367.2 261.75,367.2 262,367.2 262.25,367.2 262.5,367.2 262.75,367.2 263,367.2 263.25,367.2 263.5,367.2 263.75,367.2 264,367.2 264.25,367.2 264.5,367.2 264.75,367.2 265,367.2 265.25,366.8 265.5,367.14 265.75,366.43 266,365.08 266.25,363.32 266.5,361.5 266.75,359.94 267,358.96 267.25,358.7 267.5,358.7 267.75,358.7 268,358.7 268.25,358.7 268.5,358.7 268.75,358.7 269,358.7 269.25,358.7 269.5,358.7 269.75,358.7 270,358.7 270.25,358.7 270.5,358.7 270.75,358.7 271,358.7 271.25,358.7 271.5,358.7 271.75,358.7 272,358.76 272.25,359.47 272.5,360.83 272.75,362.58 273,364.4 273.25,365.96 273.5,366.94 273.75,367.2 274,367.2 274.25,367.2 274.5,368.83 274.75,372.91 275,376.98 275.25,381.06 275.5,385.13 275.75,389.21 276,393.28 276.25,397.36 276.5,400.04 276.75,400.64 277,401.22 277.25,401.75 277.5,402.24 277.75,402.66 278,403 278.25,403.26 278.5,403.43 278.75,403.5 279,403.5 279.25,403.5 279.5,403.5 279.75,403.5 280,403.5 280.25,403.5 280.5,403.5 280.75,403.5 281,403.5 281.25,403.5 281.5,403.5 281.75,403.5 282,403.5 282.25,403.5 282.5,403.5 282.75,403.5 283,403.5 283.25,403.5 283.5,403.5 283.75,403.5 284,403.5 284.25,403.5 284.5,403.5 284.75,403.5 285,403.5 285.25,403.5 285.5,403.5 285.75,403.5 286,403.5 286.25,403.5 286.5,403.5 286.75,403.5 287,403.5 287.25,403.5 287.5,403.5 287.75,403.5 288,403.5 288.25,403.5 288.5,403.5 288.75,403.5 289,403.5 289.25,403.5 289.5,403.5 289.75,403.5 290,403.5 290.25,403.5 290.5,403.5 290.75,403.5 291,403.5 291.25,403.5 291.5,403.5 291.75,403.5 292,403.5 292.25,403.5 292.5,403.5 292.75,403.5 293,403.5 293.25,403.5 293.5,403.5 293.75,403.5 294,403.5 294.25,403.5 294.5,403.5 294.75,403.5 295,403.5 295.25,403.5 295.5,403.5 295.75,403.5 296,403.5 296.25,403.5 296.5,403.5 296.75,403.5 297,403.5 297.25,403.5 297.5,403.5 297.75,403.5 298,403.5 298.25,403.5 298.5,403.5 298.75,403.5 299,403.5 299.25,403.5 299.5,403.5 299.75,403.5 300,403.5 300.25,403.5 300.5,403.5 300.75,403.5 301,403.5 301.25,403.5 301.5,403.5 301.75,403.5 302,403.5 302.25,403.5 302.5,403.5 302.75,403.5 303,403.5 303.25,403.5 303.5,403.5 303.75,403.5 304,403.5 304.25,403.5 304.5,403.5 304.75,403.5 305,403.5 305.25,403.5 305.5,403.5 305.75,403.5 306,403.5 306.25,403.5 306.5,403.5 306.75,403.5 307,403.5 307.25,403.5 307.5,403.5 307.75,403.5 308,403.5 308.25,403.5 308.5,403.5 308.75,403.5 309,403.5 309.25,403.5 309.5,403.5 309.75,403.5 310,403.5 310.25,403.5 310.5,403.5 310.75,403.5 311,403.5 311.25,403.5 311.5,403.5 311.75,403.5 312,403.5 312.25,403.5 312.5,403.5 312.75,403.5 313,403.5 313.25,403.5 313.5,403.5 313.75,403.5 314,403.5 314.25,403.5 314.5,403.5 314.75,403.5 315,403.5 315.25,403.5 315.5,403.5 315.75,403.5 316,403.5 316.25,403.5 316.5,403.5 316.75,403.5 317,403.5 317.25,403.5 317.5,403.5 317.75,403.5 318,403.5 318.25,403.5 318.5,403.5 318.75,403.5 319,403.5 319.25,403.5 319.5,403.5 319.75,403.5 320,403.5 320.25,403.5 320.5,403.5 320.75,403.5 321,403.5 321.25,403.5 321.5,403.5 321.75,403.5 322,403.5 322.25,403.5 322.5,403.5 322.75,403.5 323,403.5 323.25,403.5 323.5,403.5 323.75,403.5 324,403.5 324.25,403.5 324.5,403.5 324.75,403.5 325,403.5 325.25,403.5 325.5,403.5 325.75,403.5 326,403.5 326.25,403.5 326.5,403.5 326.75,403.5 327,403.5 327.25,403.5 327.5,403.5 327.75,403.5 328,403.5 328.25,403.5 328.5,403.5 328.75,403.5 329,403.5 329.25,403.5 329.5,403.5 329.75,403.5 330,403.5 330.25,403.5 330.5,403.5 330.75,403.5 331,403.5 331.25,403.5 331.5,403.5 331.75,403.5 332,403.5 332.25,403.5 332.5,403.5 332.75,403.5 333,403.5 333.25,403.5 333.5,403.5 333.75,403.5 334,403.5 334.25,403.5 334.5,403.5 334.75,403.5 335,403.5 335.25,403.5 335.5,403.5 335.75,403.5 336,403.5 336.25,403.5 336.5,403.5 336.75,403.5 337,403.5 337.25,403.5 337.5,403.5 337.75,403.5 338,403.5 338.25,403.5 338.5,403.5 338.75,403.5 339,403.5 339.25,403.5 339.5,403.5 339.75,403.5 340,403.5 340.25,403.5 340.5,403.5 340.75,403.5 341,403.5 341.25,403.5 341.5,403.5 341.75,403.5 342,403.5 342.25,403.5 342.5,403.5 342.75,403.5 343,403.5 343.25,403.5 343.5,403.5 343.75,403.5 344,403.5 344.25,403.5 344.5,403.5 344.75,403.5 345,403.5 345.25,403.5 345.5,403.5 345.75,403.5 346,403.5 346.25,403.5 346.5,403.5 346.75,403.5 347,403.5 347.25,403.5 347.5,403.5 347.75,403.5 348,403.5 348.25,403.5 348.5,403.5 348.75,403.5 349,403.5 349.25,403.5 349.5,403.5 349.75,403.5 350,403.5 350.25,403.5 350.5,403.5 350.75,403.5 351,403.5 351.25,403.5 351.5,403.5 351.75,403.5 352,403.5 352.25,403.5 352.5,403.5 352.75,403.5 353,403.5 353.25,403.5 353.5,403.5 353.75,403.5 354,403.5 354.25,403.5 354.5,403.5 354.75,403.5 355,403.5 355.25,403.5 355.5,403.5 355.75,403.5 356,403.5 356.25,403.5 356.5,403.5 356.75,403.5 357,403.5 357.25,403.5 357.5,403.5 357.75,403.5 358,403.5 358.25,403.5 358.5,403.5 358.75,403.5 359,403.5 359.25,403.5 359.5,403.5 359.75,403.5 360,403.5 360.25,403.5 360.5,403.5 360.75,403.5 361,403.5 361.25,403.5 361.5,403.5 361.75,403.5 362,403.5 362.25,403.5 362.5,403.5 362.75,403.5 363,403.5 363.25,403.5 363.5,403.5 363.75,403.5 364,403.5 364.25,403.5 364.5,403.5 364.75,403.5 365,403.5 365.25,403.5 365.5,403.5 365.75,403.5 366,403.5 366.25,403.5 366.5,403.5 366.75,403.5 367,403.5 367.25,403.5 367.5,403.5 367.75,403.5 368,403.5 368.25,403.5 368.5,403.5 368.75,403.5 369,403.5 369.25,403.5 369.5,403.5 369.75,403.5 370,403.5 370.25,403.5 370.5,403.5 370.75,403.5 371,403.5 371.25,403.5 371.5,403.5 371.75,403.5 372,403.5 372.25,403.5 372.5,403.5 372.75,403.5 373,403.5 373.25,403.5 373.5,403.5 373.75,403.5 374,403.5 374.25,403.5 374.5,403.5 374.75,403.5 375,403.5 375.25,403.5 375.5,403.5 375.75,403.5 376,403.5 376.25,403.5 376.5,403.5 376.75,403.5 377,403.5 377.25,403.5 377.5,403.5 377.75,403.5 378,403.5 378.25,403.5 378.5,403.5 378.75,403.5 379,403.5 379.25,403.5 379.5,403.5 379.75,403.5 380,403.5 380.25,403.5 380.5,403.5 380.75,403.5 381,403.5 381.25,403.5 381.5,403.5 381.75,403.5 382,403.5 382.25,403.5 382.5,403.5 382.75,403.5 383,403.5 383.25,403.49 383.5,403.3 383.75,402.83 384,402.13 384.25,401.25 384.5,400.26 384.75,399.24 385,398.27 385.25,397.42 385.5,396.76 385.75,396.34 386,396.2 386.25,396.2 386.5,396.2 386.75,396.2 387,396.2 387.25,396.2 387.5,396.2 387.75,396.2 388,396.2 388.25,396.2 388.5,396.2 388.75,396.2 389,396.2 389.25,396.2 389.5,396.2 389.75,396.2 390,396.2 390.25,396.2 390.5,396.2 390.75,396.2 391,396.2 391.25,396.2 391.5,396.2 391.75,396.2 392,396.2 392.25,396.2 392.5,396.2 392.75,396.2 393,396.2 393.25,396.2 393.5,396.2 393.75,396.2 394,396.2 394.25,396.2 394.5,396.2 394.75,396.2 395,396.2 395.25,396.2 395.5,396.2 395.75,396.2 396,396.2 396.25,396.2 396.5,396.2 396.75,396.2 397,396.2 397.25,396.2 397.5,396.2 397.75,396.2 398,396.2 398.25,396.2 398.5,396.2 398.75,396.2 399,396.2 399.25,396.2 399.5,396.2 399.75,396.2 400,396.2 400.25,396.2 400.5,396.2 400.75,396.2 401,396.2 401.25,396.2 401.5,396.2 401.75,396.2 402,396.2 402.25,396.2 402.5,396.2 402.75,396.2 403,396.2 403.25,396.2 403.5,396.2 403.75,396.2 404,396.2 404.25,396.2 404.5,396.2 404.75,396.2 405,396.2 405.25,396.2 405.5,396.2 405.75,396.2 406,396.2 406.25,396.2 406.5,396.2 406.75,396.2 407,396.2 407.25,396.2 407.5,396.2 407.75,396.2 408,396.2 408.25,396.2 408.5,396.2 408.75,396.2 409,396.2 409.25,396.2 409.5,396.2 409.75,396.2 410,396.2 410.25,396.2 410.5,396.2 410.75,396.2 411,396.2 411.25,396.2 411.5,396.2 411.75,396.2 412,396.2 412.25,396.2 412.5,396.2 412.75,396.2 413,396.2 413.25,396.2 413.5,396.2 413.75,396.2 414,396.2 414.25,396.2 414.5,396.2 414.75,396.2 415,396.2 415.25,396.2 415.5,396.2 415.75,396.2 416,396.2 416.25,396.2 416.5,396.2 416.75,396.2 417,396.2 417.25,396.2 417.5,396.2 417.75,396.2 418,396.2 418.25,396.2 418.5,396.2 418.75,396.2 419,396.2 419.25,396.2 419.5,396.2 419.75,396.2 420,396.2 420.25,396.2 420.5,396.2 420.75,396.2 421,396.2 421.25,396.2 421.5,396.2 421.75,396.2 422,396.2 422.25,396.2 422.5,396.2 422.75,396.2 423,396.2 423.25,396.2 423.5,396.2 423.75,396.2 424,396.2 424.25,396.2 424.5,396.2 424.75,396.2 425,396.2 425.25,396.2 425.5,396.2 425.75,396.2 426,396.2 426.25,396.2 426.5,396.2 426.75,396.2 427,396.2 427.25,396.2 427.5,396.2 427.75,396.2 428,396.2 428.25,396.2 428.5,396.2 428.75,396.2 429,396.2 429.25,396.2 429.5,396.2 429.75,396.2 430,396.2 430.25,396.2 430.5,396.2 430.75,396.2 431,396.2 431.25,396.2 431.5,396.2 431.75,396.2 432,396.2 432.25,396.2 432.5,396.2 432.75,396.2 433,396.2 433.25,396.07 433.5,395.3 433.75,394.07 434,392.76 434.25,391.77 434.5,391.4 434.75,391.4 435,391.4 435.25,391.4 435.5,391.4 435.75,391.4 436,391.4 436.25,391.4 436.5,391.4 436.75,391.42 437,391.92 437.25,393.01 437.5,394.33 437.75,395.5 438,396.14 438.25,396.2 438.5,396.2 438.75,396.2 439,396.2 439.25,396.2 439.5,396.2 439.75,396.2 440,396.2 440.25,396.2 440.5,396.2 440.75,396.2 441,396.2 441.25,396.2 441.5,396.2 441.75,396.2 442,396.2 442.25,396.2 442.5,396.2 442.75,396.2 443,396.2 443.25,396.2 443.5,396.2 443.75,396.2 444,396.2 444.25,396.2 444.5,396.2 444.75,396.2 445,396.2 445.25,396.2 445.5,396.2 445.75,396.2 446,396.2 446.25,396.2 446.5,396.2 446.75,396.2 447,396.2 447.25,396.2 447.5,396.2 447.75,396.2 448,396.2 448.25,396.2 448.5,396.2 448.75,396.2 449,396.2 449.25,396.2 449.5,396.2 449.75,396.2 450,396.2 450.25,396.2 450.5,396.2 450.75,396.2 451,396.2 451.25,396.2 451.5,396.2 451.75,396.2 452,396.2 452.25,396.2 452.5,396.2 452.75,396.2 453,396.2 453.25,396.2 453.5,396.2 453.75,396.2 454,396.2 454.25,396.2 454.5,396.2 454.75,396.2 455,396.2 455.25,396.2 455.5,396.2 455.75,396.2 456,396.2 456.25,396.2 456.5,396.2 456.75,396.2 457,396.2 457.25,396.2 457.5,396.2 457.75,396.2 458,396.2 458.25,396.2 458.5,396.2 458.75,396.2 459,396.2 459.25,396.2 459.5,396.2 459.75,396.2 460,396.2 460.25,396.2 460.5,396.2 460.75,396.2 461,396.2 461.25,396.2 461.5,396.2 461.75,396.2 462,396.2 462.25,396.2 462.5,396.2 462.75,396.2 463,396.2 463.25,396.2 463.5,396.2 463.75,396.2 464,396.2 464.25,396.2 464.5,396.2 464.75,396.2 465,396.2 465.25,396.2 465.5,396.2 465.75,396.2 466,396.2 466.25,396.2 466.5,396.2 466.75,396.2 467,396.2 467.25,396.2 467.5,396.2 467.75,396.2 468,396.2 468.25,396.2 468.5,396.2 468.75,396.2 469,396.2 469.25,396.2 469.5,396.2 469.75,396.2 470,396.2 470.25,396.2 470.5,396.2 470.75,396.2 471,396.2 471.25,396.2 471.5,396.2 471.75,396.2 472,396.2 472.25,396.2 472.5,396.2 472.75,396.2 473,396.2 473.25,396.2 473.5,396.2 473.75,396.2 474,396.2 474.25,396.2 474.5,396.2 474.75,396.2 475,396.2 475.25,396.2 475.5,396.2 475.75,396.2 476,396.2 476.25,396.2 476.5,396.2 476.75,396.2 477,396.2 477.25,396.2 477.5,396.2 477.75,396.2 478,396.2 478.25,396.2 478.5,396.2 478.75,396.2 479,396.2 479.25,396.2 479.5,396.2 479.75,396.2 480,396.2 480.25,396.2 480.5,396.2 480.75,396.2 481,396.2 481.25,396.2 481.5,396.2 481.75,396.18 482,395.68 482.25,394.59 482.5,393.27 482.75,392.1 483,391.46 483.25,391.4 483.5,391.4 483.75,391.4 484,391.4 484.25,391.4 484.5,391.4 484.75,391.4 485,391.46 485.25,392.1 485.5,393.27 485.75,394.59 486,395.68 486.25,396.18 486.5,396.2 486.75,396.2 487,396.2 487.25,396.2 487.5,396.2 487.75,396.2 488,396.2 488.25,396.2 488.5,396.2 488.75,396.2 489,396.2 489.25,396.2 489.5,396.2 489.75,396.2 490,396.2 490.25,396.2 490.5,396.2 490.75,396.2" fill="none" stroke="#ea9c80" stroke-width="0.9" stroke-linejoin="round" />
<rect x="58.5" y="335.8" width="432.4" height="136.2" fill="none" stroke="#a0a0a0" stroke-width="0.9" />
<line x1="130.57" y1="472" x2="130.57" y2="467.7" stroke="#a0a0a0" stroke-width="0.9" />
<line x1="130.57" y1="335.8" x2="130.57" y2="340.1" stroke="#a0a0a0" stroke-width="0.9" />
<line x1="202.63" y1="472" x2="202.63" y2="467.7" stroke="#a0a0a0" stroke-width="0.9" />
<line x1="202.63" y1="335.8" x2="202.63" y2="340.1" stroke="#a0a0a0" stroke-width="0.9" />
<line x1="274.7" y1="472" x2="274.7" y2="467.7" stroke="#a0a0a0" stroke-width="0.9" />
<line x1="274.7" y1="335.8" x2="274.7" y2="340.1" stroke="#a0a0a0" stroke-width="0.9" />
<line x1="346.77" y1="472" x2="346.77" y2="467.7" stroke="#a0a0a0" stroke-width="0.9" />
<line x1="346.77" y1="335.8" x2="346.77" y2="340.1" stroke="#a0a0a0" stroke-width="0.9" />
<line x1="418.83" y1="472" x2="418.83" y2="467.7" stroke="#a0a0a0" stroke-width="0.9" />
<line x1="418.83" y1="335.8" x2="418.83" y2="340.1" stroke="#a0a0a0" stroke-width="0.9" />
<line x1="58.5" y1="472" x2="62.8" y2="472" stroke="#a0a0a0" stroke-width="0.9" />
<line x1="490.9" y1="472" x2="486.6" y2="472" stroke="#a0a0a0" stroke-width="0.9" />
<line x1="58.5" y1="456.87" x2="62.8" y2="456.87" stroke="#a0a0a0" stroke-width="0.9" />
<line x1="490.9" y1="456.87" x2="486.6" y2="456.87" stroke="#a0a0a0" stroke-width="0.9" />
<line x1="58.5" y1="441.73" x2="62.8" y2="441.73" stroke="#a0a0a0" stroke-width="0.9" />
<line x1="490.9" y1="441.73" x2="486.6" y2="441.73" stroke="#a0a0a0" stroke-width="0.9" />
<line x1="58.5" y1="426.6" x2="62.8" y2="426.6" stroke="#a0a0a0" stroke-width="0.9" />
<line x1="490.9" y1="426.6" x2="486.6" y2="426.6" stroke="#a0a0a0" stroke-width="0.9" />
<line x1="58.5" y1="411.47" x2="62.8" y2="411.47" stroke="#a0a0a0" stroke-width="0.9" />
<line x1="490.9" y1="411.47" x2="486.6" y2="411.47" stroke="#a0a0a0" stroke-width="0.9" />
<line x1="58.5" y1="396.33" x2="62.8" y2="396.33" stroke="#a0a0a0" stroke-width="0.9" />
<line x1="490.9" y1="396.33" x2="486.6" y2="396.33" stroke="#a0a0a0" stroke-width="0.9" />
<line x1="58.5" y1="381.2" x2="62.8" y2="381.2" stroke="#a0a0a0" stroke-width="0.9" />
<line x1="490.9" y1="381.2" x2="486.6" y2="381.2" stroke="#a0a0a0" stroke-width="0.9" />
<line x1="58.5" y1="366.07" x2="62.8" y2="366.07" stroke="#a0a0a0" stroke-width="0.9" />
<line x1="490.9" y1="366.07" x2="486.6" y2="366.07" stroke="#a0a0a0" stroke-width="0.9" />
<line x1="58.5" y1="350.93" x2="62.8" y2="350.93" stroke="#a0a0a0" stroke-width="0.9" />
<line x1="490.9" y1="350.93" x2="486.6" y2="350.93" stroke="#a0a0a0" stroke-width="0.9" />
<line x1="58.5" y1="335.8" x2="62.8" y2="335.8" stroke="#a0a0a0" stroke-width="0.9" />
<line x1="490.9" y1="335.8" x2="486.6" y2="335.8" stroke="#a0a0a0" stroke-width="0.9" />
<text x="55.9" y="473.9" font-size="5.3" text-anchor="end" fill="#222222" stroke="#333" stroke-width="0.08">0</text>
<text x="55.9" y="458.77" font-size="5.3" text-anchor="end" fill="#222222" stroke="#333" stroke-width="0.08">50</text>
<text x="55.9" y="443.63" font-size="5.3" text-anchor="end" fill="#222222" stroke="#333" stroke-width="0.08">100</text>
<text x="55.9" y="428.5" font-size="5.3" text-anchor="end" fill="#222222" stroke="#333" stroke-width="0.08">150</text>
<text x="55.9" y="413.37" font-size="5.3" text-anchor="end" fill="#222222" stroke="#333" stroke-width="0.08">200</text>
<text x="55.9" y="398.23" font-size="5.3" text-anchor="end" fill="#222222" stroke="#333" stroke-width="0.08">250</text>
<text x="55.9" y="383.1" font-size="5.3" text-anchor="end" fill="#222222" stroke="#333" stroke-width="0.08">300</text>
<text x="55.9" y="367.97" font-size="5.3" text-anchor="end" fill="#222222" stroke="#333" stroke-width="0.08">350</text>
<text x="55.9" y="352.83" font-size="5.3" text-anchor="end" fill="#222222" stroke="#333" stroke-width="0.08">400</text>
<text x="55.9" y="337.7" font-size="5.3" text-anchor="end" fill="#222222" stroke="#333" stroke-width="0.08">450</text>
<text x="58.5" y="479" font-size="5.3" text-anchor="middle" fill="#222222" stroke="#333" stroke-width="0.08">0</text>
<text x="130.57" y="479" font-size="5.3" text-anchor="middle" fill="#222222" stroke="#333" stroke-width="0.08">2,000</text>
<text x="202.63" y="479" font-size="5.3" text-anchor="middle" fill="#222222" stroke="#333" stroke-width="0.08">4,000</text>
<text x="274.7" y="479" font-size="5.3" text-anchor="middle" fill="#222222" stroke="#333" stroke-width="0.08">6,000</text>
<text x="346.77" y="479" font-size="5.3" text-anchor="middle" fill="#222222" stroke="#333" stroke-width="0.08">8,000</text>
<text x="418.83" y="479" font-size="5.3" text-anchor="middle" fill="#222222" stroke="#333" stroke-width="0.08">10,000</text>
<text x="490.9" y="479" font-size="5.3" text-anchor="middle" fill="#222222" stroke="#333" stroke-width="0.08">12,000</text>
<text x="274.7" y="487.2" font-size="5.6" text-anchor="middle" fill="#222222" stroke="#333" stroke-width="0.08">simulation time [min]</text>
<text x="280.9" y="7" font-size="6" text-anchor="middle" font-weight="bold" fill="#0d0d0d" textLength="99" lengthAdjust="spacingAndGlyphs" >Fresh feed, Throughput, and Recycle</text>
<text x="291.2" y="169.2" font-size="6" text-anchor="middle" font-weight="bold" fill="#0d0d0d" textLength="66.4" lengthAdjust="spacingAndGlyphs" >Crusher 1 and Crusher 2</text>
<text x="274.7" y="333.6" font-size="6" text-anchor="middle" font-weight="bold" fill="#0d0d0d" textLength="66.2" lengthAdjust="spacingAndGlyphs" >Crusher Bin and Pebble</text>
<text x="0" y="0" font-size="5.6" text-anchor="middle" fill="#222222" stroke="#333" stroke-width="0.08" transform="translate(44.1,75.4) rotate(-90)" textLength="32.7" lengthAdjust="spacingAndGlyphs">SAG mill [t/h]</text>
<text x="0" y="0" font-size="5.85" text-anchor="middle" fill="#222222" stroke="#333" stroke-width="0.08" transform="translate(44.9,238.4) rotate(-90)" textLength="61.7" lengthAdjust="spacingAndGlyphs">Crusher throughput [t/h]</text>
<text x="0" y="0" font-size="5.93" text-anchor="middle" fill="#222222" stroke="#333" stroke-width="0.08" transform="translate(43.9,404.4) rotate(-90)" textLength="74.5" lengthAdjust="spacingAndGlyphs">Material [t] / Pebble rate [t/h]</text>
<text x="9.3" y="82.6" font-size="11.5" text-anchor="middle" font-family="Liberation Serif, serif" fill="#111" stroke="#111" stroke-width="0.2">(<tspan font-size="10.6" font-weight="bold" stroke-width="0.1">a</tspan>)</text>
<text x="9.3" y="245.4" font-size="11.5" text-anchor="middle" font-family="Liberation Serif, serif" fill="#111" stroke="#111" stroke-width="0.2">(<tspan font-size="10.6" font-weight="bold" stroke-width="0.1">b</tspan>)</text>
<text x="9.3" y="411.2" font-size="11.5" text-anchor="middle" font-family="Liberation Serif, serif" fill="#111" stroke="#111" stroke-width="0.2">(<tspan font-size="10.6" font-weight="bold" stroke-width="0.1">c</tspan>)</text>
<text x="115.61" y="14.5" font-size="5.1" text-anchor="middle" fill="#0d0d0d" stroke="#222" stroke-width="0.1">Run 9</text>
<text x="115.61" y="21.8" font-size="6.05" text-anchor="middle" fill="#0d0d0d" stroke="#222" stroke-width="0.1">Freshfeed Avg: 1032.43</text>
<text x="115.61" y="28.2" font-size="6.05" text-anchor="middle" fill="#0d0d0d" stroke="#222" stroke-width="0.1">Throughput Avg: 1293.07</text>
<text x="115.61" y="34.5" font-size="6.05" text-anchor="middle" fill="#0d0d0d" stroke="#222" stroke-width="0.1">Recycle Avg: 317.12</text>
<text x="225.84" y="14.5" font-size="5.1" text-anchor="middle" fill="#0d0d0d" stroke="#222" stroke-width="0.1">Run 10</text>
<text x="225.84" y="21.8" font-size="6.05" text-anchor="middle" fill="#0d0d0d" stroke="#222" stroke-width="0.1">Freshfeed Avg: 917.71</text>
<text x="225.84" y="28.2" font-size="6.05" text-anchor="middle" fill="#0d0d0d" stroke="#222" stroke-width="0.1">Throughput Avg: 1280.27</text>
<text x="225.84" y="34.5" font-size="6.05" text-anchor="middle" fill="#0d0d0d" stroke="#222" stroke-width="0.1">Recycle Avg: 362.32</text>
<text x="336.06" y="14.5" font-size="5.1" text-anchor="middle" fill="#0d0d0d" stroke="#222" stroke-width="0.1">Run 11</text>
<text x="336.06" y="21.8" font-size="6.05" text-anchor="middle" fill="#0d0d0d" stroke="#222" stroke-width="0.1">Freshfeed Avg: 1167.05</text>
<text x="336.06" y="28.2" font-size="6.05" text-anchor="middle" fill="#0d0d0d" stroke="#222" stroke-width="0.1">Throughput Avg: 1401.24</text>
<text x="336.06" y="34.5" font-size="6.05" text-anchor="middle" fill="#0d0d0d" stroke="#222" stroke-width="0.1">Recycle Avg: 233.98</text>
<text x="446.29" y="14.5" font-size="5.1" text-anchor="middle" fill="#0d0d0d" stroke="#222" stroke-width="0.1">Run 12</text>
<text x="446.29" y="21.8" font-size="6.05" text-anchor="middle" fill="#0d0d0d" stroke="#222" stroke-width="0.1">Freshfeed Avg: 1111.70</text>
<text x="446.29" y="28.2" font-size="6.05" text-anchor="middle" fill="#0d0d0d" stroke="#222" stroke-width="0.1">Throughput Avg: 1364.43</text>
<text x="446.29" y="34.5" font-size="6.05" text-anchor="middle" fill="#0d0d0d" stroke="#222" stroke-width="0.1">Recycle Avg: 252.79</text>
<text x="116.53" y="176.4" font-size="5.1" text-anchor="middle" fill="#0d0d0d" stroke="#222" stroke-width="0.1">Run 9</text>
<text x="116.53" y="184.3" font-size="6.25" text-anchor="middle" fill="#0d0d0d" stroke="#222" stroke-width="0.1">Crusher 1 Avg: 228.32</text>
<text x="116.53" y="191" font-size="6.25" text-anchor="middle" fill="#0d0d0d" stroke="#222" stroke-width="0.1">Crusher 2 Avg: 88.80</text>
<text x="232.98" y="176.4" font-size="5.1" text-anchor="middle" fill="#0d0d0d" stroke="#222" stroke-width="0.1">Run 10</text>
<text x="232.98" y="184.3" font-size="6.25" text-anchor="middle" fill="#0d0d0d" stroke="#222" stroke-width="0.1">Crusher 1 Avg: 240.00</text>
<text x="232.98" y="191" font-size="6.25" text-anchor="middle" fill="#0d0d0d" stroke="#222" stroke-width="0.1">Crusher 2 Avg: 122.32</text>
<text x="349.43" y="176.4" font-size="5.1" text-anchor="middle" fill="#0d0d0d" stroke="#222" stroke-width="0.1">Run 11</text>
<text x="349.43" y="184.3" font-size="6.25" text-anchor="middle" fill="#0d0d0d" stroke="#222" stroke-width="0.1">Crusher 1 Avg: 233.98</text>
<text x="349.43" y="191" font-size="6.25" text-anchor="middle" fill="#0d0d0d" stroke="#222" stroke-width="0.1">Crusher 2 Avg: 0.00</text>
<text x="465.88" y="176.4" font-size="5.1" text-anchor="middle" fill="#0d0d0d" stroke="#222" stroke-width="0.1">Run 12</text>
<text x="465.88" y="184.3" font-size="6.25" text-anchor="middle" fill="#0d0d0d" stroke="#222" stroke-width="0.1">Crusher 1 Avg: 239.83</text>
<text x="465.88" y="191" font-size="6.25" text-anchor="middle" fill="#0d0d0d" stroke="#222" stroke-width="0.1">Crusher 2 Avg: 12.96</text>
<text x="111.85" y="340.9" font-size="5.2" text-anchor="middle" fill="#0d0d0d" stroke="#222" stroke-width="0.1">Run 9</text>
<text x="111.85" y="348.9" font-size="6.3" text-anchor="middle" fill="#0d0d0d" stroke="#222" stroke-width="0.1">Crusher Bin Avg: 142.17</text>
<text x="111.85" y="355.6" font-size="6.3" text-anchor="middle" fill="#0d0d0d" stroke="#222" stroke-width="0.1">Pebble Avg: 320.76</text>
<text x="219.95" y="340.9" font-size="5.2" text-anchor="middle" fill="#0d0d0d" stroke="#222" stroke-width="0.1">Run 10</text>
<text x="219.95" y="348.9" font-size="6.3" text-anchor="middle" fill="#0d0d0d" stroke="#222" stroke-width="0.1">Crusher Bin Avg: 145.50</text>
<text x="219.95" y="355.6" font-size="6.3" text-anchor="middle" fill="#0d0d0d" stroke="#222" stroke-width="0.1">Pebble Avg: 362.26</text>
<text x="328.05" y="340.9" font-size="5.2" text-anchor="middle" fill="#0d0d0d" stroke="#222" stroke-width="0.1">Run 11</text>
<text x="328.05" y="348.9" font-size="6.3" text-anchor="middle" fill="#0d0d0d" stroke="#222" stroke-width="0.1">Crusher Bin Avg: 66.40</text>
<text x="328.05" y="355.6" font-size="6.3" text-anchor="middle" fill="#0d0d0d" stroke="#222" stroke-width="0.1">Pebble Avg: 230.41</text>
<text x="436.15" y="340.9" font-size="5.2" text-anchor="middle" fill="#0d0d0d" stroke="#222" stroke-width="0.1">Run 12</text>
<text x="436.15" y="348.9" font-size="6.3" text-anchor="middle" fill="#0d0d0d" stroke="#222" stroke-width="0.1">Crusher Bin Avg: 139.37</text>
<text x="436.15" y="355.6" font-size="6.3" text-anchor="middle" fill="#0d0d0d" stroke="#222" stroke-width="0.1">Pebble Avg: 253.84</text>
<rect x="486.6" y="8.7" width="51.3" height="25.9" fill="#ffffff" stroke="#a6a6a6" stroke-width="0.8" />
<line x1="487.9" y1="13.4" x2="502.9" y2="13.4" stroke="#8fc1ea" stroke-width="0.9" />
<text x="504.4" y="15.8" font-size="6" text-anchor="start" fill="#0d0d0d" stroke="#222" stroke-width="0.1">Fresh feed</text>
<line x1="487.9" y1="21.9" x2="502.9" y2="21.9" stroke="#ea9c80" stroke-width="0.9" />
<text x="504.4" y="24.3" font-size="6" text-anchor="start" fill="#0d0d0d" stroke="#222" stroke-width="0.1">Throughput</text>
<line x1="487.9" y1="30.3" x2="502.9" y2="30.3" stroke="#f4cf8a" stroke-width="0.9" />
<text x="504.4" y="32.7" font-size="6" text-anchor="start" fill="#0d0d0d" stroke="#222" stroke-width="0.1">Recycle</text>
<rect x="499.4" y="173" width="48.6" height="18.6" fill="#ffffff" stroke="#a6a6a6" stroke-width="0.8" />
<line x1="501" y1="178.6" x2="516" y2="178.6" stroke="#8fc1ea" stroke-width="0.9" />
<text x="517.6" y="181" font-size="6" text-anchor="start" fill="#0d0d0d" stroke="#222" stroke-width="0.1">Crusher 1</text>
<line x1="501" y1="187" x2="516" y2="187" stroke="#ea9c80" stroke-width="0.9" />
<text x="517.6" y="189.4" font-size="6" text-anchor="start" fill="#0d0d0d" stroke="#222" stroke-width="0.1">Crusher 2</text>
<rect x="471.1" y="339.6" width="54.7" height="18.6" fill="#ffffff" stroke="#a6a6a6" stroke-width="0.8" />
<line x1="473" y1="345" x2="488.4" y2="345" stroke="#8fc1ea" stroke-width="0.9" />
<text x="490.2" y="347.4" font-size="6" text-anchor="start" fill="#0d0d0d" stroke="#222" stroke-width="0.1">Crusher Bin</text>
<line x1="473" y1="353.1" x2="488.4" y2="353.1" stroke="#ea9c80" stroke-width="0.9" />
<text x="490.2" y="355.5" font-size="6" text-anchor="start" fill="#0d0d0d" stroke="#222" stroke-width="0.1">Pebble</text>
</svg>
</body></html>
